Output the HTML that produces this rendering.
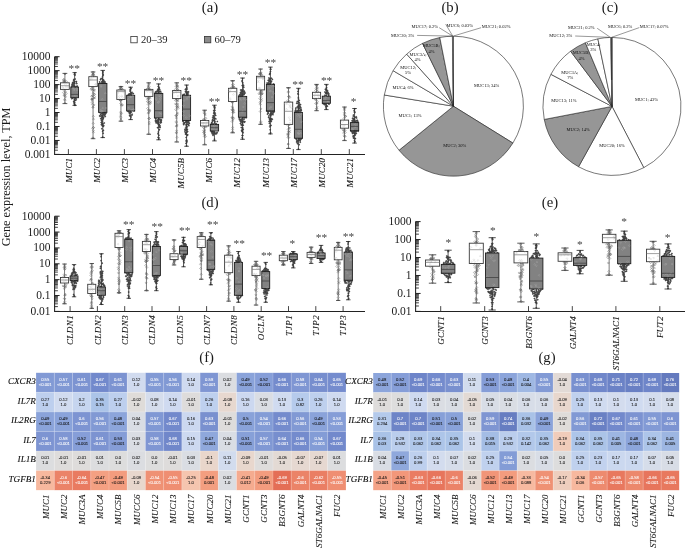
<!DOCTYPE html>
<html lang="en"><head><meta charset="utf-8"><title>Figure</title>
<style>html,body{margin:0;padding:0;background:#fff}body{width:685px;height:549px;overflow:hidden}svg{display:block}</style>
</head><body>
<svg width="685" height="549" viewBox="0 0 685 549" font-family='"Liberation Serif","DejaVu Serif",serif'>
<rect width="685" height="549" fill="#fff"/>
<text x="210" y="12.3" text-anchor="middle" font-size="14.7" fill="#1a1a1a">(a)</text>
<text x="450" y="12.3" text-anchor="middle" font-size="14.7" fill="#1a1a1a">(b)</text>
<text x="610" y="12.3" text-anchor="middle" font-size="14.7" fill="#1a1a1a">(c)</text>
<text x="210" y="207" text-anchor="middle" font-size="14.7" fill="#1a1a1a">(d)</text>
<text x="550" y="207" text-anchor="middle" font-size="14.7" fill="#1a1a1a">(e)</text>
<text x="206.6" y="362.3" text-anchor="middle" font-size="14.7" fill="#1a1a1a">(f)</text>
<text x="547" y="362" text-anchor="middle" font-size="14.7" fill="#1a1a1a">(g)</text>
<rect x="130.8" y="36.4" width="6.4" height="6.4" fill="#fff" stroke="#333" stroke-width="0.8"/>
<text x="141" y="43" font-size="10.6" fill="#1a1a1a">20–39</text>
<rect x="204.4" y="36.4" width="6.4" height="6.4" fill="#8c8c8c" stroke="#333" stroke-width="0.8"/>
<text x="214.4" y="43" font-size="10.6" fill="#1a1a1a">60–79</text>
<text transform="translate(10.4 246.2) rotate(-90)" font-size="12.2" fill="#1a1a1a">Gene expression level, TPM</text>
<g id="panel-a">
<path d="M62.65 80.57l1-1 1 1-1 1zM62.84 79.36l1-1 1 1-1 1zM63.64 82.45l1-1 1 1-1 1zM62.86 79.7l1-1 1 1-1 1zM62.87 82.17l1-1 1 1-1 1zM63.96 73.89l1-1 1 1-1 1zM65.53 81.6l1-1 1 1-1 1zM62.71 81.43l1-1 1 1-1 1zM63.29 81.11l1-1 1 1-1 1zM64.16 81.1l1-1 1 1-1 1zM64.01 94.69l1-1 1 1-1 1zM64.48 91.91l1-1 1 1-1 1zM63.21 90.39l1-1 1 1-1 1zM63.49 95.84l1-1 1 1-1 1zM63.58 99.33l1-1 1 1-1 1zM64.57 96.86l1-1 1 1-1 1zM65.2 93.49l1-1 1 1-1 1zM63.13 95.22l1-1 1 1-1 1zM62.54 92.69l1-1 1 1-1 1zM63.98 100.26l1-1 1 1-1 1zM63.9 74l1-1 1 1-1 1zM63.9 103l1-1 1 1-1 1z" fill="none" stroke="#707070" stroke-width="0.5"/><line x1="64.9" y1="73.4" x2="64.9" y2="103.6" stroke="#5a5a5a" stroke-width="0.8"/><path d="M62.5 73.4h4.8M62.5 103.6h4.8" stroke="#333" stroke-width="0.8" fill="none"/><rect x="60.5" y="82.8" width="8.8" height="6.6" fill="#fff" stroke="#3a3a3a" stroke-width="0.9"/><path d="M64.56 84.26l.9-.9 .9 .9-.9 .9zM67.13 87.1l.9-.9 .9 .9-.9 .9zM65.04 86.89l.9-.9 .9 .9-.9 .9zM62.48 87.91l.9-.9 .9 .9-.9 .9zM61.66 87.29l.9-.9 .9 .9-.9 .9z" fill="none" stroke="#c4c4c4" stroke-width="0.4"/><line x1="60.5" y1="85.7" x2="69.3" y2="85.7" stroke="#777" stroke-width="0.7"/>
<path d="M70.51 86.56l1.05-1.05 1.05 1.05-1.05 1.05zM72.09 85.31l1.05-1.05 1.05 1.05-1.05 1.05zM73.27 86.04l1.05-1.05 1.05 1.05-1.05 1.05zM76.11 85.99l1.05-1.05 1.05 1.05-1.05 1.05zM73.35 74.59l1.05-1.05 1.05 1.05-1.05 1.05zM75.26 81.84l1.05-1.05 1.05 1.05-1.05 1.05zM72.63 80.62l1.05-1.05 1.05 1.05-1.05 1.05zM74.24 86.71l1.05-1.05 1.05 1.05-1.05 1.05zM71.6 82.52l1.05-1.05 1.05 1.05-1.05 1.05zM75.75 83.6l1.05-1.05 1.05 1.05-1.05 1.05zM73.67 83.33l1.05-1.05 1.05 1.05-1.05 1.05zM76.41 86.59l1.05-1.05 1.05 1.05-1.05 1.05zM73.93 74.43l1.05-1.05 1.05 1.05-1.05 1.05zM72.94 85.98l1.05-1.05 1.05 1.05-1.05 1.05zM70.69 86.23l1.05-1.05 1.05 1.05-1.05 1.05zM71.36 86.1l1.05-1.05 1.05 1.05-1.05 1.05zM70.98 87.12l1.05-1.05 1.05 1.05-1.05 1.05zM72.57 87.17l1.05-1.05 1.05 1.05-1.05 1.05zM72.02 83.23l1.05-1.05 1.05 1.05-1.05 1.05zM72.92 83.19l1.05-1.05 1.05 1.05-1.05 1.05zM75.3 81.5l1.05-1.05 1.05 1.05-1.05 1.05zM73.54 81.66l1.05-1.05 1.05 1.05-1.05 1.05zM72.39 84.2l1.05-1.05 1.05 1.05-1.05 1.05zM70.92 84.84l1.05-1.05 1.05 1.05-1.05 1.05zM72.73 79.49l1.05-1.05 1.05 1.05-1.05 1.05zM70.9 84.96l1.05-1.05 1.05 1.05-1.05 1.05zM74.05 79.12l1.05-1.05 1.05 1.05-1.05 1.05zM72.72 86.1l1.05-1.05 1.05 1.05-1.05 1.05zM75.55 86.51l1.05-1.05 1.05 1.05-1.05 1.05zM72.53 82.21l1.05-1.05 1.05 1.05-1.05 1.05zM73.95 72.9l1.05-1.05 1.05 1.05-1.05 1.05zM73.89 75.25l1.05-1.05 1.05 1.05-1.05 1.05zM71.43 83.39l1.05-1.05 1.05 1.05-1.05 1.05zM72.01 97.92l1.05-1.05 1.05 1.05-1.05 1.05zM73.35 99.61l1.05-1.05 1.05 1.05-1.05 1.05zM74.06 105.1l1.05-1.05 1.05 1.05-1.05 1.05zM73.1 102.75l1.05-1.05 1.05 1.05-1.05 1.05zM74.44 98.18l1.05-1.05 1.05 1.05-1.05 1.05zM73.58 104.17l1.05-1.05 1.05 1.05-1.05 1.05zM75.23 99.08l1.05-1.05 1.05 1.05-1.05 1.05zM74.72 100.22l1.05-1.05 1.05 1.05-1.05 1.05zM72.7 101.38l1.05-1.05 1.05 1.05-1.05 1.05zM74.78 100.26l1.05-1.05 1.05 1.05-1.05 1.05zM73.26 100.75l1.05-1.05 1.05 1.05-1.05 1.05zM73.11 103.28l1.05-1.05 1.05 1.05-1.05 1.05zM72.72 101.7l1.05-1.05 1.05 1.05-1.05 1.05zM73.16 103.91l1.05-1.05 1.05 1.05-1.05 1.05zM73.76 105.1l1.05-1.05 1.05 1.05-1.05 1.05zM70.76 98.79l1.05-1.05 1.05 1.05-1.05 1.05zM73.65 102.7l1.05-1.05 1.05 1.05-1.05 1.05zM73.6 73.2l1.05-1.05 1.05 1.05-1.05 1.05zM73.6 104.8l1.05-1.05 1.05 1.05-1.05 1.05z" fill="#262626" fill-opacity="0.85"/><line x1="74.65" y1="72.6" x2="74.65" y2="105.4" stroke="#3a3a3a" stroke-width="0.85"/><path d="M72.53 72.6h4.25M72.53 105.4h4.25" stroke="#222" stroke-width="0.8" fill="none"/><rect x="70.8" y="87.2" width="7.7" height="10.5" fill="#828282" stroke="#1e1e1e" stroke-width="0.9"/><path d="M76.04 88.37l.9-.9 .9 .9-.9 .9zM72.15 88.02l.9-.9 .9 .9-.9 .9zM73.25 89.92l.9-.9 .9 .9-.9 .9zM74.26 95.63l.9-.9 .9 .9-.9 .9zM76.32 90.03l.9-.9 .9 .9-.9 .9zM73.38 88.44l.9-.9 .9 .9-.9 .9z" fill="none" stroke="#a9a9a9" stroke-width="0.4"/><line x1="70.8" y1="94.4" x2="78.5" y2="94.4" stroke="#3a3a3a" stroke-width="0.7"/>
<text x="74.2" y="72.45" text-anchor="middle" font-size="11.4" fill="#444">**</text>
<path d="M90.12 76.66l1-1 1 1-1 1zM91.97 75.87l1-1 1 1-1 1zM91.76 74.03l1-1 1 1-1 1zM92.52 74.03l1-1 1 1-1 1zM91.37 75.76l1-1 1 1-1 1zM92.16 74.26l1-1 1 1-1 1zM92.01 72.32l1-1 1 1-1 1zM92.07 74.27l1-1 1 1-1 1zM92.12 74.53l1-1 1 1-1 1zM93.62 76.32l1-1 1 1-1 1zM92.42 132.27l1-1 1 1-1 1zM92.54 119.13l1-1 1 1-1 1zM90.98 99.37l1-1 1 1-1 1zM90.74 96.32l1-1 1 1-1 1zM92.46 127.44l1-1 1 1-1 1zM92.81 91.36l1-1 1 1-1 1zM93.3 94.05l1-1 1 1-1 1zM93.37 98.04l1-1 1 1-1 1zM92.35 130.67l1-1 1 1-1 1zM91.8 90.14l1-1 1 1-1 1zM91.31 104.27l1-1 1 1-1 1zM92.26 87.1l1-1 1 1-1 1zM90.28 89.45l1-1 1 1-1 1zM90.81 99.04l1-1 1 1-1 1zM92.53 127.67l1-1 1 1-1 1zM91.38 98.88l1-1 1 1-1 1zM90.67 88.7l1-1 1 1-1 1zM93.26 97.99l1-1 1 1-1 1zM91.08 100.07l1-1 1 1-1 1zM92.37 116.33l1-1 1 1-1 1zM91.89 107.43l1-1 1 1-1 1zM93.46 94.48l1-1 1 1-1 1zM91.64 128.36l1-1 1 1-1 1zM93.36 90.07l1-1 1 1-1 1zM93.36 96.44l1-1 1 1-1 1zM91.09 102.28l1-1 1 1-1 1zM90.94 99.02l1-1 1 1-1 1zM91.47 95.91l1-1 1 1-1 1zM93 89.65l1-1 1 1-1 1zM91.57 95.73l1-1 1 1-1 1zM91.07 86.61l1-1 1 1-1 1zM90.89 88.56l1-1 1 1-1 1zM93.09 104.96l1-1 1 1-1 1zM92.03 93.11l1-1 1 1-1 1zM92.06 107.08l1-1 1 1-1 1zM91.94 137.79l1-1 1 1-1 1zM92.21 123.42l1-1 1 1-1 1zM92.05 72.5l1-1 1 1-1 1zM92.05 138.1l1-1 1 1-1 1z" fill="none" stroke="#707070" stroke-width="0.5"/><line x1="93.05" y1="71.9" x2="93.05" y2="138.7" stroke="#5a5a5a" stroke-width="0.8"/><path d="M90.72 71.9h4.65M90.72 138.7h4.65" stroke="#333" stroke-width="0.8" fill="none"/><rect x="88.8" y="76.7" width="8.5" height="9.9" fill="#fff" stroke="#3a3a3a" stroke-width="0.9"/><path d="M89.12 79.6l.9-.9 .9 .9-.9 .9zM89.86 77.6l.9-.9 .9 .9-.9 .9zM94.67 84.43l.9-.9 .9 .9-.9 .9zM91.87 77.59l.9-.9 .9 .9-.9 .9zM90.54 79.31l.9-.9 .9 .9-.9 .9zM95.32 84.52l.9-.9 .9 .9-.9 .9z" fill="none" stroke="#c4c4c4" stroke-width="0.4"/><line x1="88.8" y1="80" x2="97.3" y2="80" stroke="#777" stroke-width="0.7"/>
<path d="M100.66 82.7l1.05-1.05 1.05 1.05-1.05 1.05zM101.71 80.44l1.05-1.05 1.05 1.05-1.05 1.05zM101.73 80.68l1.05-1.05 1.05 1.05-1.05 1.05zM100.9 83.36l1.05-1.05 1.05 1.05-1.05 1.05zM98.6 81.92l1.05-1.05 1.05 1.05-1.05 1.05zM101.92 82.98l1.05-1.05 1.05 1.05-1.05 1.05zM102.1 74.89l1.05-1.05 1.05 1.05-1.05 1.05zM101.07 78.4l1.05-1.05 1.05 1.05-1.05 1.05zM103.07 81.54l1.05-1.05 1.05 1.05-1.05 1.05zM99.96 78.66l1.05-1.05 1.05 1.05-1.05 1.05zM101.84 71.82l1.05-1.05 1.05 1.05-1.05 1.05zM101.87 82.73l1.05-1.05 1.05 1.05-1.05 1.05zM103.79 81.64l1.05-1.05 1.05 1.05-1.05 1.05zM101.8 72.67l1.05-1.05 1.05 1.05-1.05 1.05zM102.03 74.55l1.05-1.05 1.05 1.05-1.05 1.05zM100.84 81.58l1.05-1.05 1.05 1.05-1.05 1.05zM104.28 83.12l1.05-1.05 1.05 1.05-1.05 1.05zM102.56 79.93l1.05-1.05 1.05 1.05-1.05 1.05zM99.39 79.8l1.05-1.05 1.05 1.05-1.05 1.05zM101.7 73.7l1.05-1.05 1.05 1.05-1.05 1.05zM103.43 82.77l1.05-1.05 1.05 1.05-1.05 1.05zM98.76 82.36l1.05-1.05 1.05 1.05-1.05 1.05zM103.56 83.18l1.05-1.05 1.05 1.05-1.05 1.05zM101.37 77.03l1.05-1.05 1.05 1.05-1.05 1.05zM102.74 81.03l1.05-1.05 1.05 1.05-1.05 1.05zM101.99 75.42l1.05-1.05 1.05 1.05-1.05 1.05zM103.25 81.81l1.05-1.05 1.05 1.05-1.05 1.05zM102.1 81.26l1.05-1.05 1.05 1.05-1.05 1.05zM102.64 80.81l1.05-1.05 1.05 1.05-1.05 1.05zM102.93 82.42l1.05-1.05 1.05 1.05-1.05 1.05zM101.55 79.42l1.05-1.05 1.05 1.05-1.05 1.05zM104.71 113.22l1.05-1.05 1.05 1.05-1.05 1.05zM100.8 128.8l1.05-1.05 1.05 1.05-1.05 1.05zM103.9 114.67l1.05-1.05 1.05 1.05-1.05 1.05zM100.97 123.73l1.05-1.05 1.05 1.05-1.05 1.05zM102.17 116.97l1.05-1.05 1.05 1.05-1.05 1.05zM101.87 114.03l1.05-1.05 1.05 1.05-1.05 1.05zM103.73 115.74l1.05-1.05 1.05 1.05-1.05 1.05zM100.58 120.74l1.05-1.05 1.05 1.05-1.05 1.05zM100.33 124.65l1.05-1.05 1.05 1.05-1.05 1.05zM101.66 119.58l1.05-1.05 1.05 1.05-1.05 1.05zM100.54 113.65l1.05-1.05 1.05 1.05-1.05 1.05zM103.8 116.08l1.05-1.05 1.05 1.05-1.05 1.05zM98.64 112.46l1.05-1.05 1.05 1.05-1.05 1.05zM102.34 130.37l1.05-1.05 1.05 1.05-1.05 1.05zM101.38 125.89l1.05-1.05 1.05 1.05-1.05 1.05zM101.17 121.81l1.05-1.05 1.05 1.05-1.05 1.05zM99.89 112.47l1.05-1.05 1.05 1.05-1.05 1.05zM100.99 123.15l1.05-1.05 1.05 1.05-1.05 1.05zM100.53 118.68l1.05-1.05 1.05 1.05-1.05 1.05zM100.36 120.38l1.05-1.05 1.05 1.05-1.05 1.05zM102.44 126.5l1.05-1.05 1.05 1.05-1.05 1.05zM104.19 116.39l1.05-1.05 1.05 1.05-1.05 1.05zM102.24 126.24l1.05-1.05 1.05 1.05-1.05 1.05zM103.63 113.25l1.05-1.05 1.05 1.05-1.05 1.05zM100.75 120.08l1.05-1.05 1.05 1.05-1.05 1.05zM101.52 115.7l1.05-1.05 1.05 1.05-1.05 1.05zM100.24 114.04l1.05-1.05 1.05 1.05-1.05 1.05zM102.54 117.82l1.05-1.05 1.05 1.05-1.05 1.05zM102.14 113.21l1.05-1.05 1.05 1.05-1.05 1.05zM99.66 114.48l1.05-1.05 1.05 1.05-1.05 1.05zM100.92 124.93l1.05-1.05 1.05 1.05-1.05 1.05zM101.65 137.3l1.05-1.05 1.05 1.05-1.05 1.05zM99.79 116.04l1.05-1.05 1.05 1.05-1.05 1.05zM99.83 114.08l1.05-1.05 1.05 1.05-1.05 1.05zM102.17 114.98l1.05-1.05 1.05 1.05-1.05 1.05zM101.57 131.29l1.05-1.05 1.05 1.05-1.05 1.05zM100.92 119.18l1.05-1.05 1.05 1.05-1.05 1.05zM100.03 113.44l1.05-1.05 1.05 1.05-1.05 1.05zM101.72 115.57l1.05-1.05 1.05 1.05-1.05 1.05zM100.23 115.61l1.05-1.05 1.05 1.05-1.05 1.05zM101.08 116.14l1.05-1.05 1.05 1.05-1.05 1.05zM102.68 125.54l1.05-1.05 1.05 1.05-1.05 1.05zM98.86 116.31l1.05-1.05 1.05 1.05-1.05 1.05zM102.13 118.73l1.05-1.05 1.05 1.05-1.05 1.05zM101.09 117.27l1.05-1.05 1.05 1.05-1.05 1.05zM102.13 133.2l1.05-1.05 1.05 1.05-1.05 1.05zM99.74 118.66l1.05-1.05 1.05 1.05-1.05 1.05zM103.2 122.98l1.05-1.05 1.05 1.05-1.05 1.05zM102.77 113.9l1.05-1.05 1.05 1.05-1.05 1.05zM101.86 123.92l1.05-1.05 1.05 1.05-1.05 1.05zM104.86 113.43l1.05-1.05 1.05 1.05-1.05 1.05zM100.61 117.43l1.05-1.05 1.05 1.05-1.05 1.05zM103.3 112.51l1.05-1.05 1.05 1.05-1.05 1.05zM100.17 122.43l1.05-1.05 1.05 1.05-1.05 1.05zM100.29 118.47l1.05-1.05 1.05 1.05-1.05 1.05zM98.63 115.88l1.05-1.05 1.05 1.05-1.05 1.05zM101.7 71l1.05-1.05 1.05 1.05-1.05 1.05zM101.7 137l1.05-1.05 1.05 1.05-1.05 1.05z" fill="#262626" fill-opacity="0.85"/><line x1="102.75" y1="70.4" x2="102.75" y2="137.6" stroke="#3a3a3a" stroke-width="0.85"/><path d="M100.47 70.4h4.55M100.47 137.6h4.55" stroke="#222" stroke-width="0.8" fill="none"/><rect x="98.6" y="83.5" width="8.3" height="28.9" fill="#828282" stroke="#1e1e1e" stroke-width="0.9"/><path d="M104.4 93.14l.9-.9 .9 .9-.9 .9zM100.17 86.63l.9-.9 .9 .9-.9 .9zM101.84 111.21l.9-.9 .9 .9-.9 .9zM100.24 85.55l.9-.9 .9 .9-.9 .9zM100.77 111.4l.9-.9 .9 .9-.9 .9zM99.85 110.24l.9-.9 .9 .9-.9 .9zM104.97 108.08l.9-.9 .9 .9-.9 .9zM100.06 111.49l.9-.9 .9 .9-.9 .9zM101.82 108.03l.9-.9 .9 .9-.9 .9zM101.3 99.34l.9-.9 .9 .9-.9 .9z" fill="none" stroke="#a9a9a9" stroke-width="0.4"/><line x1="98.6" y1="101.5" x2="106.9" y2="101.5" stroke="#3a3a3a" stroke-width="0.7"/>
<text x="102.6" y="70.25" text-anchor="middle" font-size="11.4" fill="#444">**</text>
<path d="M119.67 86.9l1-1 1 1-1 1zM118.85 89.41l1-1 1 1-1 1zM119.45 87.5l1-1 1 1-1 1zM120.4 88.42l1-1 1 1-1 1zM119.82 86.9l1-1 1 1-1 1zM120.98 88.82l1-1 1 1-1 1zM120.56 89.89l1-1 1 1-1 1zM118.94 89.4l1-1 1 1-1 1zM119.28 89.39l1-1 1 1-1 1zM121.45 89.53l1-1 1 1-1 1zM119.42 100.36l1-1 1 1-1 1zM119.89 117.34l1-1 1 1-1 1zM121.07 105.29l1-1 1 1-1 1zM119.46 100.47l1-1 1 1-1 1zM119.62 100.16l1-1 1 1-1 1zM119.47 116.14l1-1 1 1-1 1zM119.57 112.12l1-1 1 1-1 1zM119.82 119l1-1 1 1-1 1zM121.22 104.73l1-1 1 1-1 1zM120.53 105.19l1-1 1 1-1 1zM120.93 99.58l1-1 1 1-1 1zM120.57 113.26l1-1 1 1-1 1zM118.95 100.02l1-1 1 1-1 1zM119.8 114.02l1-1 1 1-1 1zM119.74 103.54l1-1 1 1-1 1zM119.95 87.2l1-1 1 1-1 1zM119.95 120.6l1-1 1 1-1 1z" fill="none" stroke="#707070" stroke-width="0.5"/><line x1="120.95" y1="86.6" x2="120.95" y2="121.2" stroke="#5a5a5a" stroke-width="0.8"/><path d="M118.67 86.6h4.55M118.67 121.2h4.55" stroke="#333" stroke-width="0.8" fill="none"/><rect x="116.8" y="90" width="8.3" height="9.5" fill="#fff" stroke="#3a3a3a" stroke-width="0.9"/><path d="M121.63 97.44l.9-.9 .9 .9-.9 .9zM120.76 95.89l.9-.9 .9 .9-.9 .9zM117.25 93.16l.9-.9 .9 .9-.9 .9zM118.37 96.42l.9-.9 .9 .9-.9 .9zM123.24 92.56l.9-.9 .9 .9-.9 .9zM118.49 98.21l.9-.9 .9 .9-.9 .9z" fill="none" stroke="#c4c4c4" stroke-width="0.4"/><line x1="116.8" y1="91.6" x2="125.1" y2="91.6" stroke="#777" stroke-width="0.7"/>
<path d="M130.58 93.11l1.05-1.05 1.05 1.05-1.05 1.05zM128.12 93.78l1.05-1.05 1.05 1.05-1.05 1.05zM130.68 92.83l1.05-1.05 1.05 1.05-1.05 1.05zM128.93 89.92l1.05-1.05 1.05 1.05-1.05 1.05zM129.9 92.92l1.05-1.05 1.05 1.05-1.05 1.05zM130.67 92.97l1.05-1.05 1.05 1.05-1.05 1.05zM126.87 95.27l1.05-1.05 1.05 1.05-1.05 1.05zM129.21 90.62l1.05-1.05 1.05 1.05-1.05 1.05zM132.22 93.6l1.05-1.05 1.05 1.05-1.05 1.05zM130.69 94.82l1.05-1.05 1.05 1.05-1.05 1.05zM129.43 94.47l1.05-1.05 1.05 1.05-1.05 1.05zM130.09 88.49l1.05-1.05 1.05 1.05-1.05 1.05zM129.04 91.2l1.05-1.05 1.05 1.05-1.05 1.05zM129.98 93.04l1.05-1.05 1.05 1.05-1.05 1.05zM130.97 92.28l1.05-1.05 1.05 1.05-1.05 1.05zM129.21 89.64l1.05-1.05 1.05 1.05-1.05 1.05zM129.2 87.64l1.05-1.05 1.05 1.05-1.05 1.05zM128.8 94.14l1.05-1.05 1.05 1.05-1.05 1.05zM127.77 94.21l1.05-1.05 1.05 1.05-1.05 1.05zM128.38 113.77l1.05-1.05 1.05 1.05-1.05 1.05zM128.73 112.97l1.05-1.05 1.05 1.05-1.05 1.05zM127.62 111.74l1.05-1.05 1.05 1.05-1.05 1.05zM128.55 115.67l1.05-1.05 1.05 1.05-1.05 1.05zM129.06 112.83l1.05-1.05 1.05 1.05-1.05 1.05zM127.29 111.58l1.05-1.05 1.05 1.05-1.05 1.05zM129 111.72l1.05-1.05 1.05 1.05-1.05 1.05zM128.67 113.03l1.05-1.05 1.05 1.05-1.05 1.05zM129.33 116.54l1.05-1.05 1.05 1.05-1.05 1.05zM129.33 116.31l1.05-1.05 1.05 1.05-1.05 1.05zM129.96 117.09l1.05-1.05 1.05 1.05-1.05 1.05zM129.44 116.14l1.05-1.05 1.05 1.05-1.05 1.05zM130.92 114.43l1.05-1.05 1.05 1.05-1.05 1.05zM127.03 111.09l1.05-1.05 1.05 1.05-1.05 1.05zM131.1 114.2l1.05-1.05 1.05 1.05-1.05 1.05zM130.37 112.01l1.05-1.05 1.05 1.05-1.05 1.05zM128.32 112.27l1.05-1.05 1.05 1.05-1.05 1.05zM132.95 110.94l1.05-1.05 1.05 1.05-1.05 1.05zM130.86 115.3l1.05-1.05 1.05 1.05-1.05 1.05zM126.79 111.16l1.05-1.05 1.05 1.05-1.05 1.05zM129.6 87.8l1.05-1.05 1.05 1.05-1.05 1.05zM129.6 119l1.05-1.05 1.05 1.05-1.05 1.05z" fill="#262626" fill-opacity="0.85"/><line x1="130.65" y1="87.2" x2="130.65" y2="119.6" stroke="#3a3a3a" stroke-width="0.85"/><path d="M128.42 87.2h4.45M128.42 119.6h4.45" stroke="#222" stroke-width="0.8" fill="none"/><rect x="126.6" y="95.3" width="8.1" height="15.6" fill="#828282" stroke="#1e1e1e" stroke-width="0.9"/><path d="M132.51 109.18l.9-.9 .9 .9-.9 .9zM130.53 110l.9-.9 .9 .9-.9 .9zM129.13 96.64l.9-.9 .9 .9-.9 .9zM127.7 108.16l.9-.9 .9 .9-.9 .9zM127.31 99.45l.9-.9 .9 .9-.9 .9zM132.32 109.79l.9-.9 .9 .9-.9 .9zM131.94 96.14l.9-.9 .9 .9-.9 .9zM130.07 97.06l.9-.9 .9 .9-.9 .9z" fill="none" stroke="#a9a9a9" stroke-width="0.4"/><line x1="126.6" y1="104.7" x2="134.7" y2="104.7" stroke="#3a3a3a" stroke-width="0.7"/>
<text x="130.5" y="86.75" text-anchor="middle" font-size="11.4" fill="#444">**</text>
<path d="M147.55 87.38l1-1 1 1-1 1zM148.08 86.59l1-1 1 1-1 1zM148.18 89.03l1-1 1 1-1 1zM146.76 89.25l1-1 1 1-1 1zM147.71 84.25l1-1 1 1-1 1zM146.54 88.53l1-1 1 1-1 1zM146.22 89.25l1-1 1 1-1 1zM148.22 88.87l1-1 1 1-1 1zM148.64 89.37l1-1 1 1-1 1zM146.96 86.02l1-1 1 1-1 1zM148.76 110.72l1-1 1 1-1 1zM148.11 118.44l1-1 1 1-1 1zM149.19 103.74l1-1 1 1-1 1zM148.27 124.06l1-1 1 1-1 1zM148.65 102.66l1-1 1 1-1 1zM147.22 98.88l1-1 1 1-1 1zM148.99 102.42l1-1 1 1-1 1zM147.76 98.77l1-1 1 1-1 1zM147.06 104.3l1-1 1 1-1 1zM146.6 108.49l1-1 1 1-1 1zM146.66 101.81l1-1 1 1-1 1zM148.25 122.16l1-1 1 1-1 1zM147.86 97.54l1-1 1 1-1 1zM148.61 110.04l1-1 1 1-1 1zM148.35 118.38l1-1 1 1-1 1zM149.35 101.52l1-1 1 1-1 1zM148.4 111.34l1-1 1 1-1 1zM147.43 110.3l1-1 1 1-1 1zM147.1 113.16l1-1 1 1-1 1zM148.91 98.23l1-1 1 1-1 1zM148.27 97.23l1-1 1 1-1 1zM148 118.6l1-1 1 1-1 1zM146.52 99.18l1-1 1 1-1 1zM147.78 112.78l1-1 1 1-1 1zM146.86 101.4l1-1 1 1-1 1zM145.89 97.24l1-1 1 1-1 1zM147.75 83.4l1-1 1 1-1 1zM147.75 133.7l1-1 1 1-1 1z" fill="none" stroke="#707070" stroke-width="0.5"/><line x1="148.75" y1="82.8" x2="148.75" y2="134.3" stroke="#5a5a5a" stroke-width="0.8"/><path d="M146.47 82.8h4.55M146.47 134.3h4.55" stroke="#333" stroke-width="0.8" fill="none"/><rect x="144.6" y="89.4" width="8.3" height="7" fill="#fff" stroke="#3a3a3a" stroke-width="0.9"/><path d="M146.9 90.2l.9-.9 .9 .9-.9 .9zM148.67 91.08l.9-.9 .9 .9-.9 .9zM150.75 90.75l.9-.9 .9 .9-.9 .9zM150.32 92.01l.9-.9 .9 .9-.9 .9zM146.28 91.44l.9-.9 .9 .9-.9 .9z" fill="none" stroke="#c4c4c4" stroke-width="0.4"/><line x1="144.6" y1="90.5" x2="152.9" y2="90.5" stroke="#777" stroke-width="0.7"/>
<path d="M156.75 91.3l1.05-1.05 1.05 1.05-1.05 1.05zM157.29 90.7l1.05-1.05 1.05 1.05-1.05 1.05zM157.17 86.43l1.05-1.05 1.05 1.05-1.05 1.05zM157.79 92.98l1.05-1.05 1.05 1.05-1.05 1.05zM159.8 93.33l1.05-1.05 1.05 1.05-1.05 1.05zM157.9 92.48l1.05-1.05 1.05 1.05-1.05 1.05zM155.66 92.05l1.05-1.05 1.05 1.05-1.05 1.05zM158.67 89.59l1.05-1.05 1.05 1.05-1.05 1.05zM156.04 93.23l1.05-1.05 1.05 1.05-1.05 1.05zM158.23 88.08l1.05-1.05 1.05 1.05-1.05 1.05zM154.65 91.73l1.05-1.05 1.05 1.05-1.05 1.05zM157.5 86.32l1.05-1.05 1.05 1.05-1.05 1.05zM155.3 91.58l1.05-1.05 1.05 1.05-1.05 1.05zM154.16 92.84l1.05-1.05 1.05 1.05-1.05 1.05zM160.37 93.39l1.05-1.05 1.05 1.05-1.05 1.05zM156.77 89.3l1.05-1.05 1.05 1.05-1.05 1.05zM157.62 89.08l1.05-1.05 1.05 1.05-1.05 1.05zM158.36 91.57l1.05-1.05 1.05 1.05-1.05 1.05zM159.6 91.34l1.05-1.05 1.05 1.05-1.05 1.05zM159.5 93.27l1.05-1.05 1.05 1.05-1.05 1.05zM157.3 86.31l1.05-1.05 1.05 1.05-1.05 1.05zM156.44 90.28l1.05-1.05 1.05 1.05-1.05 1.05zM157.93 87.41l1.05-1.05 1.05 1.05-1.05 1.05zM160.2 122.39l1.05-1.05 1.05 1.05-1.05 1.05zM159.42 122.97l1.05-1.05 1.05 1.05-1.05 1.05zM158.42 125.92l1.05-1.05 1.05 1.05-1.05 1.05zM158.44 119.4l1.05-1.05 1.05 1.05-1.05 1.05zM159.94 121.86l1.05-1.05 1.05 1.05-1.05 1.05zM160.3 120.77l1.05-1.05 1.05 1.05-1.05 1.05zM154.73 118.39l1.05-1.05 1.05 1.05-1.05 1.05zM158.01 127l1.05-1.05 1.05 1.05-1.05 1.05zM159.13 120.34l1.05-1.05 1.05 1.05-1.05 1.05zM159.24 122.81l1.05-1.05 1.05 1.05-1.05 1.05zM157.08 137.42l1.05-1.05 1.05 1.05-1.05 1.05zM158.02 137.93l1.05-1.05 1.05 1.05-1.05 1.05zM155.7 121.04l1.05-1.05 1.05 1.05-1.05 1.05zM158.36 129.52l1.05-1.05 1.05 1.05-1.05 1.05zM159.7 120.45l1.05-1.05 1.05 1.05-1.05 1.05zM154.43 118.55l1.05-1.05 1.05 1.05-1.05 1.05zM156.55 122.39l1.05-1.05 1.05 1.05-1.05 1.05zM154.44 120.64l1.05-1.05 1.05 1.05-1.05 1.05zM156.63 119.88l1.05-1.05 1.05 1.05-1.05 1.05zM159.08 127.42l1.05-1.05 1.05 1.05-1.05 1.05zM155.09 122.96l1.05-1.05 1.05 1.05-1.05 1.05zM157.27 124.74l1.05-1.05 1.05 1.05-1.05 1.05zM158.38 125.49l1.05-1.05 1.05 1.05-1.05 1.05zM154.85 120.45l1.05-1.05 1.05 1.05-1.05 1.05zM154.59 121.63l1.05-1.05 1.05 1.05-1.05 1.05zM158.2 129.84l1.05-1.05 1.05 1.05-1.05 1.05zM157.48 118l1.05-1.05 1.05 1.05-1.05 1.05zM157.51 119.03l1.05-1.05 1.05 1.05-1.05 1.05zM159.52 121.65l1.05-1.05 1.05 1.05-1.05 1.05zM156 122.6l1.05-1.05 1.05 1.05-1.05 1.05zM157.54 119.63l1.05-1.05 1.05 1.05-1.05 1.05zM159.61 119.55l1.05-1.05 1.05 1.05-1.05 1.05zM159.55 119.81l1.05-1.05 1.05 1.05-1.05 1.05zM156.93 121.73l1.05-1.05 1.05 1.05-1.05 1.05zM160.27 119.79l1.05-1.05 1.05 1.05-1.05 1.05zM155.98 122.79l1.05-1.05 1.05 1.05-1.05 1.05zM156.97 123.78l1.05-1.05 1.05 1.05-1.05 1.05zM157.35 123.02l1.05-1.05 1.05 1.05-1.05 1.05zM159 122.11l1.05-1.05 1.05 1.05-1.05 1.05zM157.26 132.05l1.05-1.05 1.05 1.05-1.05 1.05zM158.28 124.51l1.05-1.05 1.05 1.05-1.05 1.05zM156.49 127.67l1.05-1.05 1.05 1.05-1.05 1.05zM154.77 119.08l1.05-1.05 1.05 1.05-1.05 1.05zM159.05 125.88l1.05-1.05 1.05 1.05-1.05 1.05zM158.97 119.76l1.05-1.05 1.05 1.05-1.05 1.05zM155.44 121.29l1.05-1.05 1.05 1.05-1.05 1.05zM156.62 122.75l1.05-1.05 1.05 1.05-1.05 1.05zM155.56 120.8l1.05-1.05 1.05 1.05-1.05 1.05zM156.94 133.86l1.05-1.05 1.05 1.05-1.05 1.05zM156.76 120.13l1.05-1.05 1.05 1.05-1.05 1.05zM157.85 135.31l1.05-1.05 1.05 1.05-1.05 1.05zM155.89 122.53l1.05-1.05 1.05 1.05-1.05 1.05zM156.86 121.16l1.05-1.05 1.05 1.05-1.05 1.05zM157.55 84.5l1.05-1.05 1.05 1.05-1.05 1.05zM157.55 139.2l1.05-1.05 1.05 1.05-1.05 1.05z" fill="#262626" fill-opacity="0.85"/><line x1="158.6" y1="83.9" x2="158.6" y2="139.8" stroke="#3a3a3a" stroke-width="0.85"/><path d="M156.3 83.9h4.6M156.3 139.8h4.6" stroke="#222" stroke-width="0.8" fill="none"/><rect x="154.4" y="93.4" width="8.4" height="24.5" fill="#828282" stroke="#1e1e1e" stroke-width="0.9"/><path d="M159.66 96.48l.9-.9 .9 .9-.9 .9zM155.29 98.25l.9-.9 .9 .9-.9 .9zM159.32 98.64l.9-.9 .9 .9-.9 .9zM157.17 102.21l.9-.9 .9 .9-.9 .9zM160.25 113.81l.9-.9 .9 .9-.9 .9zM158.65 113.11l.9-.9 .9 .9-.9 .9zM158.56 100.7l.9-.9 .9 .9-.9 .9zM158.57 95.92l.9-.9 .9 .9-.9 .9zM157.4 102.54l.9-.9 .9 .9-.9 .9zM155.57 99.83l.9-.9 .9 .9-.9 .9z" fill="none" stroke="#a9a9a9" stroke-width="0.4"/><line x1="154.4" y1="110.7" x2="162.8" y2="110.7" stroke="#3a3a3a" stroke-width="0.7"/>
<text x="158.5" y="83.95" text-anchor="middle" font-size="11.4" fill="#444">**</text>
<path d="M175.64 84.51l1-1 1 1-1 1zM176.5 86.06l1-1 1 1-1 1zM176.63 89.27l1-1 1 1-1 1zM175.05 86.5l1-1 1 1-1 1zM176.12 86.33l1-1 1 1-1 1zM176.21 85.58l1-1 1 1-1 1zM176.7 87.34l1-1 1 1-1 1zM176.42 90.16l1-1 1 1-1 1zM177.59 90.41l1-1 1 1-1 1zM174.33 89.4l1-1 1 1-1 1zM175.45 100.21l1-1 1 1-1 1zM176.49 99.77l1-1 1 1-1 1zM176.66 99.42l1-1 1 1-1 1zM175.26 121.48l1-1 1 1-1 1zM175.12 115.61l1-1 1 1-1 1zM176.57 107.22l1-1 1 1-1 1zM175.71 126.13l1-1 1 1-1 1zM177.07 108.41l1-1 1 1-1 1zM176.51 113.05l1-1 1 1-1 1zM175.3 115.8l1-1 1 1-1 1zM176.84 104.03l1-1 1 1-1 1zM175.35 104.27l1-1 1 1-1 1zM175.52 106.33l1-1 1 1-1 1zM175.31 118.04l1-1 1 1-1 1zM174.99 98.93l1-1 1 1-1 1zM176.12 114.19l1-1 1 1-1 1zM177.07 106.12l1-1 1 1-1 1zM176.93 101.08l1-1 1 1-1 1zM175.38 132.63l1-1 1 1-1 1zM175.07 126.08l1-1 1 1-1 1zM175.2 115.54l1-1 1 1-1 1zM174.57 103.9l1-1 1 1-1 1zM174.48 100.44l1-1 1 1-1 1zM175.42 132.96l1-1 1 1-1 1zM176.16 125l1-1 1 1-1 1zM175.98 137.4l1-1 1 1-1 1zM176.32 107.17l1-1 1 1-1 1zM175.68 130.8l1-1 1 1-1 1zM175.36 122.69l1-1 1 1-1 1zM174.77 109.66l1-1 1 1-1 1zM175.75 83.4l1-1 1 1-1 1zM175.75 141.4l1-1 1 1-1 1z" fill="none" stroke="#707070" stroke-width="0.5"/><line x1="176.75" y1="82.8" x2="176.75" y2="142" stroke="#5a5a5a" stroke-width="0.8"/><path d="M174.47 82.8h4.55M174.47 142h4.55" stroke="#333" stroke-width="0.8" fill="none"/><rect x="172.6" y="90.5" width="8.3" height="8.1" fill="#fff" stroke="#3a3a3a" stroke-width="0.9"/><path d="M175.79 92.27l.9-.9 .9 .9-.9 .9zM178.26 91.5l.9-.9 .9 .9-.9 .9zM176.95 95.96l.9-.9 .9 .9-.9 .9zM175.31 91.76l.9-.9 .9 .9-.9 .9zM172.72 92.95l.9-.9 .9 .9-.9 .9z" fill="none" stroke="#c4c4c4" stroke-width="0.4"/><line x1="172.6" y1="92.3" x2="180.9" y2="92.3" stroke="#777" stroke-width="0.7"/>
<path d="M186.3 92.19l1.05-1.05 1.05 1.05-1.05 1.05zM187.48 91.9l1.05-1.05 1.05 1.05-1.05 1.05zM184.5 89.17l1.05-1.05 1.05 1.05-1.05 1.05zM186.4 94.71l1.05-1.05 1.05 1.05-1.05 1.05zM185.35 93.52l1.05-1.05 1.05 1.05-1.05 1.05zM186.96 93.2l1.05-1.05 1.05 1.05-1.05 1.05zM185.75 92.53l1.05-1.05 1.05 1.05-1.05 1.05zM186.96 92.28l1.05-1.05 1.05 1.05-1.05 1.05zM185.52 94.1l1.05-1.05 1.05 1.05-1.05 1.05zM185.72 87.47l1.05-1.05 1.05 1.05-1.05 1.05zM184.75 91.89l1.05-1.05 1.05 1.05-1.05 1.05zM186.15 94.98l1.05-1.05 1.05 1.05-1.05 1.05zM187.21 95.12l1.05-1.05 1.05 1.05-1.05 1.05zM184.41 89.68l1.05-1.05 1.05 1.05-1.05 1.05zM182.1 94.49l1.05-1.05 1.05 1.05-1.05 1.05zM186.14 91.82l1.05-1.05 1.05 1.05-1.05 1.05zM185.62 85.93l1.05-1.05 1.05 1.05-1.05 1.05zM186.21 93.43l1.05-1.05 1.05 1.05-1.05 1.05zM184.37 91.71l1.05-1.05 1.05 1.05-1.05 1.05zM185.29 92.82l1.05-1.05 1.05 1.05-1.05 1.05zM183.4 94.26l1.05-1.05 1.05 1.05-1.05 1.05zM186.54 94.32l1.05-1.05 1.05 1.05-1.05 1.05zM186.16 88.99l1.05-1.05 1.05 1.05-1.05 1.05zM184.94 89.51l1.05-1.05 1.05 1.05-1.05 1.05zM185.14 126.08l1.05-1.05 1.05 1.05-1.05 1.05zM188.28 123.49l1.05-1.05 1.05 1.05-1.05 1.05zM182.85 122.37l1.05-1.05 1.05 1.05-1.05 1.05zM186.44 135.34l1.05-1.05 1.05 1.05-1.05 1.05zM181.87 121.34l1.05-1.05 1.05 1.05-1.05 1.05zM186.65 134.76l1.05-1.05 1.05 1.05-1.05 1.05zM185.16 129.8l1.05-1.05 1.05 1.05-1.05 1.05zM183.28 123.57l1.05-1.05 1.05 1.05-1.05 1.05zM182.54 124.43l1.05-1.05 1.05 1.05-1.05 1.05zM184.45 134.08l1.05-1.05 1.05 1.05-1.05 1.05zM182.48 123.83l1.05-1.05 1.05 1.05-1.05 1.05zM184.8 133.52l1.05-1.05 1.05 1.05-1.05 1.05zM187.54 121.39l1.05-1.05 1.05 1.05-1.05 1.05zM187.93 122.64l1.05-1.05 1.05 1.05-1.05 1.05zM186.34 129.27l1.05-1.05 1.05 1.05-1.05 1.05zM187.85 125.64l1.05-1.05 1.05 1.05-1.05 1.05zM183.93 131.69l1.05-1.05 1.05 1.05-1.05 1.05zM186.5 123.05l1.05-1.05 1.05 1.05-1.05 1.05zM184.2 122.56l1.05-1.05 1.05 1.05-1.05 1.05zM185.44 127.73l1.05-1.05 1.05 1.05-1.05 1.05zM185.12 132.9l1.05-1.05 1.05 1.05-1.05 1.05zM184.23 130.56l1.05-1.05 1.05 1.05-1.05 1.05zM186.05 129.87l1.05-1.05 1.05 1.05-1.05 1.05zM185.02 124.58l1.05-1.05 1.05 1.05-1.05 1.05zM187.2 124.43l1.05-1.05 1.05 1.05-1.05 1.05zM185.12 137.45l1.05-1.05 1.05 1.05-1.05 1.05zM186.56 131.61l1.05-1.05 1.05 1.05-1.05 1.05zM186.24 122.33l1.05-1.05 1.05 1.05-1.05 1.05zM185.62 141.95l1.05-1.05 1.05 1.05-1.05 1.05zM185.19 134.12l1.05-1.05 1.05 1.05-1.05 1.05zM185.99 127.06l1.05-1.05 1.05 1.05-1.05 1.05zM185.23 141.33l1.05-1.05 1.05 1.05-1.05 1.05zM186.16 121.12l1.05-1.05 1.05 1.05-1.05 1.05zM185 143.4l1.05-1.05 1.05 1.05-1.05 1.05zM185.96 141.44l1.05-1.05 1.05 1.05-1.05 1.05zM184.49 128.04l1.05-1.05 1.05 1.05-1.05 1.05zM185.73 141.32l1.05-1.05 1.05 1.05-1.05 1.05zM183.86 129.45l1.05-1.05 1.05 1.05-1.05 1.05zM187.3 121.92l1.05-1.05 1.05 1.05-1.05 1.05zM186.04 126.54l1.05-1.05 1.05 1.05-1.05 1.05zM185.3 125.12l1.05-1.05 1.05 1.05-1.05 1.05zM187.76 120.86l1.05-1.05 1.05 1.05-1.05 1.05zM184.28 132.54l1.05-1.05 1.05 1.05-1.05 1.05zM185.14 140.42l1.05-1.05 1.05 1.05-1.05 1.05zM185.57 132.48l1.05-1.05 1.05 1.05-1.05 1.05zM185.85 129.57l1.05-1.05 1.05 1.05-1.05 1.05zM186.92 122.12l1.05-1.05 1.05 1.05-1.05 1.05zM185.88 124.76l1.05-1.05 1.05 1.05-1.05 1.05zM182.81 124.58l1.05-1.05 1.05 1.05-1.05 1.05zM184.04 130.15l1.05-1.05 1.05 1.05-1.05 1.05zM187.71 120.94l1.05-1.05 1.05 1.05-1.05 1.05zM185.6 125.94l1.05-1.05 1.05 1.05-1.05 1.05zM182.69 124.31l1.05-1.05 1.05 1.05-1.05 1.05zM185.48 142.84l1.05-1.05 1.05 1.05-1.05 1.05zM184.95 121.41l1.05-1.05 1.05 1.05-1.05 1.05zM185.94 140.3l1.05-1.05 1.05 1.05-1.05 1.05zM185.5 85.6l1.05-1.05 1.05 1.05-1.05 1.05zM185.5 145.7l1.05-1.05 1.05 1.05-1.05 1.05z" fill="#262626" fill-opacity="0.85"/><line x1="186.55" y1="85" x2="186.55" y2="146.3" stroke="#3a3a3a" stroke-width="0.85"/><path d="M184.33 85h4.45M184.33 146.3h4.45" stroke="#222" stroke-width="0.8" fill="none"/><rect x="182.5" y="95.3" width="8.1" height="25.2" fill="#828282" stroke="#1e1e1e" stroke-width="0.9"/><path d="M182.66 105.71l.9-.9 .9 .9-.9 .9zM186.02 97.65l.9-.9 .9 .9-.9 .9zM188.55 97l.9-.9 .9 .9-.9 .9zM183.19 100.65l.9-.9 .9 .9-.9 .9zM186.07 99.32l.9-.9 .9 .9-.9 .9zM185.32 117.51l.9-.9 .9 .9-.9 .9zM188.84 115.73l.9-.9 .9 .9-.9 .9zM188.26 96.29l.9-.9 .9 .9-.9 .9zM182.71 115.48l.9-.9 .9 .9-.9 .9zM182.77 111.73l.9-.9 .9 .9-.9 .9z" fill="none" stroke="#a9a9a9" stroke-width="0.4"/><line x1="182.5" y1="109.1" x2="190.6" y2="109.1" stroke="#3a3a3a" stroke-width="0.7"/>
<text x="186.3" y="83.95" text-anchor="middle" font-size="11.4" fill="#444">**</text>
<path d="M204 113.82l1-1 1 1-1 1zM203.39 113.53l1-1 1 1-1 1zM203.23 112.69l1-1 1 1-1 1zM203.58 120.43l1-1 1 1-1 1zM202.81 119.02l1-1 1 1-1 1zM204.47 120.3l1-1 1 1-1 1zM201.95 120.09l1-1 1 1-1 1zM204.9 118.23l1-1 1 1-1 1zM203.36 111.35l1-1 1 1-1 1zM204.24 115.06l1-1 1 1-1 1zM203.33 134.5l1-1 1 1-1 1zM203.89 134.98l1-1 1 1-1 1zM203.01 132.93l1-1 1 1-1 1zM202.41 127.51l1-1 1 1-1 1zM203.41 131.01l1-1 1 1-1 1zM203.11 132.51l1-1 1 1-1 1zM202.85 132.29l1-1 1 1-1 1zM202.59 130.72l1-1 1 1-1 1zM205.07 127.07l1-1 1 1-1 1zM203.58 129.97l1-1 1 1-1 1zM203.25 136.35l1-1 1 1-1 1zM204.45 136.63l1-1 1 1-1 1zM202.93 127.83l1-1 1 1-1 1zM203.65 110.8l1-1 1 1-1 1zM203.65 144.2l1-1 1 1-1 1z" fill="none" stroke="#707070" stroke-width="0.5"/><line x1="204.65" y1="110.2" x2="204.65" y2="144.8" stroke="#5a5a5a" stroke-width="0.8"/><path d="M202.38 110.2h4.55M202.38 144.8h4.55" stroke="#333" stroke-width="0.8" fill="none"/><rect x="200.5" y="120.5" width="8.3" height="5.5" fill="#fff" stroke="#3a3a3a" stroke-width="0.9"/><path d="M205.25 124.1l.9-.9 .9 .9-.9 .9zM202.69 123.41l.9-.9 .9 .9-.9 .9zM205.96 121.52l.9-.9 .9 .9-.9 .9zM201.88 123.75l.9-.9 .9 .9-.9 .9z" fill="none" stroke="#c4c4c4" stroke-width="0.4"/><line x1="200.5" y1="122.9" x2="208.8" y2="122.9" stroke="#777" stroke-width="0.7"/>
<path d="M211.57 119.71l1.05-1.05 1.05 1.05-1.05 1.05zM211.18 123.31l1.05-1.05 1.05 1.05-1.05 1.05zM212.06 115.99l1.05-1.05 1.05 1.05-1.05 1.05zM211.85 120.1l1.05-1.05 1.05 1.05-1.05 1.05zM215.06 124.28l1.05-1.05 1.05 1.05-1.05 1.05zM212.73 113.21l1.05-1.05 1.05 1.05-1.05 1.05zM215.1 123.8l1.05-1.05 1.05 1.05-1.05 1.05zM214.84 118.93l1.05-1.05 1.05 1.05-1.05 1.05zM213.37 118.53l1.05-1.05 1.05 1.05-1.05 1.05zM214.63 115.39l1.05-1.05 1.05 1.05-1.05 1.05zM211.49 121.47l1.05-1.05 1.05 1.05-1.05 1.05zM212.11 117.35l1.05-1.05 1.05 1.05-1.05 1.05zM213.97 121.35l1.05-1.05 1.05 1.05-1.05 1.05zM213.47 118.6l1.05-1.05 1.05 1.05-1.05 1.05zM215.02 123.67l1.05-1.05 1.05 1.05-1.05 1.05zM213.2 107.78l1.05-1.05 1.05 1.05-1.05 1.05zM211.62 117.81l1.05-1.05 1.05 1.05-1.05 1.05zM213.39 106.08l1.05-1.05 1.05 1.05-1.05 1.05zM213.53 118.32l1.05-1.05 1.05 1.05-1.05 1.05zM212.98 110.45l1.05-1.05 1.05 1.05-1.05 1.05zM210.69 122.58l1.05-1.05 1.05 1.05-1.05 1.05zM210.29 123.86l1.05-1.05 1.05 1.05-1.05 1.05zM211.2 123.19l1.05-1.05 1.05 1.05-1.05 1.05zM213.5 118.68l1.05-1.05 1.05 1.05-1.05 1.05zM211.26 120.28l1.05-1.05 1.05 1.05-1.05 1.05zM212.69 110.63l1.05-1.05 1.05 1.05-1.05 1.05zM212.48 118.07l1.05-1.05 1.05 1.05-1.05 1.05zM212.65 124.14l1.05-1.05 1.05 1.05-1.05 1.05zM212.33 115.45l1.05-1.05 1.05 1.05-1.05 1.05zM214.5 118.57l1.05-1.05 1.05 1.05-1.05 1.05zM212.91 118.58l1.05-1.05 1.05 1.05-1.05 1.05zM214.15 113.15l1.05-1.05 1.05 1.05-1.05 1.05zM214.11 114.25l1.05-1.05 1.05 1.05-1.05 1.05zM212.49 116.59l1.05-1.05 1.05 1.05-1.05 1.05zM213.87 110.47l1.05-1.05 1.05 1.05-1.05 1.05zM213.83 108.75l1.05-1.05 1.05 1.05-1.05 1.05zM213.48 118.43l1.05-1.05 1.05 1.05-1.05 1.05zM213.14 106.46l1.05-1.05 1.05 1.05-1.05 1.05zM213.58 120.96l1.05-1.05 1.05 1.05-1.05 1.05zM213.03 120.61l1.05-1.05 1.05 1.05-1.05 1.05zM216.27 121.48l1.05-1.05 1.05 1.05-1.05 1.05zM213.54 106.41l1.05-1.05 1.05 1.05-1.05 1.05zM213.82 107.42l1.05-1.05 1.05 1.05-1.05 1.05zM214.51 124.02l1.05-1.05 1.05 1.05-1.05 1.05zM213.69 122.53l1.05-1.05 1.05 1.05-1.05 1.05zM212.9 112.47l1.05-1.05 1.05 1.05-1.05 1.05zM213.03 133l1.05-1.05 1.05 1.05-1.05 1.05zM212.5 133.85l1.05-1.05 1.05 1.05-1.05 1.05zM215.56 133.71l1.05-1.05 1.05 1.05-1.05 1.05zM212.26 133.56l1.05-1.05 1.05 1.05-1.05 1.05zM211.12 132.54l1.05-1.05 1.05 1.05-1.05 1.05zM211.83 131.33l1.05-1.05 1.05 1.05-1.05 1.05zM210.35 131.49l1.05-1.05 1.05 1.05-1.05 1.05zM215.27 133.01l1.05-1.05 1.05 1.05-1.05 1.05zM212.25 134.63l1.05-1.05 1.05 1.05-1.05 1.05zM213.17 132.72l1.05-1.05 1.05 1.05-1.05 1.05zM212.43 133.37l1.05-1.05 1.05 1.05-1.05 1.05zM211.87 133.03l1.05-1.05 1.05 1.05-1.05 1.05zM211.1 133.73l1.05-1.05 1.05 1.05-1.05 1.05zM215.21 133.47l1.05-1.05 1.05 1.05-1.05 1.05zM212.45 134.02l1.05-1.05 1.05 1.05-1.05 1.05zM214.63 133.93l1.05-1.05 1.05 1.05-1.05 1.05zM210.55 132.12l1.05-1.05 1.05 1.05-1.05 1.05zM211.99 135.36l1.05-1.05 1.05 1.05-1.05 1.05zM212.09 135.2l1.05-1.05 1.05 1.05-1.05 1.05zM216.11 132.67l1.05-1.05 1.05 1.05-1.05 1.05zM212.48 132.42l1.05-1.05 1.05 1.05-1.05 1.05zM214.03 133.07l1.05-1.05 1.05 1.05-1.05 1.05zM213.42 139.13l1.05-1.05 1.05 1.05-1.05 1.05zM213.4 105.8l1.05-1.05 1.05 1.05-1.05 1.05zM213.4 140.3l1.05-1.05 1.05 1.05-1.05 1.05z" fill="#262626" fill-opacity="0.85"/><line x1="214.45" y1="105.2" x2="214.45" y2="140.9" stroke="#3a3a3a" stroke-width="0.85"/><path d="M212.17 105.2h4.55M212.17 140.9h4.55" stroke="#222" stroke-width="0.8" fill="none"/><rect x="210.3" y="124.4" width="8.3" height="6.6" fill="#828282" stroke="#1e1e1e" stroke-width="0.9"/><path d="M215.44 130.12l.9-.9 .9 .9-.9 .9zM211.08 128.85l.9-.9 .9 .9-.9 .9zM213.54 125.39l.9-.9 .9 .9-.9 .9zM213 127.12l.9-.9 .9 .9-.9 .9zM213.23 129.29l.9-.9 .9 .9-.9 .9z" fill="none" stroke="#a9a9a9" stroke-width="0.4"/><line x1="210.3" y1="127.7" x2="218.6" y2="127.7" stroke="#3a3a3a" stroke-width="0.7"/>
<text x="214.5" y="104.95" text-anchor="middle" font-size="11.4" fill="#444">**</text>
<path d="M232.34 87l1-1 1 1-1 1zM231.34 86.21l1-1 1 1-1 1zM232.47 86.58l1-1 1 1-1 1zM231.55 84.5l1-1 1 1-1 1zM231.92 87.9l1-1 1 1-1 1zM233.1 87.63l1-1 1 1-1 1zM232.74 87.18l1-1 1 1-1 1zM231.44 81.01l1-1 1 1-1 1zM229.98 88.04l1-1 1 1-1 1zM232.42 84.52l1-1 1 1-1 1zM232.49 118.36l1-1 1 1-1 1zM231.98 117.69l1-1 1 1-1 1zM231.12 102.18l1-1 1 1-1 1zM232.7 112.49l1-1 1 1-1 1zM230.96 117.94l1-1 1 1-1 1zM231.84 110.64l1-1 1 1-1 1zM231.64 131.69l1-1 1 1-1 1zM232.01 108.06l1-1 1 1-1 1zM231.72 112.24l1-1 1 1-1 1zM231.09 106.84l1-1 1 1-1 1zM231.66 127.35l1-1 1 1-1 1zM232.42 112.07l1-1 1 1-1 1zM231.59 129.3l1-1 1 1-1 1zM231.08 109.75l1-1 1 1-1 1zM231.09 117.3l1-1 1 1-1 1zM231.25 109.65l1-1 1 1-1 1zM231.01 121.42l1-1 1 1-1 1zM232.41 110.19l1-1 1 1-1 1zM230.9 101.78l1-1 1 1-1 1zM231.91 119.85l1-1 1 1-1 1zM231.64 102.22l1-1 1 1-1 1zM232.04 109.83l1-1 1 1-1 1zM231.65 81.3l1-1 1 1-1 1zM231.65 132.2l1-1 1 1-1 1z" fill="none" stroke="#707070" stroke-width="0.5"/><line x1="232.65" y1="80.7" x2="232.65" y2="132.8" stroke="#5a5a5a" stroke-width="0.8"/><path d="M230.38 80.7h4.55M230.38 132.8h4.55" stroke="#333" stroke-width="0.8" fill="none"/><rect x="228.5" y="88.3" width="8.3" height="13.2" fill="#fff" stroke="#3a3a3a" stroke-width="0.9"/><path d="M229.24 98.52l.9-.9 .9 .9-.9 .9zM229.14 99.6l.9-.9 .9 .9-.9 .9zM232.5 94.45l.9-.9 .9 .9-.9 .9zM228.51 89.86l.9-.9 .9 .9-.9 .9zM229.55 89.68l.9-.9 .9 .9-.9 .9zM234.43 91.75l.9-.9 .9 .9-.9 .9zM228.79 91.83l.9-.9 .9 .9-.9 .9z" fill="none" stroke="#c4c4c4" stroke-width="0.4"/><line x1="228.5" y1="91.6" x2="236.8" y2="91.6" stroke="#777" stroke-width="0.7"/>
<path d="M242.53 85.68l1.05-1.05 1.05 1.05-1.05 1.05zM242.33 94.82l1.05-1.05 1.05 1.05-1.05 1.05zM242.21 84.94l1.05-1.05 1.05 1.05-1.05 1.05zM243.82 93.15l1.05-1.05 1.05 1.05-1.05 1.05zM241.96 90.81l1.05-1.05 1.05 1.05-1.05 1.05zM242.76 87.28l1.05-1.05 1.05 1.05-1.05 1.05zM240.37 90.09l1.05-1.05 1.05 1.05-1.05 1.05zM243.24 91.16l1.05-1.05 1.05 1.05-1.05 1.05zM239.11 95.38l1.05-1.05 1.05 1.05-1.05 1.05zM239.77 92.69l1.05-1.05 1.05 1.05-1.05 1.05zM241.78 91.05l1.05-1.05 1.05 1.05-1.05 1.05zM241.04 91.43l1.05-1.05 1.05 1.05-1.05 1.05zM238.75 95.33l1.05-1.05 1.05 1.05-1.05 1.05zM240.48 89.94l1.05-1.05 1.05 1.05-1.05 1.05zM238.01 95.61l1.05-1.05 1.05 1.05-1.05 1.05zM240.62 92.69l1.05-1.05 1.05 1.05-1.05 1.05zM239.74 95.78l1.05-1.05 1.05 1.05-1.05 1.05zM241.14 94.05l1.05-1.05 1.05 1.05-1.05 1.05zM241.07 81.59l1.05-1.05 1.05 1.05-1.05 1.05zM242.95 94.22l1.05-1.05 1.05 1.05-1.05 1.05zM244.08 93l1.05-1.05 1.05 1.05-1.05 1.05zM239.48 95.49l1.05-1.05 1.05 1.05-1.05 1.05zM240.42 90.91l1.05-1.05 1.05 1.05-1.05 1.05zM241.21 85.59l1.05-1.05 1.05 1.05-1.05 1.05zM241.96 90.49l1.05-1.05 1.05 1.05-1.05 1.05zM241.59 94.57l1.05-1.05 1.05 1.05-1.05 1.05zM239.96 94.5l1.05-1.05 1.05 1.05-1.05 1.05zM242.08 89.32l1.05-1.05 1.05 1.05-1.05 1.05zM238.73 94.49l1.05-1.05 1.05 1.05-1.05 1.05zM243.22 91.65l1.05-1.05 1.05 1.05-1.05 1.05zM241.94 95.11l1.05-1.05 1.05 1.05-1.05 1.05zM241.5 94.29l1.05-1.05 1.05 1.05-1.05 1.05zM240.05 92.33l1.05-1.05 1.05 1.05-1.05 1.05zM242.97 94.61l1.05-1.05 1.05 1.05-1.05 1.05zM242.26 87.14l1.05-1.05 1.05 1.05-1.05 1.05zM241.08 80.55l1.05-1.05 1.05 1.05-1.05 1.05zM239.62 89.97l1.05-1.05 1.05 1.05-1.05 1.05zM240.95 93.92l1.05-1.05 1.05 1.05-1.05 1.05zM242.55 92.29l1.05-1.05 1.05 1.05-1.05 1.05zM242.29 93.66l1.05-1.05 1.05 1.05-1.05 1.05zM239.43 92.46l1.05-1.05 1.05 1.05-1.05 1.05zM241.82 82.89l1.05-1.05 1.05 1.05-1.05 1.05zM239.69 93.43l1.05-1.05 1.05 1.05-1.05 1.05zM240.6 95.64l1.05-1.05 1.05 1.05-1.05 1.05zM239.53 120.5l1.05-1.05 1.05 1.05-1.05 1.05zM242 129.8l1.05-1.05 1.05 1.05-1.05 1.05zM241.25 125.39l1.05-1.05 1.05 1.05-1.05 1.05zM244.17 117.36l1.05-1.05 1.05 1.05-1.05 1.05zM239.39 123.53l1.05-1.05 1.05 1.05-1.05 1.05zM240.55 130.62l1.05-1.05 1.05 1.05-1.05 1.05zM238.41 117.42l1.05-1.05 1.05 1.05-1.05 1.05zM243.75 121.84l1.05-1.05 1.05 1.05-1.05 1.05zM241.09 125.37l1.05-1.05 1.05 1.05-1.05 1.05zM243.24 122.11l1.05-1.05 1.05 1.05-1.05 1.05zM241.33 129.84l1.05-1.05 1.05 1.05-1.05 1.05zM241.9 132.48l1.05-1.05 1.05 1.05-1.05 1.05zM241.41 131.08l1.05-1.05 1.05 1.05-1.05 1.05zM242.27 125.21l1.05-1.05 1.05 1.05-1.05 1.05zM240.79 131.36l1.05-1.05 1.05 1.05-1.05 1.05zM243.02 118.17l1.05-1.05 1.05 1.05-1.05 1.05zM241.73 122.97l1.05-1.05 1.05 1.05-1.05 1.05zM241.58 131.29l1.05-1.05 1.05 1.05-1.05 1.05zM238.23 118.26l1.05-1.05 1.05 1.05-1.05 1.05zM240.36 120.73l1.05-1.05 1.05 1.05-1.05 1.05zM242.9 119.39l1.05-1.05 1.05 1.05-1.05 1.05zM241.62 117.55l1.05-1.05 1.05 1.05-1.05 1.05zM243.88 121.79l1.05-1.05 1.05 1.05-1.05 1.05zM239.42 121.13l1.05-1.05 1.05 1.05-1.05 1.05zM241.1 129.45l1.05-1.05 1.05 1.05-1.05 1.05zM242.14 129.32l1.05-1.05 1.05 1.05-1.05 1.05zM241.28 121.39l1.05-1.05 1.05 1.05-1.05 1.05zM241.04 135.57l1.05-1.05 1.05 1.05-1.05 1.05zM240.91 124.44l1.05-1.05 1.05 1.05-1.05 1.05zM239.86 121.87l1.05-1.05 1.05 1.05-1.05 1.05zM241.14 119.06l1.05-1.05 1.05 1.05-1.05 1.05zM240.65 120.34l1.05-1.05 1.05 1.05-1.05 1.05zM239.5 123.41l1.05-1.05 1.05 1.05-1.05 1.05zM240.24 127.5l1.05-1.05 1.05 1.05-1.05 1.05zM245.23 117.71l1.05-1.05 1.05 1.05-1.05 1.05zM241.17 122.76l1.05-1.05 1.05 1.05-1.05 1.05zM241.74 121.73l1.05-1.05 1.05 1.05-1.05 1.05zM242.01 124.99l1.05-1.05 1.05 1.05-1.05 1.05zM241.04 131.62l1.05-1.05 1.05 1.05-1.05 1.05zM239.48 121.51l1.05-1.05 1.05 1.05-1.05 1.05zM240.08 119.01l1.05-1.05 1.05 1.05-1.05 1.05zM241.86 128.9l1.05-1.05 1.05 1.05-1.05 1.05zM241.16 137.68l1.05-1.05 1.05 1.05-1.05 1.05zM241.79 135.55l1.05-1.05 1.05 1.05-1.05 1.05zM240.52 121.82l1.05-1.05 1.05 1.05-1.05 1.05zM241.65 127.8l1.05-1.05 1.05 1.05-1.05 1.05zM238.41 119.44l1.05-1.05 1.05 1.05-1.05 1.05zM242.24 121.19l1.05-1.05 1.05 1.05-1.05 1.05zM242.15 132.79l1.05-1.05 1.05 1.05-1.05 1.05zM241.5 128.13l1.05-1.05 1.05 1.05-1.05 1.05zM238.74 119.7l1.05-1.05 1.05 1.05-1.05 1.05zM240.16 124.97l1.05-1.05 1.05 1.05-1.05 1.05zM238.51 119.83l1.05-1.05 1.05 1.05-1.05 1.05zM241.5 78.6l1.05-1.05 1.05 1.05-1.05 1.05zM241.5 138.7l1.05-1.05 1.05 1.05-1.05 1.05z" fill="#262626" fill-opacity="0.85"/><line x1="242.55" y1="78" x2="242.55" y2="139.3" stroke="#3a3a3a" stroke-width="0.85"/><path d="M240.28 78h4.55M240.28 139.3h4.55" stroke="#222" stroke-width="0.8" fill="none"/><rect x="238.4" y="96.4" width="8.3" height="20.8" fill="#828282" stroke="#1e1e1e" stroke-width="0.9"/><path d="M243.13 97.57l.9-.9 .9 .9-.9 .9zM241.15 112.35l.9-.9 .9 .9-.9 .9zM241.75 111.21l.9-.9 .9 .9-.9 .9zM243.82 103.48l.9-.9 .9 .9-.9 .9zM240.29 99.75l.9-.9 .9 .9-.9 .9zM238.89 98.94l.9-.9 .9 .9-.9 .9zM244.78 99.66l.9-.9 .9 .9-.9 .9zM242.45 106.96l.9-.9 .9 .9-.9 .9zM242.82 99.08l.9-.9 .9 .9-.9 .9z" fill="none" stroke="#a9a9a9" stroke-width="0.4"/><line x1="238.4" y1="111.3" x2="246.7" y2="111.3" stroke="#3a3a3a" stroke-width="0.7"/>
<text x="242.4" y="77.95" text-anchor="middle" font-size="11.4" fill="#444">**</text>
<path d="M259.73 74.13l1-1 1 1-1 1zM259.82 72.79l1-1 1 1-1 1zM258.41 73.95l1-1 1 1-1 1zM259.88 72.76l1-1 1 1-1 1zM259.26 73.72l1-1 1 1-1 1zM259.61 73.26l1-1 1 1-1 1zM258.72 73.41l1-1 1 1-1 1zM260.67 74.77l1-1 1 1-1 1zM260.74 75.48l1-1 1 1-1 1zM258.91 74.22l1-1 1 1-1 1zM259.71 96.58l1-1 1 1-1 1zM259.59 94.15l1-1 1 1-1 1zM259.24 92.67l1-1 1 1-1 1zM259.34 91.99l1-1 1 1-1 1zM259.9 108.89l1-1 1 1-1 1zM261.15 93.85l1-1 1 1-1 1zM260.65 93.42l1-1 1 1-1 1zM259.7 101.54l1-1 1 1-1 1zM260.43 94.62l1-1 1 1-1 1zM259.18 111.47l1-1 1 1-1 1zM258.91 102.82l1-1 1 1-1 1zM260.3 91.14l1-1 1 1-1 1zM260.48 100.2l1-1 1 1-1 1zM259.84 121.55l1-1 1 1-1 1zM260.21 98.57l1-1 1 1-1 1zM260.73 91.15l1-1 1 1-1 1zM259.29 104.44l1-1 1 1-1 1zM259.71 122.61l1-1 1 1-1 1zM259.71 93.42l1-1 1 1-1 1zM260.94 93.8l1-1 1 1-1 1zM258.73 98.68l1-1 1 1-1 1zM260.71 92.59l1-1 1 1-1 1zM257.98 93.82l1-1 1 1-1 1zM259.55 69.6l1-1 1 1-1 1zM259.55 123.8l1-1 1 1-1 1z" fill="none" stroke="#707070" stroke-width="0.5"/><line x1="260.55" y1="69" x2="260.55" y2="124.4" stroke="#5a5a5a" stroke-width="0.8"/><path d="M258.32 69h4.45M258.32 124.4h4.45" stroke="#333" stroke-width="0.8" fill="none"/><rect x="256.5" y="76.3" width="8.1" height="13.6" fill="#fff" stroke="#3a3a3a" stroke-width="0.9"/><path d="M258.29 87.87l.9-.9 .9 .9-.9 .9zM257.34 80.59l.9-.9 .9 .9-.9 .9zM262.56 79.12l.9-.9 .9 .9-.9 .9zM257.39 82.15l.9-.9 .9 .9-.9 .9zM257.59 88.89l.9-.9 .9 .9-.9 .9zM258.95 88.47l.9-.9 .9 .9-.9 .9zM262.07 78.78l.9-.9 .9 .9-.9 .9z" fill="none" stroke="#c4c4c4" stroke-width="0.4"/><line x1="256.5" y1="77.8" x2="264.6" y2="77.8" stroke="#777" stroke-width="0.7"/>
<path d="M267.24 80.4l1.05-1.05 1.05 1.05-1.05 1.05zM269.96 82.24l1.05-1.05 1.05 1.05-1.05 1.05zM268.67 74.37l1.05-1.05 1.05 1.05-1.05 1.05zM268.97 78.18l1.05-1.05 1.05 1.05-1.05 1.05zM265.97 83.12l1.05-1.05 1.05 1.05-1.05 1.05zM269.09 83.9l1.05-1.05 1.05 1.05-1.05 1.05zM266.81 83.61l1.05-1.05 1.05 1.05-1.05 1.05zM267.75 83.55l1.05-1.05 1.05 1.05-1.05 1.05zM269.76 80.62l1.05-1.05 1.05 1.05-1.05 1.05zM273.02 84.4l1.05-1.05 1.05 1.05-1.05 1.05zM269.85 83.81l1.05-1.05 1.05 1.05-1.05 1.05zM269.71 69.31l1.05-1.05 1.05 1.05-1.05 1.05zM268.16 81.35l1.05-1.05 1.05 1.05-1.05 1.05zM269.89 69.3l1.05-1.05 1.05 1.05-1.05 1.05zM268.33 80.96l1.05-1.05 1.05 1.05-1.05 1.05zM269.41 71.61l1.05-1.05 1.05 1.05-1.05 1.05zM268.9 80.78l1.05-1.05 1.05 1.05-1.05 1.05zM268.66 79.45l1.05-1.05 1.05 1.05-1.05 1.05zM268.84 78.86l1.05-1.05 1.05 1.05-1.05 1.05zM267.38 84l1.05-1.05 1.05 1.05-1.05 1.05zM272.23 84.02l1.05-1.05 1.05 1.05-1.05 1.05zM268.99 83.96l1.05-1.05 1.05 1.05-1.05 1.05zM266.28 83.45l1.05-1.05 1.05 1.05-1.05 1.05zM268.28 81.61l1.05-1.05 1.05 1.05-1.05 1.05zM269.09 73.58l1.05-1.05 1.05 1.05-1.05 1.05zM268.48 74.31l1.05-1.05 1.05 1.05-1.05 1.05zM269.83 80.79l1.05-1.05 1.05 1.05-1.05 1.05zM270.46 78.22l1.05-1.05 1.05 1.05-1.05 1.05zM269.29 83.17l1.05-1.05 1.05 1.05-1.05 1.05zM268.28 79.63l1.05-1.05 1.05 1.05-1.05 1.05zM267.09 83.06l1.05-1.05 1.05 1.05-1.05 1.05zM268.68 83.44l1.05-1.05 1.05 1.05-1.05 1.05zM269.97 81.14l1.05-1.05 1.05 1.05-1.05 1.05zM268.84 73.19l1.05-1.05 1.05 1.05-1.05 1.05zM267.82 78.01l1.05-1.05 1.05 1.05-1.05 1.05zM269.22 69.25l1.05-1.05 1.05 1.05-1.05 1.05zM267.29 82.89l1.05-1.05 1.05 1.05-1.05 1.05zM271.33 79.49l1.05-1.05 1.05 1.05-1.05 1.05zM268.61 79.52l1.05-1.05 1.05 1.05-1.05 1.05zM270.43 81.47l1.05-1.05 1.05 1.05-1.05 1.05zM267.14 80.42l1.05-1.05 1.05 1.05-1.05 1.05zM268.79 119.57l1.05-1.05 1.05 1.05-1.05 1.05zM270.03 113.45l1.05-1.05 1.05 1.05-1.05 1.05zM272.51 111.94l1.05-1.05 1.05 1.05-1.05 1.05zM273.19 111.14l1.05-1.05 1.05 1.05-1.05 1.05zM268.71 118.7l1.05-1.05 1.05 1.05-1.05 1.05zM267.87 117.68l1.05-1.05 1.05 1.05-1.05 1.05zM271.83 111.2l1.05-1.05 1.05 1.05-1.05 1.05zM269.65 113.68l1.05-1.05 1.05 1.05-1.05 1.05zM269.77 119.77l1.05-1.05 1.05 1.05-1.05 1.05zM270.88 114.09l1.05-1.05 1.05 1.05-1.05 1.05zM271.18 113.52l1.05-1.05 1.05 1.05-1.05 1.05zM270.22 121.51l1.05-1.05 1.05 1.05-1.05 1.05zM268.72 121.32l1.05-1.05 1.05 1.05-1.05 1.05zM266.39 114.09l1.05-1.05 1.05 1.05-1.05 1.05zM270.52 112.14l1.05-1.05 1.05 1.05-1.05 1.05zM271.27 119.24l1.05-1.05 1.05 1.05-1.05 1.05zM265.69 111.02l1.05-1.05 1.05 1.05-1.05 1.05zM266.61 113.69l1.05-1.05 1.05 1.05-1.05 1.05zM271.95 114.74l1.05-1.05 1.05 1.05-1.05 1.05zM266.9 112.29l1.05-1.05 1.05 1.05-1.05 1.05zM266.94 112.02l1.05-1.05 1.05 1.05-1.05 1.05zM269.94 125.38l1.05-1.05 1.05 1.05-1.05 1.05zM269.96 118.42l1.05-1.05 1.05 1.05-1.05 1.05zM271.63 111.74l1.05-1.05 1.05 1.05-1.05 1.05zM267.56 117.13l1.05-1.05 1.05 1.05-1.05 1.05zM268.33 123.35l1.05-1.05 1.05 1.05-1.05 1.05zM268.06 121.4l1.05-1.05 1.05 1.05-1.05 1.05zM269.02 118.34l1.05-1.05 1.05 1.05-1.05 1.05zM269.53 132.63l1.05-1.05 1.05 1.05-1.05 1.05zM268.88 110.96l1.05-1.05 1.05 1.05-1.05 1.05zM267.85 115.92l1.05-1.05 1.05 1.05-1.05 1.05zM269.02 125.68l1.05-1.05 1.05 1.05-1.05 1.05zM269.77 115.88l1.05-1.05 1.05 1.05-1.05 1.05zM268.52 119.37l1.05-1.05 1.05 1.05-1.05 1.05zM269.14 129.83l1.05-1.05 1.05 1.05-1.05 1.05zM269.35 120.75l1.05-1.05 1.05 1.05-1.05 1.05zM270.47 114.62l1.05-1.05 1.05 1.05-1.05 1.05zM270.89 119.01l1.05-1.05 1.05 1.05-1.05 1.05zM271.9 113.36l1.05-1.05 1.05 1.05-1.05 1.05zM267.32 113.29l1.05-1.05 1.05 1.05-1.05 1.05zM269.2 133.6l1.05-1.05 1.05 1.05-1.05 1.05zM268.46 123.52l1.05-1.05 1.05 1.05-1.05 1.05zM272.61 111.12l1.05-1.05 1.05 1.05-1.05 1.05zM266.83 111.16l1.05-1.05 1.05 1.05-1.05 1.05zM266.82 113.81l1.05-1.05 1.05 1.05-1.05 1.05zM270.77 119.81l1.05-1.05 1.05 1.05-1.05 1.05zM267.42 111.66l1.05-1.05 1.05 1.05-1.05 1.05zM268.63 126.76l1.05-1.05 1.05 1.05-1.05 1.05zM267.99 115.91l1.05-1.05 1.05 1.05-1.05 1.05zM272.99 111.92l1.05-1.05 1.05 1.05-1.05 1.05zM272.22 111.69l1.05-1.05 1.05 1.05-1.05 1.05zM268.97 114.37l1.05-1.05 1.05 1.05-1.05 1.05zM270.84 111.18l1.05-1.05 1.05 1.05-1.05 1.05zM266.46 111.46l1.05-1.05 1.05 1.05-1.05 1.05zM269.4 67.7l1.05-1.05 1.05 1.05-1.05 1.05zM269.4 133.3l1.05-1.05 1.05 1.05-1.05 1.05z" fill="#262626" fill-opacity="0.85"/><line x1="270.45" y1="67.1" x2="270.45" y2="133.9" stroke="#3a3a3a" stroke-width="0.85"/><path d="M268.22 67.1h4.45M268.22 133.9h4.45" stroke="#222" stroke-width="0.8" fill="none"/><rect x="266.4" y="84.4" width="8.1" height="26.5" fill="#828282" stroke="#1e1e1e" stroke-width="0.9"/><path d="M272.26 92.05l.9-.9 .9 .9-.9 .9zM271.05 97.03l.9-.9 .9 .9-.9 .9zM268.02 87.65l.9-.9 .9 .9-.9 .9zM269.92 91.16l.9-.9 .9 .9-.9 .9zM270.77 85.53l.9-.9 .9 .9-.9 .9zM272.68 93.71l.9-.9 .9 .9-.9 .9zM268.9 107.9l.9-.9 .9 .9-.9 .9zM268.81 90.89l.9-.9 .9 .9-.9 .9zM272.78 86.18l.9-.9 .9 .9-.9 .9zM270.27 106.83l.9-.9 .9 .9-.9 .9z" fill="none" stroke="#a9a9a9" stroke-width="0.4"/><line x1="266.4" y1="102.6" x2="274.5" y2="102.6" stroke="#3a3a3a" stroke-width="0.7"/>
<text x="270.5" y="66.35" text-anchor="middle" font-size="11.4" fill="#444">**</text>
<path d="M286.61 100.72l1-1 1 1-1 1zM288.12 96.32l1-1 1 1-1 1zM288.21 101.39l1-1 1 1-1 1zM287.84 96.93l1-1 1 1-1 1zM288.68 97.56l1-1 1 1-1 1zM287.54 101.91l1-1 1 1-1 1zM287.31 88l1-1 1 1-1 1zM287.36 91.4l1-1 1 1-1 1zM287.56 96.43l1-1 1 1-1 1zM287.27 92.35l1-1 1 1-1 1zM287.03 137.49l1-1 1 1-1 1zM288.61 130.78l1-1 1 1-1 1zM287.87 137.62l1-1 1 1-1 1zM286.97 135.89l1-1 1 1-1 1zM287.56 131.83l1-1 1 1-1 1zM287.25 144l1-1 1 1-1 1zM288.53 128.05l1-1 1 1-1 1zM288.46 132.43l1-1 1 1-1 1zM287.06 125.44l1-1 1 1-1 1zM287.14 144.11l1-1 1 1-1 1zM286.96 134.17l1-1 1 1-1 1zM287.55 131.96l1-1 1 1-1 1zM286.59 133.94l1-1 1 1-1 1zM287.4 134.8l1-1 1 1-1 1zM288.65 124.6l1-1 1 1-1 1zM288.08 128.01l1-1 1 1-1 1zM287.12 129.33l1-1 1 1-1 1zM287.5 88.3l1-1 1 1-1 1zM287.5 147.9l1-1 1 1-1 1z" fill="none" stroke="#707070" stroke-width="0.5"/><line x1="288.5" y1="87.7" x2="288.5" y2="148.5" stroke="#5a5a5a" stroke-width="0.8"/><path d="M286.2 87.7h4.6M286.2 148.5h4.6" stroke="#333" stroke-width="0.8" fill="none"/><rect x="284.3" y="102.1" width="8.4" height="22.3" fill="#fff" stroke="#3a3a3a" stroke-width="0.9"/><path d="M284.36 103.37l.9-.9 .9 .9-.9 .9zM289.07 105.78l.9-.9 .9 .9-.9 .9zM285.87 103.99l.9-.9 .9 .9-.9 .9zM285.6 109.27l.9-.9 .9 .9-.9 .9zM288.39 117.6l.9-.9 .9 .9-.9 .9zM289.03 107.29l.9-.9 .9 .9-.9 .9zM288.6 104.56l.9-.9 .9 .9-.9 .9zM290.45 107.75l.9-.9 .9 .9-.9 .9zM289.02 120.12l.9-.9 .9 .9-.9 .9zM289.32 122.86l.9-.9 .9 .9-.9 .9z" fill="none" stroke="#c4c4c4" stroke-width="0.4"/><line x1="284.3" y1="111.3" x2="292.7" y2="111.3" stroke="#777" stroke-width="0.7"/>
<path d="M297.57 110.13l1.05-1.05 1.05 1.05-1.05 1.05zM295.68 103.16l1.05-1.05 1.05 1.05-1.05 1.05zM297.23 105.8l1.05-1.05 1.05 1.05-1.05 1.05zM297.24 108.67l1.05-1.05 1.05 1.05-1.05 1.05zM297.37 101.8l1.05-1.05 1.05 1.05-1.05 1.05zM299.01 106.49l1.05-1.05 1.05 1.05-1.05 1.05zM293.87 111.99l1.05-1.05 1.05 1.05-1.05 1.05zM297.65 105.57l1.05-1.05 1.05 1.05-1.05 1.05zM296.88 93.85l1.05-1.05 1.05 1.05-1.05 1.05zM296.19 101.39l1.05-1.05 1.05 1.05-1.05 1.05zM298.66 106.6l1.05-1.05 1.05 1.05-1.05 1.05zM298.14 102.8l1.05-1.05 1.05 1.05-1.05 1.05zM294.69 108.94l1.05-1.05 1.05 1.05-1.05 1.05zM299.48 104.63l1.05-1.05 1.05 1.05-1.05 1.05zM297.01 91.39l1.05-1.05 1.05 1.05-1.05 1.05zM297.5 107.99l1.05-1.05 1.05 1.05-1.05 1.05zM296.17 107.01l1.05-1.05 1.05 1.05-1.05 1.05zM295.51 112.02l1.05-1.05 1.05 1.05-1.05 1.05zM297.43 99.01l1.05-1.05 1.05 1.05-1.05 1.05zM299.29 106.94l1.05-1.05 1.05 1.05-1.05 1.05zM297.12 91.75l1.05-1.05 1.05 1.05-1.05 1.05zM294.3 110.58l1.05-1.05 1.05 1.05-1.05 1.05zM297.34 107.11l1.05-1.05 1.05 1.05-1.05 1.05zM296.7 107.03l1.05-1.05 1.05 1.05-1.05 1.05zM299.68 107.57l1.05-1.05 1.05 1.05-1.05 1.05zM297.57 106.84l1.05-1.05 1.05 1.05-1.05 1.05zM297.85 110.55l1.05-1.05 1.05 1.05-1.05 1.05zM295.95 110.63l1.05-1.05 1.05 1.05-1.05 1.05zM298.24 100.5l1.05-1.05 1.05 1.05-1.05 1.05zM297.29 97.27l1.05-1.05 1.05 1.05-1.05 1.05zM296.93 111.01l1.05-1.05 1.05 1.05-1.05 1.05zM294.87 107.96l1.05-1.05 1.05 1.05-1.05 1.05zM298.07 110.67l1.05-1.05 1.05 1.05-1.05 1.05zM298.67 104.75l1.05-1.05 1.05 1.05-1.05 1.05zM298.41 108.34l1.05-1.05 1.05 1.05-1.05 1.05zM299.84 111.11l1.05-1.05 1.05 1.05-1.05 1.05zM299.74 107.94l1.05-1.05 1.05 1.05-1.05 1.05zM299.28 109.97l1.05-1.05 1.05 1.05-1.05 1.05zM297.94 102.41l1.05-1.05 1.05 1.05-1.05 1.05zM300.22 110.61l1.05-1.05 1.05 1.05-1.05 1.05zM298.81 111.1l1.05-1.05 1.05 1.05-1.05 1.05zM299.71 110.5l1.05-1.05 1.05 1.05-1.05 1.05zM296.06 111.43l1.05-1.05 1.05 1.05-1.05 1.05zM296.1 103.54l1.05-1.05 1.05 1.05-1.05 1.05zM298.82 104.58l1.05-1.05 1.05 1.05-1.05 1.05zM296.86 106.63l1.05-1.05 1.05 1.05-1.05 1.05zM297.23 94.41l1.05-1.05 1.05 1.05-1.05 1.05zM294.5 110.99l1.05-1.05 1.05 1.05-1.05 1.05zM298.3 104.04l1.05-1.05 1.05 1.05-1.05 1.05zM299.74 110.96l1.05-1.05 1.05 1.05-1.05 1.05zM300.07 109.4l1.05-1.05 1.05 1.05-1.05 1.05zM297.43 89.76l1.05-1.05 1.05 1.05-1.05 1.05zM297.38 105.91l1.05-1.05 1.05 1.05-1.05 1.05zM297.3 110.16l1.05-1.05 1.05 1.05-1.05 1.05zM297.49 97.99l1.05-1.05 1.05 1.05-1.05 1.05zM296.08 103.22l1.05-1.05 1.05 1.05-1.05 1.05zM296.5 143.03l1.05-1.05 1.05 1.05-1.05 1.05zM298.14 138.57l1.05-1.05 1.05 1.05-1.05 1.05zM299.17 142.13l1.05-1.05 1.05 1.05-1.05 1.05zM295.58 142.04l1.05-1.05 1.05 1.05-1.05 1.05zM298.71 140.49l1.05-1.05 1.05 1.05-1.05 1.05zM299.43 138.95l1.05-1.05 1.05 1.05-1.05 1.05zM295.72 141.9l1.05-1.05 1.05 1.05-1.05 1.05zM299.12 139.93l1.05-1.05 1.05 1.05-1.05 1.05zM297.49 139.01l1.05-1.05 1.05 1.05-1.05 1.05zM298.53 138.4l1.05-1.05 1.05 1.05-1.05 1.05zM296.76 140.83l1.05-1.05 1.05 1.05-1.05 1.05zM295.27 139.6l1.05-1.05 1.05 1.05-1.05 1.05zM299.13 140.87l1.05-1.05 1.05 1.05-1.05 1.05zM296.39 143.67l1.05-1.05 1.05 1.05-1.05 1.05zM299.95 139.23l1.05-1.05 1.05 1.05-1.05 1.05zM295.89 142.15l1.05-1.05 1.05 1.05-1.05 1.05zM294.78 138.3l1.05-1.05 1.05 1.05-1.05 1.05zM295.97 141.25l1.05-1.05 1.05 1.05-1.05 1.05zM295.1 138.33l1.05-1.05 1.05 1.05-1.05 1.05zM297.41 138.61l1.05-1.05 1.05 1.05-1.05 1.05zM300.82 138.37l1.05-1.05 1.05 1.05-1.05 1.05zM298.07 144.65l1.05-1.05 1.05 1.05-1.05 1.05zM299.13 139.06l1.05-1.05 1.05 1.05-1.05 1.05zM296.09 140.34l1.05-1.05 1.05 1.05-1.05 1.05zM296.41 141.22l1.05-1.05 1.05 1.05-1.05 1.05zM297.93 139.16l1.05-1.05 1.05 1.05-1.05 1.05zM297.91 140.6l1.05-1.05 1.05 1.05-1.05 1.05zM297.4 88.9l1.05-1.05 1.05 1.05-1.05 1.05zM297.4 149l1.05-1.05 1.05 1.05-1.05 1.05z" fill="#262626" fill-opacity="0.85"/><line x1="298.45" y1="88.3" x2="298.45" y2="149.6" stroke="#3a3a3a" stroke-width="0.85"/><path d="M296.22 88.3h4.45M296.22 149.6h4.45" stroke="#222" stroke-width="0.8" fill="none"/><rect x="294.4" y="112.4" width="8.1" height="25.8" fill="#828282" stroke="#1e1e1e" stroke-width="0.9"/><path d="M298.19 134.17l.9-.9 .9 .9-.9 .9zM298.32 114.82l.9-.9 .9 .9-.9 .9zM297.3 132.77l.9-.9 .9 .9-.9 .9zM300.4 121.87l.9-.9 .9 .9-.9 .9zM299.06 116.82l.9-.9 .9 .9-.9 .9zM296.54 115.44l.9-.9 .9 .9-.9 .9zM300.63 114.16l.9-.9 .9 .9-.9 .9zM297.42 133.31l.9-.9 .9 .9-.9 .9zM298.43 130.91l.9-.9 .9 .9-.9 .9zM299.79 133.17l.9-.9 .9 .9-.9 .9z" fill="none" stroke="#a9a9a9" stroke-width="0.4"/><line x1="294.4" y1="129.3" x2="302.5" y2="129.3" stroke="#3a3a3a" stroke-width="0.7"/>
<text x="297.9" y="88.25" text-anchor="middle" font-size="11.4" fill="#444">**</text>
<path d="M316.28 91.57l1-1 1 1-1 1zM315.93 89.29l1-1 1 1-1 1zM316.59 91.23l1-1 1 1-1 1zM315.74 85.15l1-1 1 1-1 1zM315.64 85.96l1-1 1 1-1 1zM316.01 87.41l1-1 1 1-1 1zM315.38 85.42l1-1 1 1-1 1zM316.3 88.1l1-1 1 1-1 1zM315.09 88.48l1-1 1 1-1 1zM314.71 90.47l1-1 1 1-1 1zM314.67 99.77l1-1 1 1-1 1zM316.03 102.92l1-1 1 1-1 1zM316.34 101.41l1-1 1 1-1 1zM316.1 106.86l1-1 1 1-1 1zM314.68 103.52l1-1 1 1-1 1zM315.4 108.72l1-1 1 1-1 1zM315.81 108.72l1-1 1 1-1 1zM314.17 99.21l1-1 1 1-1 1zM315.77 103.67l1-1 1 1-1 1zM314.93 98.64l1-1 1 1-1 1zM315.55 85l1-1 1 1-1 1zM315.55 110.1l1-1 1 1-1 1z" fill="none" stroke="#707070" stroke-width="0.5"/><line x1="316.55" y1="84.4" x2="316.55" y2="110.7" stroke="#5a5a5a" stroke-width="0.8"/><path d="M314.32 84.4h4.45M314.32 110.7h4.45" stroke="#333" stroke-width="0.8" fill="none"/><rect x="312.5" y="92.3" width="8.1" height="6.3" fill="#fff" stroke="#3a3a3a" stroke-width="0.9"/><path d="M314.3 94.18l.9-.9 .9 .9-.9 .9zM316.95 94.7l.9-.9 .9 .9-.9 .9zM316.84 97.6l.9-.9 .9 .9-.9 .9zM313.6 97.26l.9-.9 .9 .9-.9 .9zM318.18 97.28l.9-.9 .9 .9-.9 .9z" fill="none" stroke="#c4c4c4" stroke-width="0.4"/><line x1="312.5" y1="95.3" x2="320.6" y2="95.3" stroke="#777" stroke-width="0.7"/>
<path d="M327.66 94.41l1.05-1.05 1.05 1.05-1.05 1.05zM325.31 87.95l1.05-1.05 1.05 1.05-1.05 1.05zM327.13 93.96l1.05-1.05 1.05 1.05-1.05 1.05zM325.51 96.18l1.05-1.05 1.05 1.05-1.05 1.05zM325.1 92.6l1.05-1.05 1.05 1.05-1.05 1.05zM324.58 93.24l1.05-1.05 1.05 1.05-1.05 1.05zM325.41 89.1l1.05-1.05 1.05 1.05-1.05 1.05zM324.97 90.14l1.05-1.05 1.05 1.05-1.05 1.05zM325.48 85.65l1.05-1.05 1.05 1.05-1.05 1.05zM327.71 93.65l1.05-1.05 1.05 1.05-1.05 1.05zM326.15 93.68l1.05-1.05 1.05 1.05-1.05 1.05zM326.18 93.35l1.05-1.05 1.05 1.05-1.05 1.05zM324.93 90.32l1.05-1.05 1.05 1.05-1.05 1.05zM327.7 95.53l1.05-1.05 1.05 1.05-1.05 1.05zM325.59 93.38l1.05-1.05 1.05 1.05-1.05 1.05zM327.1 96.15l1.05-1.05 1.05 1.05-1.05 1.05zM324.29 89.24l1.05-1.05 1.05 1.05-1.05 1.05zM326.51 90.87l1.05-1.05 1.05 1.05-1.05 1.05zM325.52 90l1.05-1.05 1.05 1.05-1.05 1.05zM326.47 93.04l1.05-1.05 1.05 1.05-1.05 1.05zM323.8 95.25l1.05-1.05 1.05 1.05-1.05 1.05zM325.5 92.76l1.05-1.05 1.05 1.05-1.05 1.05zM326.36 91.47l1.05-1.05 1.05 1.05-1.05 1.05zM324.44 95.55l1.05-1.05 1.05 1.05-1.05 1.05zM325.6 87.83l1.05-1.05 1.05 1.05-1.05 1.05zM327.1 93.93l1.05-1.05 1.05 1.05-1.05 1.05zM323.88 92.1l1.05-1.05 1.05 1.05-1.05 1.05zM326.92 92.52l1.05-1.05 1.05 1.05-1.05 1.05zM323.84 103.38l1.05-1.05 1.05 1.05-1.05 1.05zM324.13 104.38l1.05-1.05 1.05 1.05-1.05 1.05zM324.79 107.72l1.05-1.05 1.05 1.05-1.05 1.05zM327.98 104.23l1.05-1.05 1.05 1.05-1.05 1.05zM322.85 104.12l1.05-1.05 1.05 1.05-1.05 1.05zM324.8 105.01l1.05-1.05 1.05 1.05-1.05 1.05zM323.74 104.65l1.05-1.05 1.05 1.05-1.05 1.05zM326.34 106.14l1.05-1.05 1.05 1.05-1.05 1.05zM327.32 103.62l1.05-1.05 1.05 1.05-1.05 1.05zM325.16 105.01l1.05-1.05 1.05 1.05-1.05 1.05zM325.92 105.72l1.05-1.05 1.05 1.05-1.05 1.05zM324.66 105.03l1.05-1.05 1.05 1.05-1.05 1.05zM324.76 106.63l1.05-1.05 1.05 1.05-1.05 1.05zM321.85 103.49l1.05-1.05 1.05 1.05-1.05 1.05zM324.96 106.87l1.05-1.05 1.05 1.05-1.05 1.05zM325.3 85l1.05-1.05 1.05 1.05-1.05 1.05zM325.3 109l1.05-1.05 1.05 1.05-1.05 1.05z" fill="#262626" fill-opacity="0.85"/><line x1="326.35" y1="84.4" x2="326.35" y2="109.6" stroke="#3a3a3a" stroke-width="0.85"/><path d="M324.13 84.4h4.45M324.13 109.6h4.45" stroke="#222" stroke-width="0.8" fill="none"/><rect x="322.3" y="96.2" width="8.1" height="7.1" fill="#828282" stroke="#1e1e1e" stroke-width="0.9"/><path d="M323.79 99.68l.9-.9 .9 .9-.9 .9zM324.88 97.06l.9-.9 .9 .9-.9 .9zM324.2 99.35l.9-.9 .9 .9-.9 .9zM327.23 101.19l.9-.9 .9 .9-.9 .9zM327.02 101.04l.9-.9 .9 .9-.9 .9z" fill="none" stroke="#a9a9a9" stroke-width="0.4"/><line x1="322.3" y1="100.4" x2="330.4" y2="100.4" stroke="#3a3a3a" stroke-width="0.7"/>
<text x="326.6" y="83.95" text-anchor="middle" font-size="11.4" fill="#444">**</text>
<path d="M343.17 114.92l1-1 1 1-1 1zM344.41 115.95l1-1 1 1-1 1zM343.79 113.27l1-1 1 1-1 1zM342.98 118.35l1-1 1 1-1 1zM344.41 116.4l1-1 1 1-1 1zM343.35 112.53l1-1 1 1-1 1zM344.41 116.51l1-1 1 1-1 1zM343.19 109.12l1-1 1 1-1 1zM343.5 110.22l1-1 1 1-1 1zM343.69 108.33l1-1 1 1-1 1zM344.01 136.25l1-1 1 1-1 1zM344.12 130.33l1-1 1 1-1 1zM343.17 135.79l1-1 1 1-1 1zM343.03 133.36l1-1 1 1-1 1zM342.82 132.12l1-1 1 1-1 1zM344.22 132.42l1-1 1 1-1 1zM343.75 136.62l1-1 1 1-1 1zM341.9 129.83l1-1 1 1-1 1zM342.78 129.92l1-1 1 1-1 1zM343.34 130.81l1-1 1 1-1 1zM343.5 107.6l1-1 1 1-1 1zM343.5 140l1-1 1 1-1 1z" fill="none" stroke="#707070" stroke-width="0.5"/><line x1="344.5" y1="107" x2="344.5" y2="140.6" stroke="#5a5a5a" stroke-width="0.8"/><path d="M342.25 107h4.5M342.25 140.6h4.5" stroke="#333" stroke-width="0.8" fill="none"/><rect x="340.4" y="120.1" width="8.2" height="8.1" fill="#fff" stroke="#3a3a3a" stroke-width="0.9"/><path d="M341.05 124.75l.9-.9 .9 .9-.9 .9zM342.55 126.73l.9-.9 .9 .9-.9 .9zM341.69 121.53l.9-.9 .9 .9-.9 .9zM343.84 124.86l.9-.9 .9 .9-.9 .9zM343.1 125.7l.9-.9 .9 .9-.9 .9z" fill="none" stroke="#c4c4c4" stroke-width="0.4"/><line x1="340.4" y1="124.5" x2="348.6" y2="124.5" stroke="#777" stroke-width="0.7"/>
<path d="M354.45 121.77l1.05-1.05 1.05 1.05-1.05 1.05zM353.56 119.16l1.05-1.05 1.05 1.05-1.05 1.05zM351.8 120.57l1.05-1.05 1.05 1.05-1.05 1.05zM353.81 108.8l1.05-1.05 1.05 1.05-1.05 1.05zM355.54 117.96l1.05-1.05 1.05 1.05-1.05 1.05zM353.22 120.5l1.05-1.05 1.05 1.05-1.05 1.05zM355.13 122.31l1.05-1.05 1.05 1.05-1.05 1.05zM352.84 121.2l1.05-1.05 1.05 1.05-1.05 1.05zM351.64 120.45l1.05-1.05 1.05 1.05-1.05 1.05zM352.14 118.38l1.05-1.05 1.05 1.05-1.05 1.05zM351.17 122.17l1.05-1.05 1.05 1.05-1.05 1.05zM355.16 116.9l1.05-1.05 1.05 1.05-1.05 1.05zM356.19 120.33l1.05-1.05 1.05 1.05-1.05 1.05zM353.84 112.41l1.05-1.05 1.05 1.05-1.05 1.05zM356.38 122.42l1.05-1.05 1.05 1.05-1.05 1.05zM354.48 121.99l1.05-1.05 1.05 1.05-1.05 1.05zM354.39 121.15l1.05-1.05 1.05 1.05-1.05 1.05zM351.49 118.29l1.05-1.05 1.05 1.05-1.05 1.05zM352.58 120.74l1.05-1.05 1.05 1.05-1.05 1.05zM353.44 111.26l1.05-1.05 1.05 1.05-1.05 1.05zM355.28 120.81l1.05-1.05 1.05 1.05-1.05 1.05zM356.81 121.18l1.05-1.05 1.05 1.05-1.05 1.05zM353.47 111.39l1.05-1.05 1.05 1.05-1.05 1.05zM351 120.79l1.05-1.05 1.05 1.05-1.05 1.05zM352.1 119.9l1.05-1.05 1.05 1.05-1.05 1.05zM356.76 122.47l1.05-1.05 1.05 1.05-1.05 1.05zM353.41 112.17l1.05-1.05 1.05 1.05-1.05 1.05zM352.94 118.87l1.05-1.05 1.05 1.05-1.05 1.05zM353.07 110.74l1.05-1.05 1.05 1.05-1.05 1.05zM352.66 121.43l1.05-1.05 1.05 1.05-1.05 1.05zM354.78 117.49l1.05-1.05 1.05 1.05-1.05 1.05zM352.11 116.06l1.05-1.05 1.05 1.05-1.05 1.05zM352.41 115.07l1.05-1.05 1.05 1.05-1.05 1.05zM353.45 116.77l1.05-1.05 1.05 1.05-1.05 1.05zM352.48 135.8l1.05-1.05 1.05 1.05-1.05 1.05zM351.43 133.53l1.05-1.05 1.05 1.05-1.05 1.05zM351.23 132.6l1.05-1.05 1.05 1.05-1.05 1.05zM354.04 135.14l1.05-1.05 1.05 1.05-1.05 1.05zM353.09 131.95l1.05-1.05 1.05 1.05-1.05 1.05zM353.27 130.88l1.05-1.05 1.05 1.05-1.05 1.05zM354.68 131.84l1.05-1.05 1.05 1.05-1.05 1.05zM354.98 131.02l1.05-1.05 1.05 1.05-1.05 1.05zM352.24 135.72l1.05-1.05 1.05 1.05-1.05 1.05zM352.56 138.13l1.05-1.05 1.05 1.05-1.05 1.05zM352.9 133.19l1.05-1.05 1.05 1.05-1.05 1.05zM353.66 140.92l1.05-1.05 1.05 1.05-1.05 1.05zM349.87 130.91l1.05-1.05 1.05 1.05-1.05 1.05zM352.21 136.89l1.05-1.05 1.05 1.05-1.05 1.05zM351.67 131.63l1.05-1.05 1.05 1.05-1.05 1.05zM354.41 133.42l1.05-1.05 1.05 1.05-1.05 1.05zM354.31 138.62l1.05-1.05 1.05 1.05-1.05 1.05zM355.47 131.08l1.05-1.05 1.05 1.05-1.05 1.05zM357.04 131.25l1.05-1.05 1.05 1.05-1.05 1.05zM351.62 133.13l1.05-1.05 1.05 1.05-1.05 1.05zM352.32 136.51l1.05-1.05 1.05 1.05-1.05 1.05zM353.95 141.73l1.05-1.05 1.05 1.05-1.05 1.05zM355.24 133.33l1.05-1.05 1.05 1.05-1.05 1.05zM354.05 134.26l1.05-1.05 1.05 1.05-1.05 1.05zM350.11 131.13l1.05-1.05 1.05 1.05-1.05 1.05zM352.11 132.03l1.05-1.05 1.05 1.05-1.05 1.05zM352.05 136.43l1.05-1.05 1.05 1.05-1.05 1.05zM353.45 140.76l1.05-1.05 1.05 1.05-1.05 1.05zM354.67 130.98l1.05-1.05 1.05 1.05-1.05 1.05zM353.5 109.1l1.05-1.05 1.05 1.05-1.05 1.05zM353.5 142.5l1.05-1.05 1.05 1.05-1.05 1.05z" fill="#262626" fill-opacity="0.85"/><line x1="354.55" y1="108.5" x2="354.55" y2="143.1" stroke="#3a3a3a" stroke-width="0.85"/><path d="M352.27 108.5h4.55M352.27 143.1h4.55" stroke="#222" stroke-width="0.8" fill="none"/><rect x="350.4" y="122.6" width="8.3" height="8.1" fill="#828282" stroke="#1e1e1e" stroke-width="0.9"/><path d="M353.96 127.15l.9-.9 .9 .9-.9 .9zM355.18 126.52l.9-.9 .9 .9-.9 .9zM352.34 128.78l.9-.9 .9 .9-.9 .9zM354.36 124.41l.9-.9 .9 .9-.9 .9zM351.08 129.32l.9-.9 .9 .9-.9 .9z" fill="none" stroke="#a9a9a9" stroke-width="0.4"/><line x1="350.4" y1="126.4" x2="358.7" y2="126.4" stroke="#3a3a3a" stroke-width="0.7"/>
<text x="353.6" y="104.65" text-anchor="middle" font-size="11.4" fill="#444">*</text>
<path d="M54.6 56.7V154.4H365" fill="none" stroke="#222" stroke-width="1.05"/><line x1="54.6" y1="56.7" x2="59.6" y2="56.7" stroke="#222" stroke-width="1"/><line x1="54.6" y1="66.46" x2="57.9" y2="66.46" stroke="#1a1a1a" stroke-width="0.85"/><line x1="54.6" y1="64" x2="57.9" y2="64" stroke="#1a1a1a" stroke-width="0.85"/><line x1="54.6" y1="62.25" x2="57.9" y2="62.25" stroke="#1a1a1a" stroke-width="0.85"/><line x1="54.6" y1="60.9" x2="57.9" y2="60.9" stroke="#1a1a1a" stroke-width="0.85"/><line x1="54.6" y1="59.8" x2="57.9" y2="59.8" stroke="#1a1a1a" stroke-width="0.85"/><line x1="54.6" y1="58.86" x2="57.9" y2="58.86" stroke="#1a1a1a" stroke-width="0.85"/><line x1="54.6" y1="58.05" x2="57.9" y2="58.05" stroke="#1a1a1a" stroke-width="0.85"/><line x1="54.6" y1="57.34" x2="57.9" y2="57.34" stroke="#1a1a1a" stroke-width="0.85"/><line x1="54.6" y1="70.66" x2="59.6" y2="70.66" stroke="#222" stroke-width="1"/><line x1="54.6" y1="80.41" x2="57.9" y2="80.41" stroke="#1a1a1a" stroke-width="0.85"/><line x1="54.6" y1="77.96" x2="57.9" y2="77.96" stroke="#1a1a1a" stroke-width="0.85"/><line x1="54.6" y1="76.21" x2="57.9" y2="76.21" stroke="#1a1a1a" stroke-width="0.85"/><line x1="54.6" y1="74.86" x2="57.9" y2="74.86" stroke="#1a1a1a" stroke-width="0.85"/><line x1="54.6" y1="73.75" x2="57.9" y2="73.75" stroke="#1a1a1a" stroke-width="0.85"/><line x1="54.6" y1="72.82" x2="57.9" y2="72.82" stroke="#1a1a1a" stroke-width="0.85"/><line x1="54.6" y1="72.01" x2="57.9" y2="72.01" stroke="#1a1a1a" stroke-width="0.85"/><line x1="54.6" y1="71.3" x2="57.9" y2="71.3" stroke="#1a1a1a" stroke-width="0.85"/><line x1="54.6" y1="84.61" x2="59.6" y2="84.61" stroke="#222" stroke-width="1"/><line x1="54.6" y1="94.37" x2="57.9" y2="94.37" stroke="#1a1a1a" stroke-width="0.85"/><line x1="54.6" y1="91.91" x2="57.9" y2="91.91" stroke="#1a1a1a" stroke-width="0.85"/><line x1="54.6" y1="90.17" x2="57.9" y2="90.17" stroke="#1a1a1a" stroke-width="0.85"/><line x1="54.6" y1="88.82" x2="57.9" y2="88.82" stroke="#1a1a1a" stroke-width="0.85"/><line x1="54.6" y1="87.71" x2="57.9" y2="87.71" stroke="#1a1a1a" stroke-width="0.85"/><line x1="54.6" y1="86.78" x2="57.9" y2="86.78" stroke="#1a1a1a" stroke-width="0.85"/><line x1="54.6" y1="85.97" x2="57.9" y2="85.97" stroke="#1a1a1a" stroke-width="0.85"/><line x1="54.6" y1="85.25" x2="57.9" y2="85.25" stroke="#1a1a1a" stroke-width="0.85"/><line x1="54.6" y1="98.57" x2="59.6" y2="98.57" stroke="#222" stroke-width="1"/><line x1="54.6" y1="108.33" x2="57.9" y2="108.33" stroke="#1a1a1a" stroke-width="0.85"/><line x1="54.6" y1="105.87" x2="57.9" y2="105.87" stroke="#1a1a1a" stroke-width="0.85"/><line x1="54.6" y1="104.13" x2="57.9" y2="104.13" stroke="#1a1a1a" stroke-width="0.85"/><line x1="54.6" y1="102.77" x2="57.9" y2="102.77" stroke="#1a1a1a" stroke-width="0.85"/><line x1="54.6" y1="101.67" x2="57.9" y2="101.67" stroke="#1a1a1a" stroke-width="0.85"/><line x1="54.6" y1="100.73" x2="57.9" y2="100.73" stroke="#1a1a1a" stroke-width="0.85"/><line x1="54.6" y1="99.92" x2="57.9" y2="99.92" stroke="#1a1a1a" stroke-width="0.85"/><line x1="54.6" y1="99.21" x2="57.9" y2="99.21" stroke="#1a1a1a" stroke-width="0.85"/><line x1="54.6" y1="112.53" x2="59.6" y2="112.53" stroke="#222" stroke-width="1"/><line x1="54.6" y1="122.28" x2="57.9" y2="122.28" stroke="#1a1a1a" stroke-width="0.85"/><line x1="54.6" y1="119.83" x2="57.9" y2="119.83" stroke="#1a1a1a" stroke-width="0.85"/><line x1="54.6" y1="118.08" x2="57.9" y2="118.08" stroke="#1a1a1a" stroke-width="0.85"/><line x1="54.6" y1="116.73" x2="57.9" y2="116.73" stroke="#1a1a1a" stroke-width="0.85"/><line x1="54.6" y1="115.62" x2="57.9" y2="115.62" stroke="#1a1a1a" stroke-width="0.85"/><line x1="54.6" y1="114.69" x2="57.9" y2="114.69" stroke="#1a1a1a" stroke-width="0.85"/><line x1="54.6" y1="113.88" x2="57.9" y2="113.88" stroke="#1a1a1a" stroke-width="0.85"/><line x1="54.6" y1="113.17" x2="57.9" y2="113.17" stroke="#1a1a1a" stroke-width="0.85"/><line x1="54.6" y1="126.49" x2="59.6" y2="126.49" stroke="#222" stroke-width="1"/><line x1="54.6" y1="136.24" x2="57.9" y2="136.24" stroke="#1a1a1a" stroke-width="0.85"/><line x1="54.6" y1="133.78" x2="57.9" y2="133.78" stroke="#1a1a1a" stroke-width="0.85"/><line x1="54.6" y1="132.04" x2="57.9" y2="132.04" stroke="#1a1a1a" stroke-width="0.85"/><line x1="54.6" y1="130.69" x2="57.9" y2="130.69" stroke="#1a1a1a" stroke-width="0.85"/><line x1="54.6" y1="129.58" x2="57.9" y2="129.58" stroke="#1a1a1a" stroke-width="0.85"/><line x1="54.6" y1="128.65" x2="57.9" y2="128.65" stroke="#1a1a1a" stroke-width="0.85"/><line x1="54.6" y1="127.84" x2="57.9" y2="127.84" stroke="#1a1a1a" stroke-width="0.85"/><line x1="54.6" y1="127.12" x2="57.9" y2="127.12" stroke="#1a1a1a" stroke-width="0.85"/><line x1="54.6" y1="140.44" x2="59.6" y2="140.44" stroke="#222" stroke-width="1"/><line x1="54.6" y1="150.2" x2="57.9" y2="150.2" stroke="#1a1a1a" stroke-width="0.85"/><line x1="54.6" y1="147.74" x2="57.9" y2="147.74" stroke="#1a1a1a" stroke-width="0.85"/><line x1="54.6" y1="146" x2="57.9" y2="146" stroke="#1a1a1a" stroke-width="0.85"/><line x1="54.6" y1="144.64" x2="57.9" y2="144.64" stroke="#1a1a1a" stroke-width="0.85"/><line x1="54.6" y1="143.54" x2="57.9" y2="143.54" stroke="#1a1a1a" stroke-width="0.85"/><line x1="54.6" y1="142.6" x2="57.9" y2="142.6" stroke="#1a1a1a" stroke-width="0.85"/><line x1="54.6" y1="141.8" x2="57.9" y2="141.8" stroke="#1a1a1a" stroke-width="0.85"/><line x1="54.6" y1="141.08" x2="57.9" y2="141.08" stroke="#1a1a1a" stroke-width="0.85"/><line x1="54.6" y1="154.4" x2="59.6" y2="154.4" stroke="#222" stroke-width="1"/><line x1="68.4" y1="149.1" x2="68.4" y2="154.4" stroke="#333" stroke-width="0.9"/><line x1="96.4" y1="149.1" x2="96.4" y2="154.4" stroke="#333" stroke-width="0.9"/><line x1="124.4" y1="149.1" x2="124.4" y2="154.4" stroke="#333" stroke-width="0.9"/><line x1="152.5" y1="149.1" x2="152.5" y2="154.4" stroke="#333" stroke-width="0.9"/><line x1="180.5" y1="149.1" x2="180.5" y2="154.4" stroke="#333" stroke-width="0.9"/><line x1="208.7" y1="149.1" x2="208.7" y2="154.4" stroke="#333" stroke-width="0.9"/><line x1="237" y1="149.1" x2="237" y2="154.4" stroke="#333" stroke-width="0.9"/><line x1="265.3" y1="149.1" x2="265.3" y2="154.4" stroke="#333" stroke-width="0.9"/><line x1="293.3" y1="149.1" x2="293.3" y2="154.4" stroke="#333" stroke-width="0.9"/><line x1="321.3" y1="149.1" x2="321.3" y2="154.4" stroke="#333" stroke-width="0.9"/><line x1="349.3" y1="149.1" x2="349.3" y2="154.4" stroke="#333" stroke-width="0.9"/>
<text x="50.6" y="60.2" text-anchor="end" font-size="11.5" fill="#1a1a1a">10000</text><text x="50.6" y="74.16" text-anchor="end" font-size="11.5" fill="#1a1a1a">1000</text><text x="50.6" y="88.11" text-anchor="end" font-size="11.5" fill="#1a1a1a">100</text><text x="50.6" y="102.07" text-anchor="end" font-size="11.5" fill="#1a1a1a">10</text><text x="50.6" y="116.03" text-anchor="end" font-size="11.5" fill="#1a1a1a">1</text><text x="50.6" y="129.99" text-anchor="end" font-size="11.5" fill="#1a1a1a">0.1</text><text x="50.6" y="143.94" text-anchor="end" font-size="11.5" fill="#1a1a1a">0.01</text><text x="50.6" y="157.9" text-anchor="end" font-size="11.5" fill="#1a1a1a">0.001</text>
<text transform="translate(71.6 157.9) rotate(-90)" text-anchor="end" font-size="9.0" font-style="italic" letter-spacing="0.1" fill="#111" stroke="#111" stroke-width="0.08">MUC1</text><text transform="translate(99.6 157.9) rotate(-90)" text-anchor="end" font-size="9.0" font-style="italic" letter-spacing="0.1" fill="#111" stroke="#111" stroke-width="0.08">MUC2</text><text transform="translate(127.6 157.9) rotate(-90)" text-anchor="end" font-size="9.0" font-style="italic" letter-spacing="0.1" fill="#111" stroke="#111" stroke-width="0.08">MUC3</text><text transform="translate(155.7 157.9) rotate(-90)" text-anchor="end" font-size="9.0" font-style="italic" letter-spacing="0.1" fill="#111" stroke="#111" stroke-width="0.08">MUC4</text><text transform="translate(183.7 157.9) rotate(-90)" text-anchor="end" font-size="9.0" font-style="italic" letter-spacing="0.1" fill="#111" stroke="#111" stroke-width="0.08">MUC5B</text><text transform="translate(211.9 157.9) rotate(-90)" text-anchor="end" font-size="9.0" font-style="italic" letter-spacing="0.1" fill="#111" stroke="#111" stroke-width="0.08">MUC6</text><text transform="translate(240.2 157.9) rotate(-90)" text-anchor="end" font-size="9.0" font-style="italic" letter-spacing="0.1" fill="#111" stroke="#111" stroke-width="0.08">MUC12</text><text transform="translate(268.5 157.9) rotate(-90)" text-anchor="end" font-size="9.0" font-style="italic" letter-spacing="0.1" fill="#111" stroke="#111" stroke-width="0.08">MUC13</text><text transform="translate(296.5 157.9) rotate(-90)" text-anchor="end" font-size="9.0" font-style="italic" letter-spacing="0.1" fill="#111" stroke="#111" stroke-width="0.08">MUC17</text><text transform="translate(324.5 157.9) rotate(-90)" text-anchor="end" font-size="9.0" font-style="italic" letter-spacing="0.1" fill="#111" stroke="#111" stroke-width="0.08">MUC20</text><text transform="translate(352.5 157.9) rotate(-90)" text-anchor="end" font-size="9.0" font-style="italic" letter-spacing="0.1" fill="#111" stroke="#111" stroke-width="0.08">MUC21</text>
</g>
<g id="panel-d">
<path d="M63.58 269.42l1-1 1 1-1 1zM63.2 277.43l1-1 1 1-1 1zM64.11 268.74l1-1 1 1-1 1zM63.96 266.75l1-1 1 1-1 1zM63 267.82l1-1 1 1-1 1zM63.49 266.03l1-1 1 1-1 1zM64.87 275.07l1-1 1 1-1 1zM62.85 276.72l1-1 1 1-1 1zM63.04 274.72l1-1 1 1-1 1zM63.72 267.54l1-1 1 1-1 1zM63.91 298.86l1-1 1 1-1 1zM63.31 298.66l1-1 1 1-1 1zM63.32 288.75l1-1 1 1-1 1zM65.01 284.46l1-1 1 1-1 1zM63.97 295.06l1-1 1 1-1 1zM63.79 301.51l1-1 1 1-1 1zM64.63 285.18l1-1 1 1-1 1zM63.66 286.89l1-1 1 1-1 1zM63.64 286.35l1-1 1 1-1 1zM64.28 294.2l1-1 1 1-1 1zM64.77 286.99l1-1 1 1-1 1zM63.26 303.12l1-1 1 1-1 1zM62.02 285.95l1-1 1 1-1 1zM63.87 295.33l1-1 1 1-1 1zM63.55 264.6l1-1 1 1-1 1zM63.55 303.2l1-1 1 1-1 1z" fill="none" stroke="#707070" stroke-width="0.5"/><line x1="64.55" y1="264" x2="64.55" y2="303.8" stroke="#5a5a5a" stroke-width="0.8"/><path d="M62.32 264h4.45M62.32 303.8h4.45" stroke="#333" stroke-width="0.8" fill="none"/><rect x="60.5" y="277.5" width="8.1" height="5.5" fill="#fff" stroke="#3a3a3a" stroke-width="0.9"/><path d="M64.89 280.01l.9-.9 .9 .9-.9 .9zM62.02 281.63l.9-.9 .9 .9-.9 .9zM62.09 278.6l.9-.9 .9 .9-.9 .9zM64.24 281.57l.9-.9 .9 .9-.9 .9z" fill="none" stroke="#c4c4c4" stroke-width="0.4"/><line x1="60.5" y1="280" x2="68.6" y2="280" stroke="#777" stroke-width="0.7"/>
<path d="M72.25 271.98l1.05-1.05 1.05 1.05-1.05 1.05zM70.92 273.16l1.05-1.05 1.05 1.05-1.05 1.05zM70.49 274.86l1.05-1.05 1.05 1.05-1.05 1.05zM75.93 274.65l1.05-1.05 1.05 1.05-1.05 1.05zM70.8 275.2l1.05-1.05 1.05 1.05-1.05 1.05zM72.44 270.59l1.05-1.05 1.05 1.05-1.05 1.05zM74.44 274.72l1.05-1.05 1.05 1.05-1.05 1.05zM74.94 272.78l1.05-1.05 1.05 1.05-1.05 1.05zM75.4 275.61l1.05-1.05 1.05 1.05-1.05 1.05zM75.47 275.31l1.05-1.05 1.05 1.05-1.05 1.05zM72.61 268.35l1.05-1.05 1.05 1.05-1.05 1.05zM71.27 273.45l1.05-1.05 1.05 1.05-1.05 1.05zM73.2 269.56l1.05-1.05 1.05 1.05-1.05 1.05zM70.22 275.25l1.05-1.05 1.05 1.05-1.05 1.05zM73.54 271.63l1.05-1.05 1.05 1.05-1.05 1.05zM71.35 274.39l1.05-1.05 1.05 1.05-1.05 1.05zM72.11 269.78l1.05-1.05 1.05 1.05-1.05 1.05zM73.83 271.85l1.05-1.05 1.05 1.05-1.05 1.05zM75.04 275.42l1.05-1.05 1.05 1.05-1.05 1.05zM71.04 273.41l1.05-1.05 1.05 1.05-1.05 1.05zM74.41 273.11l1.05-1.05 1.05 1.05-1.05 1.05zM71.93 272.02l1.05-1.05 1.05 1.05-1.05 1.05zM71.85 272.3l1.05-1.05 1.05 1.05-1.05 1.05zM72.87 272.97l1.05-1.05 1.05 1.05-1.05 1.05zM74.16 275.42l1.05-1.05 1.05 1.05-1.05 1.05zM70.67 273.32l1.05-1.05 1.05 1.05-1.05 1.05zM71.35 285.32l1.05-1.05 1.05 1.05-1.05 1.05zM70.19 280.89l1.05-1.05 1.05 1.05-1.05 1.05zM70.97 282.38l1.05-1.05 1.05 1.05-1.05 1.05zM70.36 282.54l1.05-1.05 1.05 1.05-1.05 1.05zM72.78 281.24l1.05-1.05 1.05 1.05-1.05 1.05zM72 289.5l1.05-1.05 1.05 1.05-1.05 1.05zM75.81 280.61l1.05-1.05 1.05 1.05-1.05 1.05zM72.56 294.47l1.05-1.05 1.05 1.05-1.05 1.05zM72.34 289.01l1.05-1.05 1.05 1.05-1.05 1.05zM74.37 286.3l1.05-1.05 1.05 1.05-1.05 1.05zM75.3 283.53l1.05-1.05 1.05 1.05-1.05 1.05zM74.47 282.2l1.05-1.05 1.05 1.05-1.05 1.05zM71.54 284.24l1.05-1.05 1.05 1.05-1.05 1.05zM72.05 281.57l1.05-1.05 1.05 1.05-1.05 1.05zM71.68 285.64l1.05-1.05 1.05 1.05-1.05 1.05zM74.12 280.92l1.05-1.05 1.05 1.05-1.05 1.05zM74.01 285.52l1.05-1.05 1.05 1.05-1.05 1.05zM71.11 281.19l1.05-1.05 1.05 1.05-1.05 1.05zM71.54 285.67l1.05-1.05 1.05 1.05-1.05 1.05zM73.25 295.91l1.05-1.05 1.05 1.05-1.05 1.05zM74.49 286.43l1.05-1.05 1.05 1.05-1.05 1.05zM71.69 284.48l1.05-1.05 1.05 1.05-1.05 1.05zM71.15 281.95l1.05-1.05 1.05 1.05-1.05 1.05zM72.58 281.5l1.05-1.05 1.05 1.05-1.05 1.05zM73.47 283.14l1.05-1.05 1.05 1.05-1.05 1.05zM73.61 286.99l1.05-1.05 1.05 1.05-1.05 1.05zM74.42 287.52l1.05-1.05 1.05 1.05-1.05 1.05zM74.8 285.84l1.05-1.05 1.05 1.05-1.05 1.05zM76.5 281.19l1.05-1.05 1.05 1.05-1.05 1.05zM71.11 282.22l1.05-1.05 1.05 1.05-1.05 1.05zM72.18 287.89l1.05-1.05 1.05 1.05-1.05 1.05zM72.62 285.68l1.05-1.05 1.05 1.05-1.05 1.05zM73.43 288.91l1.05-1.05 1.05 1.05-1.05 1.05zM75.06 282.32l1.05-1.05 1.05 1.05-1.05 1.05zM73.67 282.34l1.05-1.05 1.05 1.05-1.05 1.05zM73.83 286.06l1.05-1.05 1.05 1.05-1.05 1.05zM71.33 282.08l1.05-1.05 1.05 1.05-1.05 1.05zM70.88 282.93l1.05-1.05 1.05 1.05-1.05 1.05zM73 265.2l1.05-1.05 1.05 1.05-1.05 1.05zM73 296.2l1.05-1.05 1.05 1.05-1.05 1.05z" fill="#262626" fill-opacity="0.85"/><line x1="74.05" y1="264.6" x2="74.05" y2="296.8" stroke="#3a3a3a" stroke-width="0.85"/><path d="M71.88 264.6h4.35M71.88 296.8h4.35" stroke="#222" stroke-width="0.8" fill="none"/><rect x="70.1" y="276" width="7.9" height="4.4" fill="#828282" stroke="#1e1e1e" stroke-width="0.9"/><path d="M75.59 276.94l.9-.9 .9 .9-.9 .9zM72.85 277.44l.9-.9 .9 .9-.9 .9zM74.17 278.69l.9-.9 .9 .9-.9 .9zM72.57 279.38l.9-.9 .9 .9-.9 .9z" fill="none" stroke="#a9a9a9" stroke-width="0.4"/><line x1="70.1" y1="278.2" x2="78" y2="278.2" stroke="#3a3a3a" stroke-width="0.7"/>
<path d="M91.29 270.5l1-1 1 1-1 1zM90.16 279.51l1-1 1 1-1 1zM90.68 266.19l1-1 1 1-1 1zM91.02 266.64l1-1 1 1-1 1zM90.08 273.63l1-1 1 1-1 1zM91.33 283.77l1-1 1 1-1 1zM91.14 267.64l1-1 1 1-1 1zM89.51 280.29l1-1 1 1-1 1zM90.25 272.44l1-1 1 1-1 1zM90.04 278.98l1-1 1 1-1 1zM89.87 275.64l1-1 1 1-1 1zM90.71 271.32l1-1 1 1-1 1zM90.27 267.67l1-1 1 1-1 1zM91.37 282.99l1-1 1 1-1 1zM90.32 303.15l1-1 1 1-1 1zM90.48 305.21l1-1 1 1-1 1zM90.48 296.24l1-1 1 1-1 1zM90.54 306.91l1-1 1 1-1 1zM91.12 298.86l1-1 1 1-1 1zM89.86 295.4l1-1 1 1-1 1zM89.92 294.24l1-1 1 1-1 1zM90.52 296.3l1-1 1 1-1 1zM90.98 296.71l1-1 1 1-1 1zM90.53 302.1l1-1 1 1-1 1zM90.75 264.1l1-1 1 1-1 1zM90.75 307.8l1-1 1 1-1 1z" fill="none" stroke="#707070" stroke-width="0.5"/><line x1="91.75" y1="263.5" x2="91.75" y2="308.4" stroke="#5a5a5a" stroke-width="0.8"/><path d="M89.53 263.5h4.45M89.53 308.4h4.45" stroke="#333" stroke-width="0.8" fill="none"/><rect x="87.7" y="284.3" width="8.1" height="9.2" fill="#fff" stroke="#3a3a3a" stroke-width="0.9"/><path d="M87.72 286.15l.9-.9 .9 .9-.9 .9zM90.01 287.17l.9-.9 .9 .9-.9 .9zM91.72 291.48l.9-.9 .9 .9-.9 .9zM88.88 290.66l.9-.9 .9 .9-.9 .9zM91.51 285.24l.9-.9 .9 .9-.9 .9zM91.43 289.63l.9-.9 .9 .9-.9 .9z" fill="none" stroke="#c4c4c4" stroke-width="0.4"/><line x1="87.7" y1="289.2" x2="95.8" y2="289.2" stroke="#777" stroke-width="0.7"/>
<path d="M101.28 275.52l1.05-1.05 1.05 1.05-1.05 1.05zM97.25 285.91l1.05-1.05 1.05 1.05-1.05 1.05zM97.76 280.33l1.05-1.05 1.05 1.05-1.05 1.05zM99.56 274.26l1.05-1.05 1.05 1.05-1.05 1.05zM97.69 285.16l1.05-1.05 1.05 1.05-1.05 1.05zM100.05 254.7l1.05-1.05 1.05 1.05-1.05 1.05zM100.57 286.85l1.05-1.05 1.05 1.05-1.05 1.05zM99.31 277.76l1.05-1.05 1.05 1.05-1.05 1.05zM97.99 281.72l1.05-1.05 1.05 1.05-1.05 1.05zM101.19 276.05l1.05-1.05 1.05 1.05-1.05 1.05zM101.91 279.92l1.05-1.05 1.05 1.05-1.05 1.05zM98.66 281.09l1.05-1.05 1.05 1.05-1.05 1.05zM99.37 268.34l1.05-1.05 1.05 1.05-1.05 1.05zM101.28 277.9l1.05-1.05 1.05 1.05-1.05 1.05zM102.54 285.61l1.05-1.05 1.05 1.05-1.05 1.05zM100.96 283.86l1.05-1.05 1.05 1.05-1.05 1.05zM101.51 280.41l1.05-1.05 1.05 1.05-1.05 1.05zM100.05 260.65l1.05-1.05 1.05 1.05-1.05 1.05zM98.42 280.78l1.05-1.05 1.05 1.05-1.05 1.05zM100.75 276.7l1.05-1.05 1.05 1.05-1.05 1.05zM98.95 282.39l1.05-1.05 1.05 1.05-1.05 1.05zM100.59 281.84l1.05-1.05 1.05 1.05-1.05 1.05zM99.53 272.31l1.05-1.05 1.05 1.05-1.05 1.05zM101.33 284.11l1.05-1.05 1.05 1.05-1.05 1.05zM99.51 271.91l1.05-1.05 1.05 1.05-1.05 1.05zM100.96 273.74l1.05-1.05 1.05 1.05-1.05 1.05zM102.12 283.33l1.05-1.05 1.05 1.05-1.05 1.05zM101.11 263.15l1.05-1.05 1.05 1.05-1.05 1.05zM99.62 276.69l1.05-1.05 1.05 1.05-1.05 1.05zM97.88 281.42l1.05-1.05 1.05 1.05-1.05 1.05zM100.49 284.49l1.05-1.05 1.05 1.05-1.05 1.05zM103.48 285.43l1.05-1.05 1.05 1.05-1.05 1.05zM99.51 271.62l1.05-1.05 1.05 1.05-1.05 1.05zM99.86 275.69l1.05-1.05 1.05 1.05-1.05 1.05zM100.62 286.52l1.05-1.05 1.05 1.05-1.05 1.05zM97.65 283.46l1.05-1.05 1.05 1.05-1.05 1.05zM101.27 279.92l1.05-1.05 1.05 1.05-1.05 1.05zM99.04 286.26l1.05-1.05 1.05 1.05-1.05 1.05zM99.59 283.25l1.05-1.05 1.05 1.05-1.05 1.05zM101.65 271.45l1.05-1.05 1.05 1.05-1.05 1.05zM99.62 266.4l1.05-1.05 1.05 1.05-1.05 1.05zM97.67 282.08l1.05-1.05 1.05 1.05-1.05 1.05zM100.01 256.71l1.05-1.05 1.05 1.05-1.05 1.05zM101.07 281.29l1.05-1.05 1.05 1.05-1.05 1.05zM101.28 272.88l1.05-1.05 1.05 1.05-1.05 1.05zM98.17 280.51l1.05-1.05 1.05 1.05-1.05 1.05zM99.46 267.07l1.05-1.05 1.05 1.05-1.05 1.05zM101.32 273.63l1.05-1.05 1.05 1.05-1.05 1.05zM98.16 284.2l1.05-1.05 1.05 1.05-1.05 1.05zM102.69 284.79l1.05-1.05 1.05 1.05-1.05 1.05zM100.02 279.68l1.05-1.05 1.05 1.05-1.05 1.05zM99.18 272.92l1.05-1.05 1.05 1.05-1.05 1.05zM98.95 282.42l1.05-1.05 1.05 1.05-1.05 1.05zM103.31 286.18l1.05-1.05 1.05 1.05-1.05 1.05zM101.71 271.26l1.05-1.05 1.05 1.05-1.05 1.05zM101.86 284.49l1.05-1.05 1.05 1.05-1.05 1.05zM98.82 298.1l1.05-1.05 1.05 1.05-1.05 1.05zM102.32 296.48l1.05-1.05 1.05 1.05-1.05 1.05zM98.56 295.62l1.05-1.05 1.05 1.05-1.05 1.05zM99.99 303.02l1.05-1.05 1.05 1.05-1.05 1.05zM99.05 298.26l1.05-1.05 1.05 1.05-1.05 1.05zM99.49 296.81l1.05-1.05 1.05 1.05-1.05 1.05zM101.5 299.47l1.05-1.05 1.05 1.05-1.05 1.05zM98.08 297.65l1.05-1.05 1.05 1.05-1.05 1.05zM101.22 300.88l1.05-1.05 1.05 1.05-1.05 1.05zM101.81 298.31l1.05-1.05 1.05 1.05-1.05 1.05zM99.78 297.75l1.05-1.05 1.05 1.05-1.05 1.05zM98.17 296.81l1.05-1.05 1.05 1.05-1.05 1.05zM102.5 297.3l1.05-1.05 1.05 1.05-1.05 1.05zM101.31 298.84l1.05-1.05 1.05 1.05-1.05 1.05zM101.71 299.36l1.05-1.05 1.05 1.05-1.05 1.05zM100.63 304.2l1.05-1.05 1.05 1.05-1.05 1.05zM100.09 302.78l1.05-1.05 1.05 1.05-1.05 1.05zM99.12 298.91l1.05-1.05 1.05 1.05-1.05 1.05zM99.79 298.66l1.05-1.05 1.05 1.05-1.05 1.05zM101.74 298.48l1.05-1.05 1.05 1.05-1.05 1.05zM100 303.39l1.05-1.05 1.05 1.05-1.05 1.05zM100.4 254.3l1.05-1.05 1.05 1.05-1.05 1.05zM100.4 303.9l1.05-1.05 1.05 1.05-1.05 1.05z" fill="#262626" fill-opacity="0.85"/><line x1="101.45" y1="253.7" x2="101.45" y2="304.5" stroke="#3a3a3a" stroke-width="0.85"/><path d="M99.28 253.7h4.35M99.28 304.5h4.35" stroke="#222" stroke-width="0.8" fill="none"/><rect x="97.5" y="287" width="7.9" height="8.3" fill="#828282" stroke="#1e1e1e" stroke-width="0.9"/><path d="M97.69 293.54l.9-.9 .9 .9-.9 .9zM100.27 290.18l.9-.9 .9 .9-.9 .9zM98.74 293.89l.9-.9 .9 .9-.9 .9zM98.02 291.41l.9-.9 .9 .9-.9 .9zM97.84 288.18l.9-.9 .9 .9-.9 .9z" fill="none" stroke="#a9a9a9" stroke-width="0.4"/><line x1="97.5" y1="290.7" x2="105.4" y2="290.7" stroke="#3a3a3a" stroke-width="0.7"/>
<path d="M118.76 232.8l1-1 1 1-1 1zM118.84 232.58l1-1 1 1-1 1zM118.38 232.49l1-1 1 1-1 1zM118.8 232.08l1-1 1 1-1 1zM118.97 232.49l1-1 1 1-1 1zM118.34 233.02l1-1 1 1-1 1zM118.02 231.95l1-1 1 1-1 1zM119.37 233.13l1-1 1 1-1 1zM117.66 232.76l1-1 1 1-1 1zM117.27 232.21l1-1 1 1-1 1zM118.38 249.08l1-1 1 1-1 1zM118.76 252.54l1-1 1 1-1 1zM118.87 260.45l1-1 1 1-1 1zM117.41 263.69l1-1 1 1-1 1zM117.78 283.9l1-1 1 1-1 1zM118 292.56l1-1 1 1-1 1zM118.67 255.99l1-1 1 1-1 1zM117.48 256.66l1-1 1 1-1 1zM118.22 248.41l1-1 1 1-1 1zM117.59 277.85l1-1 1 1-1 1zM118.09 292.6l1-1 1 1-1 1zM119.27 255.82l1-1 1 1-1 1zM118.44 281.98l1-1 1 1-1 1zM119.32 255.62l1-1 1 1-1 1zM119.01 262.36l1-1 1 1-1 1zM118.06 290.86l1-1 1 1-1 1zM117.48 272.92l1-1 1 1-1 1zM117.98 283.97l1-1 1 1-1 1zM117.45 259.27l1-1 1 1-1 1zM118.1 249.7l1-1 1 1-1 1zM117.46 248.63l1-1 1 1-1 1zM117.76 281.48l1-1 1 1-1 1zM118.11 248.24l1-1 1 1-1 1zM117.5 269.47l1-1 1 1-1 1zM118.34 280.22l1-1 1 1-1 1zM117.78 279.76l1-1 1 1-1 1zM117.71 289.5l1-1 1 1-1 1zM117.23 267.6l1-1 1 1-1 1zM118.72 264.09l1-1 1 1-1 1zM117.92 253.95l1-1 1 1-1 1zM117.93 292.6l1-1 1 1-1 1zM118.05 231.3l1-1 1 1-1 1zM118.05 292.3l1-1 1 1-1 1z" fill="none" stroke="#707070" stroke-width="0.5"/><line x1="119.05" y1="230.7" x2="119.05" y2="292.9" stroke="#5a5a5a" stroke-width="0.8"/><path d="M116.83 230.7h4.45M116.83 292.9h4.45" stroke="#333" stroke-width="0.8" fill="none"/><rect x="115" y="233.3" width="8.1" height="14.2" fill="#fff" stroke="#3a3a3a" stroke-width="0.9"/><path d="M117.57 234.68l.9-.9 .9 .9-.9 .9zM115.96 235.86l.9-.9 .9 .9-.9 .9zM118.18 235.05l.9-.9 .9 .9-.9 .9zM117.76 236.65l.9-.9 .9 .9-.9 .9zM116.19 237.42l.9-.9 .9 .9-.9 .9zM116.01 235.3l.9-.9 .9 .9-.9 .9zM117.2 244.16l.9-.9 .9 .9-.9 .9z" fill="none" stroke="#c4c4c4" stroke-width="0.4"/><line x1="115" y1="236.6" x2="123.1" y2="236.6" stroke="#777" stroke-width="0.7"/>
<path d="M126.64 238.83l1.05-1.05 1.05 1.05-1.05 1.05zM130 238.17l1.05-1.05 1.05 1.05-1.05 1.05zM124.44 238.41l1.05-1.05 1.05 1.05-1.05 1.05zM127.48 232.26l1.05-1.05 1.05 1.05-1.05 1.05zM127.37 236.96l1.05-1.05 1.05 1.05-1.05 1.05zM128.03 238.06l1.05-1.05 1.05 1.05-1.05 1.05zM125.19 238.77l1.05-1.05 1.05 1.05-1.05 1.05zM128.3 232.73l1.05-1.05 1.05 1.05-1.05 1.05zM128.08 233.62l1.05-1.05 1.05 1.05-1.05 1.05zM127.3 236.14l1.05-1.05 1.05 1.05-1.05 1.05zM125.25 238.22l1.05-1.05 1.05 1.05-1.05 1.05zM127.1 231.56l1.05-1.05 1.05 1.05-1.05 1.05zM127.13 236.22l1.05-1.05 1.05 1.05-1.05 1.05zM127.83 235.97l1.05-1.05 1.05 1.05-1.05 1.05zM127.66 233.14l1.05-1.05 1.05 1.05-1.05 1.05zM126.87 238.99l1.05-1.05 1.05 1.05-1.05 1.05zM126.76 238.92l1.05-1.05 1.05 1.05-1.05 1.05zM126.97 237.32l1.05-1.05 1.05 1.05-1.05 1.05zM127.15 234.12l1.05-1.05 1.05 1.05-1.05 1.05zM129.02 238.7l1.05-1.05 1.05 1.05-1.05 1.05zM125.85 237.94l1.05-1.05 1.05 1.05-1.05 1.05zM125.74 238.87l1.05-1.05 1.05 1.05-1.05 1.05zM126.28 237.95l1.05-1.05 1.05 1.05-1.05 1.05zM130.57 275.64l1.05-1.05 1.05 1.05-1.05 1.05zM128.58 288.17l1.05-1.05 1.05 1.05-1.05 1.05zM126.25 279.52l1.05-1.05 1.05 1.05-1.05 1.05zM129.91 276.17l1.05-1.05 1.05 1.05-1.05 1.05zM128.44 284.84l1.05-1.05 1.05 1.05-1.05 1.05zM129.73 280.74l1.05-1.05 1.05 1.05-1.05 1.05zM124.75 276.17l1.05-1.05 1.05 1.05-1.05 1.05zM128.64 273.97l1.05-1.05 1.05 1.05-1.05 1.05zM128.43 275.08l1.05-1.05 1.05 1.05-1.05 1.05zM130.52 276.55l1.05-1.05 1.05 1.05-1.05 1.05zM127.22 280.29l1.05-1.05 1.05 1.05-1.05 1.05zM125.72 273.71l1.05-1.05 1.05 1.05-1.05 1.05zM127.91 298l1.05-1.05 1.05 1.05-1.05 1.05zM126.66 274.46l1.05-1.05 1.05 1.05-1.05 1.05zM125.03 276.43l1.05-1.05 1.05 1.05-1.05 1.05zM127.25 273.49l1.05-1.05 1.05 1.05-1.05 1.05zM127.59 287.44l1.05-1.05 1.05 1.05-1.05 1.05zM127.36 288.09l1.05-1.05 1.05 1.05-1.05 1.05zM130.82 274.4l1.05-1.05 1.05 1.05-1.05 1.05zM127.76 296.12l1.05-1.05 1.05 1.05-1.05 1.05zM128.9 275.9l1.05-1.05 1.05 1.05-1.05 1.05zM129.19 278.98l1.05-1.05 1.05 1.05-1.05 1.05zM126.4 285.88l1.05-1.05 1.05 1.05-1.05 1.05zM128.27 283.3l1.05-1.05 1.05 1.05-1.05 1.05zM131.1 273.7l1.05-1.05 1.05 1.05-1.05 1.05zM127.82 296.48l1.05-1.05 1.05 1.05-1.05 1.05zM127.14 279.98l1.05-1.05 1.05 1.05-1.05 1.05zM128.69 283.15l1.05-1.05 1.05 1.05-1.05 1.05zM127.89 298l1.05-1.05 1.05 1.05-1.05 1.05zM128.88 279.92l1.05-1.05 1.05 1.05-1.05 1.05zM129.95 275.93l1.05-1.05 1.05 1.05-1.05 1.05zM126.23 275.4l1.05-1.05 1.05 1.05-1.05 1.05zM130.64 274.82l1.05-1.05 1.05 1.05-1.05 1.05zM129.27 276.52l1.05-1.05 1.05 1.05-1.05 1.05zM127.39 280.65l1.05-1.05 1.05 1.05-1.05 1.05zM129.58 274.93l1.05-1.05 1.05 1.05-1.05 1.05zM126.5 277.94l1.05-1.05 1.05 1.05-1.05 1.05zM128.91 278.04l1.05-1.05 1.05 1.05-1.05 1.05zM128.9 278.3l1.05-1.05 1.05 1.05-1.05 1.05zM128.75 279.54l1.05-1.05 1.05 1.05-1.05 1.05zM128.56 277.51l1.05-1.05 1.05 1.05-1.05 1.05zM129.13 283.76l1.05-1.05 1.05 1.05-1.05 1.05zM127.94 283.62l1.05-1.05 1.05 1.05-1.05 1.05zM127.64 292.12l1.05-1.05 1.05 1.05-1.05 1.05zM129.27 282.97l1.05-1.05 1.05 1.05-1.05 1.05zM126.54 284.41l1.05-1.05 1.05 1.05-1.05 1.05zM125.56 279.33l1.05-1.05 1.05 1.05-1.05 1.05zM128.29 286.55l1.05-1.05 1.05 1.05-1.05 1.05zM128.26 281.24l1.05-1.05 1.05 1.05-1.05 1.05zM124.02 272.77l1.05-1.05 1.05 1.05-1.05 1.05zM126.61 285.87l1.05-1.05 1.05 1.05-1.05 1.05zM127.2 295.57l1.05-1.05 1.05 1.05-1.05 1.05zM128.43 283.9l1.05-1.05 1.05 1.05-1.05 1.05zM130.64 274.91l1.05-1.05 1.05 1.05-1.05 1.05zM126.16 281.3l1.05-1.05 1.05 1.05-1.05 1.05zM127.7 282.66l1.05-1.05 1.05 1.05-1.05 1.05zM127.7 230.2l1.05-1.05 1.05 1.05-1.05 1.05zM127.7 297.7l1.05-1.05 1.05 1.05-1.05 1.05z" fill="#262626" fill-opacity="0.85"/><line x1="128.75" y1="229.6" x2="128.75" y2="298.3" stroke="#3a3a3a" stroke-width="0.85"/><path d="M126.52 229.6h4.45M126.52 298.3h4.45" stroke="#222" stroke-width="0.8" fill="none"/><rect x="124.7" y="239.4" width="8.1" height="33.3" fill="#828282" stroke="#1e1e1e" stroke-width="0.9"/><path d="M129.7 247.71l.9-.9 .9 .9-.9 .9zM126.04 269l.9-.9 .9 .9-.9 .9zM128.7 261.78l.9-.9 .9 .9-.9 .9zM127.48 270.04l.9-.9 .9 .9-.9 .9zM129.44 268.79l.9-.9 .9 .9-.9 .9zM129.94 250.62l.9-.9 .9 .9-.9 .9zM128.2 267.05l.9-.9 .9 .9-.9 .9zM125.5 249.61l.9-.9 .9 .9-.9 .9zM128.2 240.98l.9-.9 .9 .9-.9 .9zM125.66 247.17l.9-.9 .9 .9-.9 .9z" fill="none" stroke="#a9a9a9" stroke-width="0.4"/><line x1="124.7" y1="261.8" x2="132.8" y2="261.8" stroke="#3a3a3a" stroke-width="0.7"/>
<text x="128.8" y="227.95" text-anchor="middle" font-size="11.4" fill="#444">**</text>
<path d="M146.48 238.83l1-1 1 1-1 1zM145.71 240.42l1-1 1 1-1 1zM145.55 238.7l1-1 1 1-1 1zM144.34 240.1l1-1 1 1-1 1zM145.92 241.16l1-1 1 1-1 1zM145.59 234.76l1-1 1 1-1 1zM145.55 238.76l1-1 1 1-1 1zM145.27 236.71l1-1 1 1-1 1zM146.62 239.3l1-1 1 1-1 1zM146.97 240.53l1-1 1 1-1 1zM144.77 265.41l1-1 1 1-1 1zM146.54 256.13l1-1 1 1-1 1zM145.98 278.32l1-1 1 1-1 1zM145.72 278.09l1-1 1 1-1 1zM143.79 252.36l1-1 1 1-1 1zM145.64 260.83l1-1 1 1-1 1zM145.15 253.34l1-1 1 1-1 1zM145.94 274.61l1-1 1 1-1 1zM146.63 253.52l1-1 1 1-1 1zM146.76 258.1l1-1 1 1-1 1zM144.97 261.16l1-1 1 1-1 1zM145.87 267.38l1-1 1 1-1 1zM146.37 260.52l1-1 1 1-1 1zM146.26 255.83l1-1 1 1-1 1zM145.95 257.75l1-1 1 1-1 1zM145.8 290.4l1-1 1 1-1 1zM145 277.11l1-1 1 1-1 1zM145.22 273.11l1-1 1 1-1 1zM144.49 261.5l1-1 1 1-1 1zM144.45 259.87l1-1 1 1-1 1zM145.12 282.89l1-1 1 1-1 1zM145.54 274.02l1-1 1 1-1 1zM143.88 253.34l1-1 1 1-1 1zM144.47 252.02l1-1 1 1-1 1zM146.33 260.98l1-1 1 1-1 1zM145.15 261.95l1-1 1 1-1 1zM146.25 258.37l1-1 1 1-1 1zM145.45 235l1-1 1 1-1 1zM145.45 290.1l1-1 1 1-1 1z" fill="none" stroke="#707070" stroke-width="0.5"/><line x1="146.45" y1="234.4" x2="146.45" y2="290.7" stroke="#5a5a5a" stroke-width="0.8"/><path d="M144.22 234.4h4.45M144.22 290.7h4.45" stroke="#333" stroke-width="0.8" fill="none"/><rect x="142.4" y="241.4" width="8.1" height="10.1" fill="#fff" stroke="#3a3a3a" stroke-width="0.9"/><path d="M145.57 249.69l.9-.9 .9 .9-.9 .9zM143.48 248.98l.9-.9 .9 .9-.9 .9zM146.51 242.67l.9-.9 .9 .9-.9 .9zM145.63 243.04l.9-.9 .9 .9-.9 .9zM144.41 243.27l.9-.9 .9 .9-.9 .9zM145.09 249.42l.9-.9 .9 .9-.9 .9z" fill="none" stroke="#c4c4c4" stroke-width="0.4"/><line x1="142.4" y1="244.7" x2="150.5" y2="244.7" stroke="#777" stroke-width="0.7"/>
<path d="M157.44 244.45l1.05-1.05 1.05 1.05-1.05 1.05zM152.77 245.9l1.05-1.05 1.05 1.05-1.05 1.05zM154.59 241.87l1.05-1.05 1.05 1.05-1.05 1.05zM156.84 244.72l1.05-1.05 1.05 1.05-1.05 1.05zM156.28 243.97l1.05-1.05 1.05 1.05-1.05 1.05zM156.55 246.33l1.05-1.05 1.05 1.05-1.05 1.05zM153.18 246.21l1.05-1.05 1.05 1.05-1.05 1.05zM152.97 246.3l1.05-1.05 1.05 1.05-1.05 1.05zM154.64 241.4l1.05-1.05 1.05 1.05-1.05 1.05zM155.51 234.2l1.05-1.05 1.05 1.05-1.05 1.05zM155.03 241.33l1.05-1.05 1.05 1.05-1.05 1.05zM153.2 242.78l1.05-1.05 1.05 1.05-1.05 1.05zM154.52 237.14l1.05-1.05 1.05 1.05-1.05 1.05zM155.21 245.95l1.05-1.05 1.05 1.05-1.05 1.05zM157.12 244.14l1.05-1.05 1.05 1.05-1.05 1.05zM157.26 242.23l1.05-1.05 1.05 1.05-1.05 1.05zM154.25 239.44l1.05-1.05 1.05 1.05-1.05 1.05zM156.17 242.07l1.05-1.05 1.05 1.05-1.05 1.05zM157.37 241.95l1.05-1.05 1.05 1.05-1.05 1.05zM152.78 244.88l1.05-1.05 1.05 1.05-1.05 1.05zM154.05 239.18l1.05-1.05 1.05 1.05-1.05 1.05zM156.73 245.85l1.05-1.05 1.05 1.05-1.05 1.05zM156.33 242.7l1.05-1.05 1.05 1.05-1.05 1.05zM153.11 242.06l1.05-1.05 1.05 1.05-1.05 1.05zM156.97 245.89l1.05-1.05 1.05 1.05-1.05 1.05zM154.64 237.01l1.05-1.05 1.05 1.05-1.05 1.05zM154.7 235.82l1.05-1.05 1.05 1.05-1.05 1.05zM151.74 246.33l1.05-1.05 1.05 1.05-1.05 1.05zM158.16 246.19l1.05-1.05 1.05 1.05-1.05 1.05zM157.02 241.76l1.05-1.05 1.05 1.05-1.05 1.05zM155.4 233.61l1.05-1.05 1.05 1.05-1.05 1.05zM156.14 236.9l1.05-1.05 1.05 1.05-1.05 1.05zM155.19 244.84l1.05-1.05 1.05 1.05-1.05 1.05zM154.77 241.74l1.05-1.05 1.05 1.05-1.05 1.05zM154.01 243.98l1.05-1.05 1.05 1.05-1.05 1.05zM155.33 277l1.05-1.05 1.05 1.05-1.05 1.05zM155.51 276.81l1.05-1.05 1.05 1.05-1.05 1.05zM156.91 277.75l1.05-1.05 1.05 1.05-1.05 1.05zM153.53 276.4l1.05-1.05 1.05 1.05-1.05 1.05zM154.97 283.22l1.05-1.05 1.05 1.05-1.05 1.05zM154.9 280.47l1.05-1.05 1.05 1.05-1.05 1.05zM156.73 277.45l1.05-1.05 1.05 1.05-1.05 1.05zM155.09 279.87l1.05-1.05 1.05 1.05-1.05 1.05zM157.01 276.8l1.05-1.05 1.05 1.05-1.05 1.05zM153.86 279.19l1.05-1.05 1.05 1.05-1.05 1.05zM156.49 276.74l1.05-1.05 1.05 1.05-1.05 1.05zM155.98 281.5l1.05-1.05 1.05 1.05-1.05 1.05zM152.99 279.16l1.05-1.05 1.05 1.05-1.05 1.05zM155.74 283.43l1.05-1.05 1.05 1.05-1.05 1.05zM154.96 287.71l1.05-1.05 1.05 1.05-1.05 1.05zM152.71 276.91l1.05-1.05 1.05 1.05-1.05 1.05zM155.28 286.68l1.05-1.05 1.05 1.05-1.05 1.05zM156.86 276.02l1.05-1.05 1.05 1.05-1.05 1.05zM155.73 288.39l1.05-1.05 1.05 1.05-1.05 1.05zM154.97 280.31l1.05-1.05 1.05 1.05-1.05 1.05zM153.35 278.09l1.05-1.05 1.05 1.05-1.05 1.05zM158.48 275.84l1.05-1.05 1.05 1.05-1.05 1.05zM156.74 280.47l1.05-1.05 1.05 1.05-1.05 1.05zM154.29 281.94l1.05-1.05 1.05 1.05-1.05 1.05zM153.89 281.13l1.05-1.05 1.05 1.05-1.05 1.05zM154.97 282.12l1.05-1.05 1.05 1.05-1.05 1.05zM154.43 275.43l1.05-1.05 1.05 1.05-1.05 1.05zM151.8 276.27l1.05-1.05 1.05 1.05-1.05 1.05zM156.68 275.67l1.05-1.05 1.05 1.05-1.05 1.05zM153.78 279.25l1.05-1.05 1.05 1.05-1.05 1.05zM154.12 278.09l1.05-1.05 1.05 1.05-1.05 1.05zM156.72 280.63l1.05-1.05 1.05 1.05-1.05 1.05zM155.74 278.97l1.05-1.05 1.05 1.05-1.05 1.05zM153.99 275.91l1.05-1.05 1.05 1.05-1.05 1.05zM156.01 276.45l1.05-1.05 1.05 1.05-1.05 1.05zM154.14 277.53l1.05-1.05 1.05 1.05-1.05 1.05zM155.3 232.2l1.05-1.05 1.05 1.05-1.05 1.05zM155.3 290.1l1.05-1.05 1.05 1.05-1.05 1.05z" fill="#262626" fill-opacity="0.85"/><line x1="156.35" y1="231.6" x2="156.35" y2="290.7" stroke="#3a3a3a" stroke-width="0.85"/><path d="M154.13 231.6h4.45M154.13 290.7h4.45" stroke="#222" stroke-width="0.8" fill="none"/><rect x="152.3" y="246.5" width="8.1" height="28.9" fill="#828282" stroke="#1e1e1e" stroke-width="0.9"/><path d="M158.06 250.36l.9-.9 .9 .9-.9 .9zM153.79 273.98l.9-.9 .9 .9-.9 .9zM152.46 259.81l.9-.9 .9 .9-.9 .9zM155.31 273.52l.9-.9 .9 .9-.9 .9zM154.67 258.22l.9-.9 .9 .9-.9 .9zM155.76 272.86l.9-.9 .9 .9-.9 .9zM152.89 264.76l.9-.9 .9 .9-.9 .9zM152.8 259.35l.9-.9 .9 .9-.9 .9zM152.22 254.62l.9-.9 .9 .9-.9 .9zM155.5 251.9l.9-.9 .9 .9-.9 .9z" fill="none" stroke="#a9a9a9" stroke-width="0.4"/><line x1="152.3" y1="265.5" x2="160.4" y2="265.5" stroke="#3a3a3a" stroke-width="0.7"/>
<text x="157.3" y="229.55" text-anchor="middle" font-size="11.4" fill="#444">**</text>
<path d="M173.62 250.68l1-1 1 1-1 1zM172.82 240.2l1-1 1 1-1 1zM172.82 246.89l1-1 1 1-1 1zM174.13 250.81l1-1 1 1-1 1zM173.23 250.97l1-1 1 1-1 1zM172.06 249.11l1-1 1 1-1 1zM172.19 248.6l1-1 1 1-1 1zM172.76 246.36l1-1 1 1-1 1zM172.79 251.72l1-1 1 1-1 1zM172.83 248.72l1-1 1 1-1 1zM173.51 260.74l1-1 1 1-1 1zM172.86 262.01l1-1 1 1-1 1zM174.19 260.02l1-1 1 1-1 1zM173.63 261.22l1-1 1 1-1 1zM173.63 260.33l1-1 1 1-1 1zM173 262.28l1-1 1 1-1 1zM172.66 263.38l1-1 1 1-1 1zM172.76 263.35l1-1 1 1-1 1zM173.41 260.34l1-1 1 1-1 1zM173.19 260.91l1-1 1 1-1 1zM173.05 240.5l1-1 1 1-1 1zM173.05 264.4l1-1 1 1-1 1z" fill="none" stroke="#707070" stroke-width="0.5"/><line x1="174.05" y1="239.9" x2="174.05" y2="265" stroke="#5a5a5a" stroke-width="0.8"/><path d="M171.83 239.9h4.45M171.83 265h4.45" stroke="#333" stroke-width="0.8" fill="none"/><rect x="170" y="253.7" width="8.1" height="5.9" fill="#fff" stroke="#3a3a3a" stroke-width="0.9"/><path d="M173.91 254.57l.9-.9 .9 .9-.9 .9zM173.91 255.21l.9-.9 .9 .9-.9 .9zM171.35 255.97l.9-.9 .9 .9-.9 .9zM172.27 257.18l.9-.9 .9 .9-.9 .9z" fill="none" stroke="#c4c4c4" stroke-width="0.4"/><line x1="170" y1="256.7" x2="178.1" y2="256.7" stroke="#777" stroke-width="0.7"/>
<path d="M185.05 244.75l1.05-1.05 1.05 1.05-1.05 1.05zM181.79 240.49l1.05-1.05 1.05 1.05-1.05 1.05zM183.39 240.63l1.05-1.05 1.05 1.05-1.05 1.05zM181.09 245.26l1.05-1.05 1.05 1.05-1.05 1.05zM184.33 244.87l1.05-1.05 1.05 1.05-1.05 1.05zM182.37 241.11l1.05-1.05 1.05 1.05-1.05 1.05zM182.55 240.17l1.05-1.05 1.05 1.05-1.05 1.05zM184.61 244.63l1.05-1.05 1.05 1.05-1.05 1.05zM179.19 245.96l1.05-1.05 1.05 1.05-1.05 1.05zM183.3 245.59l1.05-1.05 1.05 1.05-1.05 1.05zM180.06 246.1l1.05-1.05 1.05 1.05-1.05 1.05zM185.06 245.46l1.05-1.05 1.05 1.05-1.05 1.05zM182.44 237.6l1.05-1.05 1.05 1.05-1.05 1.05zM184.42 243.92l1.05-1.05 1.05 1.05-1.05 1.05zM182.1 239.76l1.05-1.05 1.05 1.05-1.05 1.05zM183.34 240.8l1.05-1.05 1.05 1.05-1.05 1.05zM181.34 242.6l1.05-1.05 1.05 1.05-1.05 1.05zM182.36 243.17l1.05-1.05 1.05 1.05-1.05 1.05zM181.59 242.31l1.05-1.05 1.05 1.05-1.05 1.05zM183.6 243.91l1.05-1.05 1.05 1.05-1.05 1.05zM183.44 244.22l1.05-1.05 1.05 1.05-1.05 1.05zM185.83 254.5l1.05-1.05 1.05 1.05-1.05 1.05zM182.55 256.56l1.05-1.05 1.05 1.05-1.05 1.05zM183.22 259.97l1.05-1.05 1.05 1.05-1.05 1.05zM181.4 258.63l1.05-1.05 1.05 1.05-1.05 1.05zM184.07 255.09l1.05-1.05 1.05 1.05-1.05 1.05zM180.96 257.7l1.05-1.05 1.05 1.05-1.05 1.05zM182.52 260.09l1.05-1.05 1.05 1.05-1.05 1.05zM183.69 256.61l1.05-1.05 1.05 1.05-1.05 1.05zM184.2 256.51l1.05-1.05 1.05 1.05-1.05 1.05zM182.38 254.92l1.05-1.05 1.05 1.05-1.05 1.05zM182.77 259.09l1.05-1.05 1.05 1.05-1.05 1.05zM184.75 254.3l1.05-1.05 1.05 1.05-1.05 1.05zM185.04 254.18l1.05-1.05 1.05 1.05-1.05 1.05zM180.94 258.11l1.05-1.05 1.05 1.05-1.05 1.05zM184.09 257.81l1.05-1.05 1.05 1.05-1.05 1.05zM183.04 262.71l1.05-1.05 1.05 1.05-1.05 1.05zM183.36 257.07l1.05-1.05 1.05 1.05-1.05 1.05zM180.33 256.5l1.05-1.05 1.05 1.05-1.05 1.05zM180.89 256.12l1.05-1.05 1.05 1.05-1.05 1.05zM181.26 259.03l1.05-1.05 1.05 1.05-1.05 1.05zM183.09 254.22l1.05-1.05 1.05 1.05-1.05 1.05zM182.26 258.46l1.05-1.05 1.05 1.05-1.05 1.05zM184.87 254.79l1.05-1.05 1.05 1.05-1.05 1.05zM179.88 256.24l1.05-1.05 1.05 1.05-1.05 1.05zM182.59 261.34l1.05-1.05 1.05 1.05-1.05 1.05zM184.39 255.11l1.05-1.05 1.05 1.05-1.05 1.05zM183.04 254.47l1.05-1.05 1.05 1.05-1.05 1.05zM181.82 256.63l1.05-1.05 1.05 1.05-1.05 1.05zM183.21 258.78l1.05-1.05 1.05 1.05-1.05 1.05zM182.5 237.9l1.05-1.05 1.05 1.05-1.05 1.05zM182.5 266.2l1.05-1.05 1.05 1.05-1.05 1.05z" fill="#262626" fill-opacity="0.85"/><line x1="183.55" y1="237.3" x2="183.55" y2="266.8" stroke="#3a3a3a" stroke-width="0.85"/><path d="M181.38 237.3h4.35M181.38 266.8h4.35" stroke="#222" stroke-width="0.8" fill="none"/><rect x="179.6" y="246.5" width="7.9" height="7.6" fill="#828282" stroke="#1e1e1e" stroke-width="0.9"/><path d="M184.12 248.26l.9-.9 .9 .9-.9 .9zM181.06 253l.9-.9 .9 .9-.9 .9zM180.04 247.69l.9-.9 .9 .9-.9 .9zM181.84 247.88l.9-.9 .9 .9-.9 .9zM180.21 251.85l.9-.9 .9 .9-.9 .9z" fill="none" stroke="#a9a9a9" stroke-width="0.4"/><line x1="179.6" y1="250.8" x2="187.5" y2="250.8" stroke="#3a3a3a" stroke-width="0.7"/>
<text x="184.7" y="234.35" text-anchor="middle" font-size="11.4" fill="#444">**</text>
<path d="M199.19 235.63l1-1 1 1-1 1zM200.75 233.56l1-1 1 1-1 1zM198.53 236.55l1-1 1 1-1 1zM201.15 234.99l1-1 1 1-1 1zM201.86 236.44l1-1 1 1-1 1zM200.12 234.88l1-1 1 1-1 1zM200.23 233.36l1-1 1 1-1 1zM199.94 236.21l1-1 1 1-1 1zM200.59 235.01l1-1 1 1-1 1zM200.39 234.8l1-1 1 1-1 1zM199.53 264.16l1-1 1 1-1 1zM201.36 253.79l1-1 1 1-1 1zM200.72 247.92l1-1 1 1-1 1zM200.22 274.31l1-1 1 1-1 1zM200.97 251.86l1-1 1 1-1 1zM200.54 260.87l1-1 1 1-1 1zM199.62 268.42l1-1 1 1-1 1zM199.76 252.95l1-1 1 1-1 1zM200.65 258.2l1-1 1 1-1 1zM200.41 249.42l1-1 1 1-1 1zM201 251.18l1-1 1 1-1 1zM201.46 254.86l1-1 1 1-1 1zM199.1 248.89l1-1 1 1-1 1zM200.25 255.93l1-1 1 1-1 1zM199.71 255.28l1-1 1 1-1 1zM200.11 259.68l1-1 1 1-1 1zM201.54 255.03l1-1 1 1-1 1zM199.99 257.71l1-1 1 1-1 1zM199.24 256.37l1-1 1 1-1 1zM200.15 260.88l1-1 1 1-1 1zM200.08 253.96l1-1 1 1-1 1zM199.35 256.28l1-1 1 1-1 1zM200.25 233.3l1-1 1 1-1 1zM200.25 278.7l1-1 1 1-1 1z" fill="none" stroke="#707070" stroke-width="0.5"/><line x1="201.25" y1="232.7" x2="201.25" y2="279.3" stroke="#5a5a5a" stroke-width="0.8"/><path d="M199.03 232.7h4.45M199.03 279.3h4.45" stroke="#333" stroke-width="0.8" fill="none"/><rect x="197.2" y="236.6" width="8.1" height="10.9" fill="#fff" stroke="#3a3a3a" stroke-width="0.9"/><path d="M198.65 242.14l.9-.9 .9 .9-.9 .9zM197.33 239.33l.9-.9 .9 .9-.9 .9zM201.71 245.85l.9-.9 .9 .9-.9 .9zM197.82 244.24l.9-.9 .9 .9-.9 .9zM197.93 244.81l.9-.9 .9 .9-.9 .9zM198.09 237.68l.9-.9 .9 .9-.9 .9z" fill="none" stroke="#c4c4c4" stroke-width="0.4"/><line x1="197.2" y1="239.4" x2="205.3" y2="239.4" stroke="#777" stroke-width="0.7"/>
<path d="M207.96 239.49l1.05-1.05 1.05 1.05-1.05 1.05zM207.4 239.85l1.05-1.05 1.05 1.05-1.05 1.05zM209.05 237.13l1.05-1.05 1.05 1.05-1.05 1.05zM211.52 239.95l1.05-1.05 1.05 1.05-1.05 1.05zM212.77 239.74l1.05-1.05 1.05 1.05-1.05 1.05zM208.68 236.83l1.05-1.05 1.05 1.05-1.05 1.05zM210.62 237.86l1.05-1.05 1.05 1.05-1.05 1.05zM209.83 239.99l1.05-1.05 1.05 1.05-1.05 1.05zM209.54 238.61l1.05-1.05 1.05 1.05-1.05 1.05zM208.69 238.76l1.05-1.05 1.05 1.05-1.05 1.05zM207.35 239.38l1.05-1.05 1.05 1.05-1.05 1.05zM209.13 236.53l1.05-1.05 1.05 1.05-1.05 1.05zM210.71 237.78l1.05-1.05 1.05 1.05-1.05 1.05zM209.21 240.16l1.05-1.05 1.05 1.05-1.05 1.05zM211.98 238.22l1.05-1.05 1.05 1.05-1.05 1.05zM210.3 233l1.05-1.05 1.05 1.05-1.05 1.05zM208.17 239.15l1.05-1.05 1.05 1.05-1.05 1.05zM210.41 279.37l1.05-1.05 1.05 1.05-1.05 1.05zM208.29 274.85l1.05-1.05 1.05 1.05-1.05 1.05zM208.54 272.1l1.05-1.05 1.05 1.05-1.05 1.05zM211.17 271.06l1.05-1.05 1.05 1.05-1.05 1.05zM210.53 273.91l1.05-1.05 1.05 1.05-1.05 1.05zM210.47 275.57l1.05-1.05 1.05 1.05-1.05 1.05zM207.77 270.35l1.05-1.05 1.05 1.05-1.05 1.05zM209.59 275.42l1.05-1.05 1.05 1.05-1.05 1.05zM210.7 271.75l1.05-1.05 1.05 1.05-1.05 1.05zM210.06 276.08l1.05-1.05 1.05 1.05-1.05 1.05zM211.97 273.41l1.05-1.05 1.05 1.05-1.05 1.05zM209.82 284.5l1.05-1.05 1.05 1.05-1.05 1.05zM211 273.11l1.05-1.05 1.05 1.05-1.05 1.05zM210.67 279.14l1.05-1.05 1.05 1.05-1.05 1.05zM209.6 282.94l1.05-1.05 1.05 1.05-1.05 1.05zM209.33 276.72l1.05-1.05 1.05 1.05-1.05 1.05zM211.76 271.91l1.05-1.05 1.05 1.05-1.05 1.05zM209.01 277.31l1.05-1.05 1.05 1.05-1.05 1.05zM208.97 272.11l1.05-1.05 1.05 1.05-1.05 1.05zM207.61 270.63l1.05-1.05 1.05 1.05-1.05 1.05zM208.76 270.78l1.05-1.05 1.05 1.05-1.05 1.05zM208.88 274.06l1.05-1.05 1.05 1.05-1.05 1.05zM208.68 277.65l1.05-1.05 1.05 1.05-1.05 1.05zM212.41 269.9l1.05-1.05 1.05 1.05-1.05 1.05zM206.3 269.87l1.05-1.05 1.05 1.05-1.05 1.05zM208.65 272.92l1.05-1.05 1.05 1.05-1.05 1.05zM210.15 274.9l1.05-1.05 1.05 1.05-1.05 1.05zM208.69 273.37l1.05-1.05 1.05 1.05-1.05 1.05zM212.06 273.49l1.05-1.05 1.05 1.05-1.05 1.05zM211.93 271.32l1.05-1.05 1.05 1.05-1.05 1.05zM211.3 270.18l1.05-1.05 1.05 1.05-1.05 1.05zM209.93 280.11l1.05-1.05 1.05 1.05-1.05 1.05zM210.07 271.78l1.05-1.05 1.05 1.05-1.05 1.05zM211.04 271.66l1.05-1.05 1.05 1.05-1.05 1.05zM211.57 271.06l1.05-1.05 1.05 1.05-1.05 1.05zM209.85 233.3l1.05-1.05 1.05 1.05-1.05 1.05zM209.85 284.2l1.05-1.05 1.05 1.05-1.05 1.05z" fill="#262626" fill-opacity="0.85"/><line x1="210.9" y1="232.7" x2="210.9" y2="284.8" stroke="#3a3a3a" stroke-width="0.85"/><path d="M208.8 232.7h4.2M208.8 284.8h4.2" stroke="#222" stroke-width="0.8" fill="none"/><rect x="207.1" y="240.3" width="7.6" height="29.1" fill="#828282" stroke="#1e1e1e" stroke-width="0.9"/><path d="M210.41 251.43l.9-.9 .9 .9-.9 .9zM209.22 264.08l.9-.9 .9 .9-.9 .9zM210.89 245.11l.9-.9 .9 .9-.9 .9zM211.69 256.93l.9-.9 .9 .9-.9 .9zM207.63 241.44l.9-.9 .9 .9-.9 .9zM208.47 264.03l.9-.9 .9 .9-.9 .9zM209.96 266.63l.9-.9 .9 .9-.9 .9zM213.02 266.57l.9-.9 .9 .9-.9 .9zM212.87 266.41l.9-.9 .9 .9-.9 .9zM209.71 244.01l.9-.9 .9 .9-.9 .9z" fill="none" stroke="#a9a9a9" stroke-width="0.4"/><line x1="207.1" y1="260.2" x2="214.7" y2="260.2" stroke="#3a3a3a" stroke-width="0.7"/>
<text x="212.8" y="228.45" text-anchor="middle" font-size="11.4" fill="#444">**</text>
<path d="M228.81 252.51l1-1 1 1-1 1zM228.92 254.87l1-1 1 1-1 1zM227.25 249.69l1-1 1 1-1 1zM228.03 252.56l1-1 1 1-1 1zM227.91 252.16l1-1 1 1-1 1zM227.17 253.3l1-1 1 1-1 1zM226.14 255.06l1-1 1 1-1 1zM228.02 250.77l1-1 1 1-1 1zM227.73 247.33l1-1 1 1-1 1zM227.22 255.08l1-1 1 1-1 1zM227.98 279.77l1-1 1 1-1 1zM227.63 280.17l1-1 1 1-1 1zM226.28 274.73l1-1 1 1-1 1zM227.75 295.51l1-1 1 1-1 1zM228.58 285.82l1-1 1 1-1 1zM229 274l1-1 1 1-1 1zM228.74 280.58l1-1 1 1-1 1zM227.45 298.21l1-1 1 1-1 1zM227.2 283.5l1-1 1 1-1 1zM227.41 290.27l1-1 1 1-1 1zM227.7 299.16l1-1 1 1-1 1zM228.43 288.83l1-1 1 1-1 1zM227.55 282.12l1-1 1 1-1 1zM228.18 293.41l1-1 1 1-1 1zM227.9 286.32l1-1 1 1-1 1zM228.18 292.79l1-1 1 1-1 1zM226.45 279.68l1-1 1 1-1 1zM228.19 273.58l1-1 1 1-1 1zM227.32 279.49l1-1 1 1-1 1zM227.65 246.4l1-1 1 1-1 1zM227.65 300.6l1-1 1 1-1 1z" fill="none" stroke="#707070" stroke-width="0.5"/><line x1="228.65" y1="245.8" x2="228.65" y2="301.2" stroke="#5a5a5a" stroke-width="0.8"/><path d="M226.42 245.8h4.45M226.42 301.2h4.45" stroke="#333" stroke-width="0.8" fill="none"/><rect x="224.6" y="255.2" width="8.1" height="17.5" fill="#fff" stroke="#3a3a3a" stroke-width="0.9"/><path d="M227.94 266.08l.9-.9 .9 .9-.9 .9zM229.56 264.18l.9-.9 .9 .9-.9 .9zM227.85 260.96l.9-.9 .9 .9-.9 .9zM228.13 256.79l.9-.9 .9 .9-.9 .9zM224.63 270.06l.9-.9 .9 .9-.9 .9zM229.96 258.12l.9-.9 .9 .9-.9 .9zM230.52 256.89l.9-.9 .9 .9-.9 .9zM226.48 257.15l.9-.9 .9 .9-.9 .9z" fill="none" stroke="#c4c4c4" stroke-width="0.4"/><line x1="224.6" y1="262.2" x2="232.7" y2="262.2" stroke="#777" stroke-width="0.7"/>
<path d="M237.91 261.04l1.05-1.05 1.05 1.05-1.05 1.05zM235.07 261.25l1.05-1.05 1.05 1.05-1.05 1.05zM237.05 253.45l1.05-1.05 1.05 1.05-1.05 1.05zM237.06 253.57l1.05-1.05 1.05 1.05-1.05 1.05zM238.96 258.96l1.05-1.05 1.05 1.05-1.05 1.05zM239.17 261.34l1.05-1.05 1.05 1.05-1.05 1.05zM238.04 255.49l1.05-1.05 1.05 1.05-1.05 1.05zM238.78 258.83l1.05-1.05 1.05 1.05-1.05 1.05zM238.18 258.98l1.05-1.05 1.05 1.05-1.05 1.05zM236.21 260.1l1.05-1.05 1.05 1.05-1.05 1.05zM237.59 259.19l1.05-1.05 1.05 1.05-1.05 1.05zM236.44 258.33l1.05-1.05 1.05 1.05-1.05 1.05zM237.93 257.46l1.05-1.05 1.05 1.05-1.05 1.05zM236.08 261.48l1.05-1.05 1.05 1.05-1.05 1.05zM236.76 257.28l1.05-1.05 1.05 1.05-1.05 1.05zM238.34 257.31l1.05-1.05 1.05 1.05-1.05 1.05zM239.45 260.18l1.05-1.05 1.05 1.05-1.05 1.05zM234.89 260.65l1.05-1.05 1.05 1.05-1.05 1.05zM238.53 261.4l1.05-1.05 1.05 1.05-1.05 1.05zM240.32 262.31l1.05-1.05 1.05 1.05-1.05 1.05zM237.23 257.9l1.05-1.05 1.05 1.05-1.05 1.05zM239.26 261.17l1.05-1.05 1.05 1.05-1.05 1.05zM239.02 260.49l1.05-1.05 1.05 1.05-1.05 1.05zM236.56 261.9l1.05-1.05 1.05 1.05-1.05 1.05zM236.06 260.89l1.05-1.05 1.05 1.05-1.05 1.05zM235.84 295.69l1.05-1.05 1.05 1.05-1.05 1.05zM237.36 299.77l1.05-1.05 1.05 1.05-1.05 1.05zM239.5 296.99l1.05-1.05 1.05 1.05-1.05 1.05zM237.61 298.45l1.05-1.05 1.05 1.05-1.05 1.05zM236.23 297.09l1.05-1.05 1.05 1.05-1.05 1.05zM236.41 298.65l1.05-1.05 1.05 1.05-1.05 1.05zM241.25 295.34l1.05-1.05 1.05 1.05-1.05 1.05zM238.78 298.07l1.05-1.05 1.05 1.05-1.05 1.05zM235.96 297.83l1.05-1.05 1.05 1.05-1.05 1.05zM238.59 295.57l1.05-1.05 1.05 1.05-1.05 1.05zM237.43 299.73l1.05-1.05 1.05 1.05-1.05 1.05zM239.22 297.38l1.05-1.05 1.05 1.05-1.05 1.05zM237.38 301.78l1.05-1.05 1.05 1.05-1.05 1.05zM239.98 296.27l1.05-1.05 1.05 1.05-1.05 1.05zM239.84 296.03l1.05-1.05 1.05 1.05-1.05 1.05zM239.86 295.74l1.05-1.05 1.05 1.05-1.05 1.05zM237.4 252.1l1.05-1.05 1.05 1.05-1.05 1.05zM237.4 301.7l1.05-1.05 1.05 1.05-1.05 1.05z" fill="#262626" fill-opacity="0.85"/><line x1="238.45" y1="251.5" x2="238.45" y2="302.3" stroke="#3a3a3a" stroke-width="0.85"/><path d="M236.22 251.5h4.45M236.22 302.3h4.45" stroke="#222" stroke-width="0.8" fill="none"/><rect x="234.4" y="262.4" width="8.1" height="32.9" fill="#828282" stroke="#1e1e1e" stroke-width="0.9"/><path d="M239.68 263.29l.9-.9 .9 .9-.9 .9zM235.58 288.53l.9-.9 .9 .9-.9 .9zM234.89 293.3l.9-.9 .9 .9-.9 .9zM238.05 268.5l.9-.9 .9 .9-.9 .9zM238.41 290.17l.9-.9 .9 .9-.9 .9zM238.09 271.15l.9-.9 .9 .9-.9 .9zM236.99 291.5l.9-.9 .9 .9-.9 .9zM238.14 271.28l.9-.9 .9 .9-.9 .9zM235.93 278.3l.9-.9 .9 .9-.9 .9zM237.96 282.22l.9-.9 .9 .9-.9 .9z" fill="none" stroke="#a9a9a9" stroke-width="0.4"/><line x1="234.4" y1="284.1" x2="242.5" y2="284.1" stroke="#3a3a3a" stroke-width="0.7"/>
<text x="239.3" y="247.45" text-anchor="middle" font-size="11.4" fill="#444">**</text>
<path d="M253.86 264.93l1-1 1 1-1 1zM256.06 264.84l1-1 1 1-1 1zM255.64 264.22l1-1 1 1-1 1zM253.97 264.55l1-1 1 1-1 1zM255.62 265.8l1-1 1 1-1 1zM255.97 264.34l1-1 1 1-1 1zM253.97 264.72l1-1 1 1-1 1zM254.68 262.99l1-1 1 1-1 1zM255.87 265.84l1-1 1 1-1 1zM254.91 264.83l1-1 1 1-1 1zM253.87 275.78l1-1 1 1-1 1zM255.75 279.24l1-1 1 1-1 1zM255.84 283.92l1-1 1 1-1 1zM254.91 294.89l1-1 1 1-1 1zM256.44 281.22l1-1 1 1-1 1zM255.28 291.31l1-1 1 1-1 1zM256.19 278.63l1-1 1 1-1 1zM254.88 280.76l1-1 1 1-1 1zM255.27 298.69l1-1 1 1-1 1zM254.33 277.03l1-1 1 1-1 1zM255.65 285.92l1-1 1 1-1 1zM255.51 299.66l1-1 1 1-1 1zM256.03 288.41l1-1 1 1-1 1zM255.21 277.06l1-1 1 1-1 1zM256.01 277.02l1-1 1 1-1 1zM255.21 279.35l1-1 1 1-1 1zM254.21 290.04l1-1 1 1-1 1zM254.97 282.03l1-1 1 1-1 1zM254.6 289.57l1-1 1 1-1 1zM255.19 298.14l1-1 1 1-1 1zM255.05 261.9l1-1 1 1-1 1zM255.05 304.5l1-1 1 1-1 1z" fill="none" stroke="#707070" stroke-width="0.5"/><line x1="256.05" y1="261.3" x2="256.05" y2="305.1" stroke="#5a5a5a" stroke-width="0.8"/><path d="M253.83 261.3h4.45M253.83 305.1h4.45" stroke="#333" stroke-width="0.8" fill="none"/><rect x="252" y="266.2" width="8.1" height="9.4" fill="#fff" stroke="#3a3a3a" stroke-width="0.9"/><path d="M255.38 274.24l.9-.9 .9 .9-.9 .9zM253.19 273.8l.9-.9 .9 .9-.9 .9zM256.64 268.58l.9-.9 .9 .9-.9 .9zM256.65 268.09l.9-.9 .9 .9-.9 .9zM253.54 274.34l.9-.9 .9 .9-.9 .9zM257.64 267.75l.9-.9 .9 .9-.9 .9z" fill="none" stroke="#c4c4c4" stroke-width="0.4"/><line x1="252" y1="269.4" x2="260.1" y2="269.4" stroke="#777" stroke-width="0.7"/>
<path d="M265.82 268.99l1.05-1.05 1.05 1.05-1.05 1.05zM267.1 269.77l1.05-1.05 1.05 1.05-1.05 1.05zM263.41 271.48l1.05-1.05 1.05 1.05-1.05 1.05zM262.68 270.86l1.05-1.05 1.05 1.05-1.05 1.05zM267.09 271.15l1.05-1.05 1.05 1.05-1.05 1.05zM261.16 271.26l1.05-1.05 1.05 1.05-1.05 1.05zM263.38 269.09l1.05-1.05 1.05 1.05-1.05 1.05zM262.61 270.73l1.05-1.05 1.05 1.05-1.05 1.05zM265.2 270.64l1.05-1.05 1.05 1.05-1.05 1.05zM266.42 270.53l1.05-1.05 1.05 1.05-1.05 1.05zM264.06 268.64l1.05-1.05 1.05 1.05-1.05 1.05zM264.78 264.32l1.05-1.05 1.05 1.05-1.05 1.05zM267.33 270.94l1.05-1.05 1.05 1.05-1.05 1.05zM262.26 270.39l1.05-1.05 1.05 1.05-1.05 1.05zM264.19 263.44l1.05-1.05 1.05 1.05-1.05 1.05zM267.18 271.36l1.05-1.05 1.05 1.05-1.05 1.05zM264.69 268.42l1.05-1.05 1.05 1.05-1.05 1.05zM264.25 270.32l1.05-1.05 1.05 1.05-1.05 1.05zM265.85 269.87l1.05-1.05 1.05 1.05-1.05 1.05zM263.86 268.22l1.05-1.05 1.05 1.05-1.05 1.05zM262.98 269.73l1.05-1.05 1.05 1.05-1.05 1.05zM265.5 289.83l1.05-1.05 1.05 1.05-1.05 1.05zM262.96 290.25l1.05-1.05 1.05 1.05-1.05 1.05zM265.95 294.99l1.05-1.05 1.05 1.05-1.05 1.05zM264.24 292.31l1.05-1.05 1.05 1.05-1.05 1.05zM266.52 293.25l1.05-1.05 1.05 1.05-1.05 1.05zM264.94 291.26l1.05-1.05 1.05 1.05-1.05 1.05zM266.88 290.12l1.05-1.05 1.05 1.05-1.05 1.05zM264.84 298.84l1.05-1.05 1.05 1.05-1.05 1.05zM266.45 290.23l1.05-1.05 1.05 1.05-1.05 1.05zM263.37 288.96l1.05-1.05 1.05 1.05-1.05 1.05zM263.11 293.95l1.05-1.05 1.05 1.05-1.05 1.05zM265.78 293.81l1.05-1.05 1.05 1.05-1.05 1.05zM266.2 291.93l1.05-1.05 1.05 1.05-1.05 1.05zM264.63 289.34l1.05-1.05 1.05 1.05-1.05 1.05zM267.4 288.74l1.05-1.05 1.05 1.05-1.05 1.05zM265.47 297.82l1.05-1.05 1.05 1.05-1.05 1.05zM266.06 289.64l1.05-1.05 1.05 1.05-1.05 1.05zM265.11 293.24l1.05-1.05 1.05 1.05-1.05 1.05zM265.14 292.19l1.05-1.05 1.05 1.05-1.05 1.05zM262.56 292.3l1.05-1.05 1.05 1.05-1.05 1.05zM262.59 292.23l1.05-1.05 1.05 1.05-1.05 1.05zM267.68 290.41l1.05-1.05 1.05 1.05-1.05 1.05zM267.58 289.04l1.05-1.05 1.05 1.05-1.05 1.05zM265.19 290.61l1.05-1.05 1.05 1.05-1.05 1.05zM263.61 296.5l1.05-1.05 1.05 1.05-1.05 1.05zM263 293.34l1.05-1.05 1.05 1.05-1.05 1.05zM267.61 289.94l1.05-1.05 1.05 1.05-1.05 1.05zM264.02 298.6l1.05-1.05 1.05 1.05-1.05 1.05zM263.25 292.99l1.05-1.05 1.05 1.05-1.05 1.05zM266.98 288.7l1.05-1.05 1.05 1.05-1.05 1.05zM263.48 291.37l1.05-1.05 1.05 1.05-1.05 1.05zM264.49 291.33l1.05-1.05 1.05 1.05-1.05 1.05zM264.7 263l1.05-1.05 1.05 1.05-1.05 1.05zM264.7 301.7l1.05-1.05 1.05 1.05-1.05 1.05z" fill="#262626" fill-opacity="0.85"/><line x1="265.75" y1="262.4" x2="265.75" y2="302.3" stroke="#3a3a3a" stroke-width="0.85"/><path d="M263.57 262.4h4.35M263.57 302.3h4.35" stroke="#222" stroke-width="0.8" fill="none"/><rect x="261.8" y="271.6" width="7.9" height="16.9" fill="#828282" stroke="#1e1e1e" stroke-width="0.9"/><path d="M264.93 275.83l.9-.9 .9 .9-.9 .9zM261.79 275.24l.9-.9 .9 .9-.9 .9zM261.91 275.15l.9-.9 .9 .9-.9 .9zM267.24 275.12l.9-.9 .9 .9-.9 .9zM266.3 287.56l.9-.9 .9 .9-.9 .9zM265.45 275.55l.9-.9 .9 .9-.9 .9zM266.77 276.26l.9-.9 .9 .9-.9 .9zM263.02 278.16l.9-.9 .9 .9-.9 .9z" fill="none" stroke="#a9a9a9" stroke-width="0.4"/><line x1="261.8" y1="281" x2="269.7" y2="281" stroke="#3a3a3a" stroke-width="0.7"/>
<text x="266.6" y="259.05" text-anchor="middle" font-size="11.4" fill="#444">**</text>
<path d="M282.86 254.92l1-1 1 1-1 1zM282.46 253.29l1-1 1 1-1 1zM282.56 252.8l1-1 1 1-1 1zM282.81 253.37l1-1 1 1-1 1zM282.11 254.72l1-1 1 1-1 1zM282.22 253.51l1-1 1 1-1 1zM282.1 253.86l1-1 1 1-1 1zM281.64 253.29l1-1 1 1-1 1zM282.72 253.2l1-1 1 1-1 1zM282.05 253.88l1-1 1 1-1 1zM280.78 261.21l1-1 1 1-1 1zM282.19 264.7l1-1 1 1-1 1zM283.76 260.89l1-1 1 1-1 1zM281.68 261.74l1-1 1 1-1 1zM282.32 264.13l1-1 1 1-1 1zM281.45 261.07l1-1 1 1-1 1zM282.66 264.41l1-1 1 1-1 1zM282.62 263.61l1-1 1 1-1 1zM281.66 262.64l1-1 1 1-1 1zM283.5 260.75l1-1 1 1-1 1zM282.35 252.1l1-1 1 1-1 1zM282.35 264.4l1-1 1 1-1 1z" fill="none" stroke="#707070" stroke-width="0.5"/><line x1="283.35" y1="251.5" x2="283.35" y2="265" stroke="#5a5a5a" stroke-width="0.8"/><path d="M281.13 251.5h4.45M281.13 265h4.45" stroke="#333" stroke-width="0.8" fill="none"/><rect x="279.3" y="255.2" width="8.1" height="5.5" fill="#fff" stroke="#3a3a3a" stroke-width="0.9"/><path d="M284.99 256.45l.9-.9 .9 .9-.9 .9zM281.94 258.83l.9-.9 .9 .9-.9 .9zM283.94 259.13l.9-.9 .9 .9-.9 .9zM281.31 256.87l.9-.9 .9 .9-.9 .9z" fill="none" stroke="#c4c4c4" stroke-width="0.4"/><line x1="279.3" y1="258" x2="287.4" y2="258" stroke="#777" stroke-width="0.7"/>
<path d="M293.56 253.31l1.05-1.05 1.05 1.05-1.05 1.05zM295.44 253.98l1.05-1.05 1.05 1.05-1.05 1.05zM292.64 253.25l1.05-1.05 1.05 1.05-1.05 1.05zM291.76 253.46l1.05-1.05 1.05 1.05-1.05 1.05zM289.49 253.67l1.05-1.05 1.05 1.05-1.05 1.05zM292.53 253.59l1.05-1.05 1.05 1.05-1.05 1.05zM294.68 253.75l1.05-1.05 1.05 1.05-1.05 1.05zM291.27 253.15l1.05-1.05 1.05 1.05-1.05 1.05zM289.83 253.9l1.05-1.05 1.05 1.05-1.05 1.05zM292.02 252.85l1.05-1.05 1.05 1.05-1.05 1.05zM290.41 260.97l1.05-1.05 1.05 1.05-1.05 1.05zM291.45 260.07l1.05-1.05 1.05 1.05-1.05 1.05zM292.11 262.95l1.05-1.05 1.05 1.05-1.05 1.05zM293.56 261.63l1.05-1.05 1.05 1.05-1.05 1.05zM293.58 263.13l1.05-1.05 1.05 1.05-1.05 1.05zM292.93 262.41l1.05-1.05 1.05 1.05-1.05 1.05zM290.54 259.99l1.05-1.05 1.05 1.05-1.05 1.05zM293.28 261.25l1.05-1.05 1.05 1.05-1.05 1.05zM292.35 261.05l1.05-1.05 1.05 1.05-1.05 1.05zM293.37 260.53l1.05-1.05 1.05 1.05-1.05 1.05zM289.65 261.49l1.05-1.05 1.05 1.05-1.05 1.05zM290.6 260.4l1.05-1.05 1.05 1.05-1.05 1.05zM294.57 259.96l1.05-1.05 1.05 1.05-1.05 1.05zM290.82 260.42l1.05-1.05 1.05 1.05-1.05 1.05zM291.34 261.16l1.05-1.05 1.05 1.05-1.05 1.05zM292.46 266.14l1.05-1.05 1.05 1.05-1.05 1.05zM291.49 265.03l1.05-1.05 1.05 1.05-1.05 1.05zM292.38 260.52l1.05-1.05 1.05 1.05-1.05 1.05zM292.05 264.46l1.05-1.05 1.05 1.05-1.05 1.05zM292.2 252.1l1.05-1.05 1.05 1.05-1.05 1.05zM292.2 267.3l1.05-1.05 1.05 1.05-1.05 1.05z" fill="#262626" fill-opacity="0.85"/><line x1="293.25" y1="251.5" x2="293.25" y2="267.9" stroke="#3a3a3a" stroke-width="0.85"/><path d="M291.02 251.5h4.45M291.02 267.9h4.45" stroke="#222" stroke-width="0.8" fill="none"/><rect x="289.2" y="254.1" width="8.1" height="5.5" fill="#828282" stroke="#1e1e1e" stroke-width="0.9"/><path d="M293.99 258.14l.9-.9 .9 .9-.9 .9zM294.6 255.82l.9-.9 .9 .9-.9 .9zM291.42 258.71l.9-.9 .9 .9-.9 .9zM294.33 255.55l.9-.9 .9 .9-.9 .9z" fill="none" stroke="#a9a9a9" stroke-width="0.4"/><line x1="289.2" y1="256.7" x2="297.3" y2="256.7" stroke="#3a3a3a" stroke-width="0.7"/>
<text x="292.3" y="246.55" text-anchor="middle" font-size="11.4" fill="#444">*</text>
<path d="M310.4 248.99l1-1 1 1-1 1zM309.4 251.82l1-1 1 1-1 1zM310.53 251.96l1-1 1 1-1 1zM308.98 252.36l1-1 1 1-1 1zM309.16 251.38l1-1 1 1-1 1zM310.16 248.92l1-1 1 1-1 1zM311.41 251.93l1-1 1 1-1 1zM310.2 251.89l1-1 1 1-1 1zM310.31 251.42l1-1 1 1-1 1zM310.12 247.66l1-1 1 1-1 1zM309.48 257.56l1-1 1 1-1 1zM310.51 257.69l1-1 1 1-1 1zM309.49 258.19l1-1 1 1-1 1zM309.67 261.6l1-1 1 1-1 1zM310.06 262.24l1-1 1 1-1 1zM308.98 258.21l1-1 1 1-1 1zM309.87 258.66l1-1 1 1-1 1zM310.29 259.02l1-1 1 1-1 1zM310.98 258.83l1-1 1 1-1 1zM311.04 259.31l1-1 1 1-1 1zM310.15 247.7l1-1 1 1-1 1zM310.15 262.9l1-1 1 1-1 1z" fill="none" stroke="#707070" stroke-width="0.5"/><line x1="311.15" y1="247.1" x2="311.15" y2="263.5" stroke="#5a5a5a" stroke-width="0.8"/><path d="M308.93 247.1h4.45M308.93 263.5h4.45" stroke="#333" stroke-width="0.8" fill="none"/><rect x="307.1" y="252.4" width="8.1" height="5" fill="#fff" stroke="#3a3a3a" stroke-width="0.9"/><path d="M310.48 254.76l.9-.9 .9 .9-.9 .9zM307.64 253.82l.9-.9 .9 .9-.9 .9zM309.65 253.77l.9-.9 .9 .9-.9 .9zM312.17 253.74l.9-.9 .9 .9-.9 .9z" fill="none" stroke="#c4c4c4" stroke-width="0.4"/><line x1="307.1" y1="254.6" x2="315.2" y2="254.6" stroke="#777" stroke-width="0.7"/>
<path d="M318.5 250.59l1.05-1.05 1.05 1.05-1.05 1.05zM319.79 247.73l1.05-1.05 1.05 1.05-1.05 1.05zM319 249.35l1.05-1.05 1.05 1.05-1.05 1.05zM320.94 249.5l1.05-1.05 1.05 1.05-1.05 1.05zM321.49 251.9l1.05-1.05 1.05 1.05-1.05 1.05zM320.75 250.32l1.05-1.05 1.05 1.05-1.05 1.05zM321.58 250.7l1.05-1.05 1.05 1.05-1.05 1.05zM319.67 248.78l1.05-1.05 1.05 1.05-1.05 1.05zM319.28 250.13l1.05-1.05 1.05 1.05-1.05 1.05zM318.76 250.47l1.05-1.05 1.05 1.05-1.05 1.05zM322.29 252.7l1.05-1.05 1.05 1.05-1.05 1.05zM319.63 250.5l1.05-1.05 1.05 1.05-1.05 1.05zM317.37 252.12l1.05-1.05 1.05 1.05-1.05 1.05zM317.63 252.22l1.05-1.05 1.05 1.05-1.05 1.05zM320.81 250.56l1.05-1.05 1.05 1.05-1.05 1.05zM316.46 252.61l1.05-1.05 1.05 1.05-1.05 1.05zM320.99 250.01l1.05-1.05 1.05 1.05-1.05 1.05zM318.99 249.42l1.05-1.05 1.05 1.05-1.05 1.05zM322.68 258.87l1.05-1.05 1.05 1.05-1.05 1.05zM318.93 259.5l1.05-1.05 1.05 1.05-1.05 1.05zM320.24 261.55l1.05-1.05 1.05 1.05-1.05 1.05zM321.28 259.25l1.05-1.05 1.05 1.05-1.05 1.05zM322.62 258.81l1.05-1.05 1.05 1.05-1.05 1.05zM319.76 259.49l1.05-1.05 1.05 1.05-1.05 1.05zM322.95 258.95l1.05-1.05 1.05 1.05-1.05 1.05zM321.66 259.76l1.05-1.05 1.05 1.05-1.05 1.05zM319.14 260.62l1.05-1.05 1.05 1.05-1.05 1.05zM321.59 258.64l1.05-1.05 1.05 1.05-1.05 1.05zM320 246l1.05-1.05 1.05 1.05-1.05 1.05zM320 261.8l1.05-1.05 1.05 1.05-1.05 1.05z" fill="#262626" fill-opacity="0.85"/><line x1="321.05" y1="245.4" x2="321.05" y2="262.4" stroke="#3a3a3a" stroke-width="0.85"/><path d="M318.82 245.4h4.45M318.82 262.4h4.45" stroke="#222" stroke-width="0.8" fill="none"/><rect x="317" y="253" width="8.1" height="5.5" fill="#828282" stroke="#1e1e1e" stroke-width="0.9"/><path d="M317.2 255.55l.9-.9 .9 .9-.9 .9zM320.6 253.86l.9-.9 .9 .9-.9 .9zM322.8 254.26l.9-.9 .9 .9-.9 .9zM319.79 253.96l.9-.9 .9 .9-.9 .9z" fill="none" stroke="#a9a9a9" stroke-width="0.4"/><line x1="317" y1="255.7" x2="325.1" y2="255.7" stroke="#3a3a3a" stroke-width="0.7"/>
<text x="321.4" y="240.95" text-anchor="middle" font-size="11.4" fill="#444">**</text>
<path d="M338.53 246.37l1-1 1 1-1 1zM337.57 243.77l1-1 1 1-1 1zM336.07 246.62l1-1 1 1-1 1zM338.56 246.37l1-1 1 1-1 1zM336.99 242.7l1-1 1 1-1 1zM335.87 246.36l1-1 1 1-1 1zM336.73 245.79l1-1 1 1-1 1zM337.35 244.59l1-1 1 1-1 1zM337.94 246.8l1-1 1 1-1 1zM337.17 243.83l1-1 1 1-1 1zM337.08 260.53l1-1 1 1-1 1zM338.24 267.37l1-1 1 1-1 1zM337.47 294.54l1-1 1 1-1 1zM336.12 262.98l1-1 1 1-1 1zM335.88 262.36l1-1 1 1-1 1zM337.06 292.63l1-1 1 1-1 1zM338.29 264.35l1-1 1 1-1 1zM338.56 263l1-1 1 1-1 1zM338.79 262.22l1-1 1 1-1 1zM336.8 293.4l1-1 1 1-1 1zM337.74 289.63l1-1 1 1-1 1zM336.79 264.03l1-1 1 1-1 1zM337.95 281.57l1-1 1 1-1 1zM335.79 266.46l1-1 1 1-1 1zM337.36 270.54l1-1 1 1-1 1zM337.88 283.27l1-1 1 1-1 1zM338.03 270.25l1-1 1 1-1 1zM337 272.24l1-1 1 1-1 1zM336.85 270.16l1-1 1 1-1 1zM337.76 269.43l1-1 1 1-1 1zM338.57 263.67l1-1 1 1-1 1zM336.03 263.28l1-1 1 1-1 1zM338.52 269.76l1-1 1 1-1 1zM337.75 278.47l1-1 1 1-1 1zM337.22 297.5l1-1 1 1-1 1zM337.43 291.74l1-1 1 1-1 1zM337.12 294.11l1-1 1 1-1 1zM337.2 243l1-1 1 1-1 1zM337.2 299.9l1-1 1 1-1 1z" fill="none" stroke="#707070" stroke-width="0.5"/><line x1="338.2" y1="242.4" x2="338.2" y2="300.5" stroke="#5a5a5a" stroke-width="0.8"/><path d="M336.05 242.4h4.3M336.05 300.5h4.3" stroke="#333" stroke-width="0.8" fill="none"/><rect x="334.3" y="247.4" width="7.8" height="12.4" fill="#fff" stroke="#3a3a3a" stroke-width="0.9"/><path d="M335.42 258.27l.9-.9 .9 .9-.9 .9zM335.09 251.67l.9-.9 .9 .9-.9 .9zM335.33 249.02l.9-.9 .9 .9-.9 .9zM334.76 248.39l.9-.9 .9 .9-.9 .9zM335.77 248.29l.9-.9 .9 .9-.9 .9zM334.21 257.98l.9-.9 .9 .9-.9 .9zM336.45 249.34l.9-.9 .9 .9-.9 .9z" fill="none" stroke="#c4c4c4" stroke-width="0.4"/><line x1="334.3" y1="250.2" x2="342.1" y2="250.2" stroke="#777" stroke-width="0.7"/>
<path d="M347.7 250.2l1.05-1.05 1.05 1.05-1.05 1.05zM344.89 249.96l1.05-1.05 1.05 1.05-1.05 1.05zM344.48 251.28l1.05-1.05 1.05 1.05-1.05 1.05zM346.95 244.07l1.05-1.05 1.05 1.05-1.05 1.05zM347.09 248.93l1.05-1.05 1.05 1.05-1.05 1.05zM346.5 248.4l1.05-1.05 1.05 1.05-1.05 1.05zM344.92 250.23l1.05-1.05 1.05 1.05-1.05 1.05zM346.97 249.52l1.05-1.05 1.05 1.05-1.05 1.05zM348.85 251.08l1.05-1.05 1.05 1.05-1.05 1.05zM347.95 251.12l1.05-1.05 1.05 1.05-1.05 1.05zM347.12 247.14l1.05-1.05 1.05 1.05-1.05 1.05zM347.93 251.06l1.05-1.05 1.05 1.05-1.05 1.05zM347.52 250.89l1.05-1.05 1.05 1.05-1.05 1.05zM347.26 241.8l1.05-1.05 1.05 1.05-1.05 1.05zM345.92 249.12l1.05-1.05 1.05 1.05-1.05 1.05zM348.7 252.04l1.05-1.05 1.05 1.05-1.05 1.05zM348.79 248.01l1.05-1.05 1.05 1.05-1.05 1.05zM348.02 249.95l1.05-1.05 1.05 1.05-1.05 1.05zM346.35 250.02l1.05-1.05 1.05 1.05-1.05 1.05zM345.8 251.5l1.05-1.05 1.05 1.05-1.05 1.05zM350.6 252.06l1.05-1.05 1.05 1.05-1.05 1.05zM345.41 247.97l1.05-1.05 1.05 1.05-1.05 1.05zM345.03 249.1l1.05-1.05 1.05 1.05-1.05 1.05zM348.15 251.47l1.05-1.05 1.05 1.05-1.05 1.05zM349.86 250.29l1.05-1.05 1.05 1.05-1.05 1.05zM347.83 284.66l1.05-1.05 1.05 1.05-1.05 1.05zM343.46 280.98l1.05-1.05 1.05 1.05-1.05 1.05zM346.68 289.72l1.05-1.05 1.05 1.05-1.05 1.05zM345.92 290.01l1.05-1.05 1.05 1.05-1.05 1.05zM345.79 287.91l1.05-1.05 1.05 1.05-1.05 1.05zM347.29 287.85l1.05-1.05 1.05 1.05-1.05 1.05zM346.94 286.54l1.05-1.05 1.05 1.05-1.05 1.05zM347.64 298.21l1.05-1.05 1.05 1.05-1.05 1.05zM343.74 281.13l1.05-1.05 1.05 1.05-1.05 1.05zM347.43 293.39l1.05-1.05 1.05 1.05-1.05 1.05zM345.77 283.08l1.05-1.05 1.05 1.05-1.05 1.05zM345.97 290.63l1.05-1.05 1.05 1.05-1.05 1.05zM350.67 281.4l1.05-1.05 1.05 1.05-1.05 1.05zM346.58 296.17l1.05-1.05 1.05 1.05-1.05 1.05zM344.5 281.87l1.05-1.05 1.05 1.05-1.05 1.05zM348.88 283.73l1.05-1.05 1.05 1.05-1.05 1.05zM345.71 289.22l1.05-1.05 1.05 1.05-1.05 1.05zM347.27 285.86l1.05-1.05 1.05 1.05-1.05 1.05zM348.35 288.83l1.05-1.05 1.05 1.05-1.05 1.05zM351.06 280.35l1.05-1.05 1.05 1.05-1.05 1.05zM349.34 280.5l1.05-1.05 1.05 1.05-1.05 1.05zM348.29 291.59l1.05-1.05 1.05 1.05-1.05 1.05zM347.68 298.37l1.05-1.05 1.05 1.05-1.05 1.05zM345.78 280.21l1.05-1.05 1.05 1.05-1.05 1.05zM349.9 284.13l1.05-1.05 1.05 1.05-1.05 1.05zM350.34 282.84l1.05-1.05 1.05 1.05-1.05 1.05zM348.67 281.34l1.05-1.05 1.05 1.05-1.05 1.05zM346.53 280.74l1.05-1.05 1.05 1.05-1.05 1.05zM348.21 285.14l1.05-1.05 1.05 1.05-1.05 1.05zM348.73 286.26l1.05-1.05 1.05 1.05-1.05 1.05zM347.53 285.24l1.05-1.05 1.05 1.05-1.05 1.05zM344.62 282.7l1.05-1.05 1.05 1.05-1.05 1.05zM348.77 281.44l1.05-1.05 1.05 1.05-1.05 1.05zM348.04 281.41l1.05-1.05 1.05 1.05-1.05 1.05zM348.02 282l1.05-1.05 1.05 1.05-1.05 1.05zM347.37 290.3l1.05-1.05 1.05 1.05-1.05 1.05zM350.06 280.57l1.05-1.05 1.05 1.05-1.05 1.05zM349.81 283.29l1.05-1.05 1.05 1.05-1.05 1.05zM343.81 280.78l1.05-1.05 1.05 1.05-1.05 1.05zM347.37 286.72l1.05-1.05 1.05 1.05-1.05 1.05zM347.8 286.27l1.05-1.05 1.05 1.05-1.05 1.05zM348.79 284.07l1.05-1.05 1.05 1.05-1.05 1.05zM347.59 295.6l1.05-1.05 1.05 1.05-1.05 1.05zM344.07 280.26l1.05-1.05 1.05 1.05-1.05 1.05zM343.84 281.79l1.05-1.05 1.05 1.05-1.05 1.05zM344.02 282.64l1.05-1.05 1.05 1.05-1.05 1.05zM344.09 282.95l1.05-1.05 1.05 1.05-1.05 1.05zM347.2 242.1l1.05-1.05 1.05 1.05-1.05 1.05zM347.2 299.2l1.05-1.05 1.05 1.05-1.05 1.05z" fill="#262626" fill-opacity="0.85"/><line x1="348.25" y1="241.5" x2="348.25" y2="299.8" stroke="#3a3a3a" stroke-width="0.85"/><path d="M345.98 241.5h4.55M345.98 299.8h4.55" stroke="#222" stroke-width="0.8" fill="none"/><rect x="344.1" y="252.2" width="8.3" height="28" fill="#828282" stroke="#1e1e1e" stroke-width="0.9"/><path d="M346.18 255.82l.9-.9 .9 .9-.9 .9zM349.59 253.54l.9-.9 .9 .9-.9 .9zM344.05 254.08l.9-.9 .9 .9-.9 .9zM349.47 276.11l.9-.9 .9 .9-.9 .9zM347.36 254.11l.9-.9 .9 .9-.9 .9zM348.5 256.61l.9-.9 .9 .9-.9 .9zM346.54 273.06l.9-.9 .9 .9-.9 .9zM350.04 259.44l.9-.9 .9 .9-.9 .9zM345.17 270.8l.9-.9 .9 .9-.9 .9zM349.56 260.26l.9-.9 .9 .9-.9 .9z" fill="none" stroke="#a9a9a9" stroke-width="0.4"/><line x1="344.1" y1="269.9" x2="352.4" y2="269.9" stroke="#3a3a3a" stroke-width="0.7"/>
<text x="348.4" y="239.65" text-anchor="middle" font-size="11.4" fill="#444">**</text>
<path d="M54.6 216.2V311.4H365" fill="none" stroke="#222" stroke-width="1.05"/><line x1="54.6" y1="216.2" x2="59.6" y2="216.2" stroke="#222" stroke-width="1"/><line x1="54.6" y1="227.29" x2="57.9" y2="227.29" stroke="#1a1a1a" stroke-width="0.85"/><line x1="54.6" y1="224.5" x2="57.9" y2="224.5" stroke="#1a1a1a" stroke-width="0.85"/><line x1="54.6" y1="222.51" x2="57.9" y2="222.51" stroke="#1a1a1a" stroke-width="0.85"/><line x1="54.6" y1="220.98" x2="57.9" y2="220.98" stroke="#1a1a1a" stroke-width="0.85"/><line x1="54.6" y1="219.72" x2="57.9" y2="219.72" stroke="#1a1a1a" stroke-width="0.85"/><line x1="54.6" y1="218.66" x2="57.9" y2="218.66" stroke="#1a1a1a" stroke-width="0.85"/><line x1="54.6" y1="217.74" x2="57.9" y2="217.74" stroke="#1a1a1a" stroke-width="0.85"/><line x1="54.6" y1="216.93" x2="57.9" y2="216.93" stroke="#1a1a1a" stroke-width="0.85"/><line x1="54.6" y1="232.07" x2="59.6" y2="232.07" stroke="#222" stroke-width="1"/><line x1="54.6" y1="243.16" x2="57.9" y2="243.16" stroke="#1a1a1a" stroke-width="0.85"/><line x1="54.6" y1="240.36" x2="57.9" y2="240.36" stroke="#1a1a1a" stroke-width="0.85"/><line x1="54.6" y1="238.38" x2="57.9" y2="238.38" stroke="#1a1a1a" stroke-width="0.85"/><line x1="54.6" y1="236.84" x2="57.9" y2="236.84" stroke="#1a1a1a" stroke-width="0.85"/><line x1="54.6" y1="235.59" x2="57.9" y2="235.59" stroke="#1a1a1a" stroke-width="0.85"/><line x1="54.6" y1="234.52" x2="57.9" y2="234.52" stroke="#1a1a1a" stroke-width="0.85"/><line x1="54.6" y1="233.6" x2="57.9" y2="233.6" stroke="#1a1a1a" stroke-width="0.85"/><line x1="54.6" y1="232.79" x2="57.9" y2="232.79" stroke="#1a1a1a" stroke-width="0.85"/><line x1="54.6" y1="247.93" x2="59.6" y2="247.93" stroke="#222" stroke-width="1"/><line x1="54.6" y1="259.02" x2="57.9" y2="259.02" stroke="#1a1a1a" stroke-width="0.85"/><line x1="54.6" y1="256.23" x2="57.9" y2="256.23" stroke="#1a1a1a" stroke-width="0.85"/><line x1="54.6" y1="254.25" x2="57.9" y2="254.25" stroke="#1a1a1a" stroke-width="0.85"/><line x1="54.6" y1="252.71" x2="57.9" y2="252.71" stroke="#1a1a1a" stroke-width="0.85"/><line x1="54.6" y1="251.45" x2="57.9" y2="251.45" stroke="#1a1a1a" stroke-width="0.85"/><line x1="54.6" y1="250.39" x2="57.9" y2="250.39" stroke="#1a1a1a" stroke-width="0.85"/><line x1="54.6" y1="249.47" x2="57.9" y2="249.47" stroke="#1a1a1a" stroke-width="0.85"/><line x1="54.6" y1="248.66" x2="57.9" y2="248.66" stroke="#1a1a1a" stroke-width="0.85"/><line x1="54.6" y1="263.8" x2="59.6" y2="263.8" stroke="#222" stroke-width="1"/><line x1="54.6" y1="274.89" x2="57.9" y2="274.89" stroke="#1a1a1a" stroke-width="0.85"/><line x1="54.6" y1="272.1" x2="57.9" y2="272.1" stroke="#1a1a1a" stroke-width="0.85"/><line x1="54.6" y1="270.11" x2="57.9" y2="270.11" stroke="#1a1a1a" stroke-width="0.85"/><line x1="54.6" y1="268.58" x2="57.9" y2="268.58" stroke="#1a1a1a" stroke-width="0.85"/><line x1="54.6" y1="267.32" x2="57.9" y2="267.32" stroke="#1a1a1a" stroke-width="0.85"/><line x1="54.6" y1="266.26" x2="57.9" y2="266.26" stroke="#1a1a1a" stroke-width="0.85"/><line x1="54.6" y1="265.34" x2="57.9" y2="265.34" stroke="#1a1a1a" stroke-width="0.85"/><line x1="54.6" y1="264.53" x2="57.9" y2="264.53" stroke="#1a1a1a" stroke-width="0.85"/><line x1="54.6" y1="279.67" x2="59.6" y2="279.67" stroke="#222" stroke-width="1"/><line x1="54.6" y1="290.76" x2="57.9" y2="290.76" stroke="#1a1a1a" stroke-width="0.85"/><line x1="54.6" y1="287.96" x2="57.9" y2="287.96" stroke="#1a1a1a" stroke-width="0.85"/><line x1="54.6" y1="285.98" x2="57.9" y2="285.98" stroke="#1a1a1a" stroke-width="0.85"/><line x1="54.6" y1="284.44" x2="57.9" y2="284.44" stroke="#1a1a1a" stroke-width="0.85"/><line x1="54.6" y1="283.19" x2="57.9" y2="283.19" stroke="#1a1a1a" stroke-width="0.85"/><line x1="54.6" y1="282.12" x2="57.9" y2="282.12" stroke="#1a1a1a" stroke-width="0.85"/><line x1="54.6" y1="281.2" x2="57.9" y2="281.2" stroke="#1a1a1a" stroke-width="0.85"/><line x1="54.6" y1="280.39" x2="57.9" y2="280.39" stroke="#1a1a1a" stroke-width="0.85"/><line x1="54.6" y1="295.53" x2="59.6" y2="295.53" stroke="#222" stroke-width="1"/><line x1="54.6" y1="306.62" x2="57.9" y2="306.62" stroke="#1a1a1a" stroke-width="0.85"/><line x1="54.6" y1="303.83" x2="57.9" y2="303.83" stroke="#1a1a1a" stroke-width="0.85"/><line x1="54.6" y1="301.85" x2="57.9" y2="301.85" stroke="#1a1a1a" stroke-width="0.85"/><line x1="54.6" y1="300.31" x2="57.9" y2="300.31" stroke="#1a1a1a" stroke-width="0.85"/><line x1="54.6" y1="299.05" x2="57.9" y2="299.05" stroke="#1a1a1a" stroke-width="0.85"/><line x1="54.6" y1="297.99" x2="57.9" y2="297.99" stroke="#1a1a1a" stroke-width="0.85"/><line x1="54.6" y1="297.07" x2="57.9" y2="297.07" stroke="#1a1a1a" stroke-width="0.85"/><line x1="54.6" y1="296.26" x2="57.9" y2="296.26" stroke="#1a1a1a" stroke-width="0.85"/><line x1="54.6" y1="311.4" x2="59.6" y2="311.4" stroke="#222" stroke-width="1"/><line x1="70.1" y1="306.1" x2="70.1" y2="311.4" stroke="#333" stroke-width="0.9"/><line x1="97.4" y1="306.1" x2="97.4" y2="311.4" stroke="#333" stroke-width="0.9"/><line x1="124.7" y1="306.1" x2="124.7" y2="311.4" stroke="#333" stroke-width="0.9"/><line x1="152" y1="306.1" x2="152" y2="311.4" stroke="#333" stroke-width="0.9"/><line x1="179.3" y1="306.1" x2="179.3" y2="311.4" stroke="#333" stroke-width="0.9"/><line x1="206.6" y1="306.1" x2="206.6" y2="311.4" stroke="#333" stroke-width="0.9"/><line x1="233.9" y1="306.1" x2="233.9" y2="311.4" stroke="#333" stroke-width="0.9"/><line x1="261.2" y1="306.1" x2="261.2" y2="311.4" stroke="#333" stroke-width="0.9"/><line x1="288.5" y1="306.1" x2="288.5" y2="311.4" stroke="#333" stroke-width="0.9"/><line x1="315.8" y1="306.1" x2="315.8" y2="311.4" stroke="#333" stroke-width="0.9"/><line x1="343.1" y1="306.1" x2="343.1" y2="311.4" stroke="#333" stroke-width="0.9"/>
<text x="50.6" y="219.7" text-anchor="end" font-size="11.5" fill="#1a1a1a">10000</text><text x="50.6" y="235.57" text-anchor="end" font-size="11.5" fill="#1a1a1a">1000</text><text x="50.6" y="251.43" text-anchor="end" font-size="11.5" fill="#1a1a1a">100</text><text x="50.6" y="267.3" text-anchor="end" font-size="11.5" fill="#1a1a1a">10</text><text x="50.6" y="283.17" text-anchor="end" font-size="11.5" fill="#1a1a1a">1</text><text x="50.6" y="299.03" text-anchor="end" font-size="11.5" fill="#1a1a1a">0.1</text><text x="50.6" y="314.9" text-anchor="end" font-size="11.5" fill="#1a1a1a">0.01</text>
<text transform="translate(73.3 314.85) rotate(-90)" text-anchor="end" font-size="9.0" font-style="italic" letter-spacing="0.45" fill="#111" stroke="#111" stroke-width="0.08">CLDN1</text><text transform="translate(100.6 314.85) rotate(-90)" text-anchor="end" font-size="9.0" font-style="italic" letter-spacing="0.45" fill="#111" stroke="#111" stroke-width="0.08">CLDN2</text><text transform="translate(127.9 314.85) rotate(-90)" text-anchor="end" font-size="9.0" font-style="italic" letter-spacing="0.45" fill="#111" stroke="#111" stroke-width="0.08">CLDN3</text><text transform="translate(155.2 314.85) rotate(-90)" text-anchor="end" font-size="9.0" font-style="italic" letter-spacing="0.45" fill="#111" stroke="#111" stroke-width="0.08">CLDN4</text><text transform="translate(182.5 314.85) rotate(-90)" text-anchor="end" font-size="9.0" font-style="italic" letter-spacing="0.45" fill="#111" stroke="#111" stroke-width="0.08">CLDN5</text><text transform="translate(209.8 314.85) rotate(-90)" text-anchor="end" font-size="9.0" font-style="italic" letter-spacing="0.45" fill="#111" stroke="#111" stroke-width="0.08">CLDN7</text><text transform="translate(237.1 314.85) rotate(-90)" text-anchor="end" font-size="9.0" font-style="italic" letter-spacing="0.45" fill="#111" stroke="#111" stroke-width="0.08">CLDN8</text><text transform="translate(264.4 314.85) rotate(-90)" text-anchor="end" font-size="9.0" font-style="italic" letter-spacing="0.45" fill="#111" stroke="#111" stroke-width="0.08">OCLN</text><text transform="translate(291.7 314.85) rotate(-90)" text-anchor="end" font-size="9.0" font-style="italic" letter-spacing="0.45" fill="#111" stroke="#111" stroke-width="0.08">TJP1</text><text transform="translate(319 314.85) rotate(-90)" text-anchor="end" font-size="9.0" font-style="italic" letter-spacing="0.45" fill="#111" stroke="#111" stroke-width="0.08">TJP2</text><text transform="translate(346.3 314.85) rotate(-90)" text-anchor="end" font-size="9.0" font-style="italic" letter-spacing="0.45" fill="#111" stroke="#111" stroke-width="0.08">TJP3</text>
</g>
<g id="panel-e">
<path d="M432.94 257.93l1-1 1 1-1 1zM430.66 258.05l1-1 1 1-1 1zM429.7 259.02l1-1 1 1-1 1zM429.86 259.04l1-1 1 1-1 1zM431.65 258.68l1-1 1 1-1 1zM431.16 256.09l1-1 1 1-1 1zM430.32 259.12l1-1 1 1-1 1zM429.95 258.4l1-1 1 1-1 1zM429.99 258.39l1-1 1 1-1 1zM431.92 258.61l1-1 1 1-1 1zM429.18 266.65l1-1 1 1-1 1zM430.69 276.42l1-1 1 1-1 1zM431.93 270.29l1-1 1 1-1 1zM433.14 271.98l1-1 1 1-1 1zM432.83 271.46l1-1 1 1-1 1zM431.6 279.28l1-1 1 1-1 1zM432.41 277.05l1-1 1 1-1 1zM431.17 279.12l1-1 1 1-1 1zM430.76 273.67l1-1 1 1-1 1zM432.47 269.96l1-1 1 1-1 1zM431.2 268.95l1-1 1 1-1 1zM432.27 278.52l1-1 1 1-1 1zM431.27 279.8l1-1 1 1-1 1zM432.7 274.62l1-1 1 1-1 1zM431.38 266.88l1-1 1 1-1 1zM431.55 255.4l1-1 1 1-1 1zM431.55 282.6l1-1 1 1-1 1z" fill="none" stroke="#707070" stroke-width="0.5"/><line x1="432.55" y1="254.8" x2="432.55" y2="283.2" stroke="#5a5a5a" stroke-width="0.8"/><path d="M428.82 254.8h7.45M428.82 283.2h7.45" stroke="#333" stroke-width="0.8" fill="none"/><rect x="425.5" y="260" width="14.1" height="6.2" fill="#fff" stroke="#3a3a3a" stroke-width="0.9"/><path d="M427.2 261.04l.9-.9 .9 .9-.9 .9zM429.94 261.5l.9-.9 .9 .9-.9 .9zM430.39 262.1l.9-.9 .9 .9-.9 .9zM429.18 264.17l.9-.9 .9 .9-.9 .9zM434.39 262.12l.9-.9 .9 .9-.9 .9z" fill="none" stroke="#c4c4c4" stroke-width="0.4"/><line x1="425.5" y1="262.4" x2="439.6" y2="262.4" stroke="#777" stroke-width="0.7"/>
<path d="M442.48 264.28l1.05-1.05 1.05 1.05-1.05 1.05zM445.48 264.01l1.05-1.05 1.05 1.05-1.05 1.05zM446.84 256.64l1.05-1.05 1.05 1.05-1.05 1.05zM448.97 257.59l1.05-1.05 1.05 1.05-1.05 1.05zM446.27 258.22l1.05-1.05 1.05 1.05-1.05 1.05zM450.16 260.22l1.05-1.05 1.05 1.05-1.05 1.05zM449.65 263.12l1.05-1.05 1.05 1.05-1.05 1.05zM448.69 263.67l1.05-1.05 1.05 1.05-1.05 1.05zM445.29 261.08l1.05-1.05 1.05 1.05-1.05 1.05zM445.21 261.24l1.05-1.05 1.05 1.05-1.05 1.05zM451.74 262.52l1.05-1.05 1.05 1.05-1.05 1.05zM442.83 262.65l1.05-1.05 1.05 1.05-1.05 1.05zM448.21 257.53l1.05-1.05 1.05 1.05-1.05 1.05zM451.64 263.87l1.05-1.05 1.05 1.05-1.05 1.05zM450.1 262.49l1.05-1.05 1.05 1.05-1.05 1.05zM445.21 260.88l1.05-1.05 1.05 1.05-1.05 1.05zM447.02 261.54l1.05-1.05 1.05 1.05-1.05 1.05zM447.55 260.23l1.05-1.05 1.05 1.05-1.05 1.05zM446.87 262.26l1.05-1.05 1.05 1.05-1.05 1.05zM445.47 257.45l1.05-1.05 1.05 1.05-1.05 1.05zM447.1 258.78l1.05-1.05 1.05 1.05-1.05 1.05zM450.02 261.39l1.05-1.05 1.05 1.05-1.05 1.05zM445.74 255.96l1.05-1.05 1.05 1.05-1.05 1.05zM444.68 262.06l1.05-1.05 1.05 1.05-1.05 1.05zM446.83 259.16l1.05-1.05 1.05 1.05-1.05 1.05zM442.75 264l1.05-1.05 1.05 1.05-1.05 1.05zM449.66 261.08l1.05-1.05 1.05 1.05-1.05 1.05zM447.57 251.3l1.05-1.05 1.05 1.05-1.05 1.05zM445.78 263.6l1.05-1.05 1.05 1.05-1.05 1.05zM451.98 264.13l1.05-1.05 1.05 1.05-1.05 1.05zM447.08 257.84l1.05-1.05 1.05 1.05-1.05 1.05zM446.99 251.78l1.05-1.05 1.05 1.05-1.05 1.05zM448.85 259.78l1.05-1.05 1.05 1.05-1.05 1.05zM444.71 263.1l1.05-1.05 1.05 1.05-1.05 1.05zM448.42 264.23l1.05-1.05 1.05 1.05-1.05 1.05zM452.41 264.39l1.05-1.05 1.05 1.05-1.05 1.05zM449.62 260.23l1.05-1.05 1.05 1.05-1.05 1.05zM442.75 262.79l1.05-1.05 1.05 1.05-1.05 1.05zM452.63 263.9l1.05-1.05 1.05 1.05-1.05 1.05zM447.24 264.18l1.05-1.05 1.05 1.05-1.05 1.05zM442.63 263.37l1.05-1.05 1.05 1.05-1.05 1.05zM449.63 261.06l1.05-1.05 1.05 1.05-1.05 1.05zM442.96 263.22l1.05-1.05 1.05 1.05-1.05 1.05zM448.18 275.15l1.05-1.05 1.05 1.05-1.05 1.05zM447.42 282.3l1.05-1.05 1.05 1.05-1.05 1.05zM450.27 273.87l1.05-1.05 1.05 1.05-1.05 1.05zM449.15 277.64l1.05-1.05 1.05 1.05-1.05 1.05zM443.52 274.55l1.05-1.05 1.05 1.05-1.05 1.05zM448.26 274.44l1.05-1.05 1.05 1.05-1.05 1.05zM440.98 273.3l1.05-1.05 1.05 1.05-1.05 1.05zM445.32 275.66l1.05-1.05 1.05 1.05-1.05 1.05zM450.03 274.25l1.05-1.05 1.05 1.05-1.05 1.05zM447.4 278.49l1.05-1.05 1.05 1.05-1.05 1.05zM448.85 276.05l1.05-1.05 1.05 1.05-1.05 1.05zM444.07 275.45l1.05-1.05 1.05 1.05-1.05 1.05zM442.66 273.81l1.05-1.05 1.05 1.05-1.05 1.05zM450.18 274.08l1.05-1.05 1.05 1.05-1.05 1.05zM447.42 277.42l1.05-1.05 1.05 1.05-1.05 1.05zM447.26 278.51l1.05-1.05 1.05 1.05-1.05 1.05zM446.68 276.66l1.05-1.05 1.05 1.05-1.05 1.05zM445.39 276.94l1.05-1.05 1.05 1.05-1.05 1.05zM444.92 273.5l1.05-1.05 1.05 1.05-1.05 1.05zM447.14 273.32l1.05-1.05 1.05 1.05-1.05 1.05zM448.18 273.72l1.05-1.05 1.05 1.05-1.05 1.05zM447.61 277.59l1.05-1.05 1.05 1.05-1.05 1.05zM447.45 273.32l1.05-1.05 1.05 1.05-1.05 1.05zM448.68 276.34l1.05-1.05 1.05 1.05-1.05 1.05zM450.34 274.44l1.05-1.05 1.05 1.05-1.05 1.05zM446.79 282.02l1.05-1.05 1.05 1.05-1.05 1.05zM448.24 274.79l1.05-1.05 1.05 1.05-1.05 1.05zM445.85 275.66l1.05-1.05 1.05 1.05-1.05 1.05zM448.18 276.32l1.05-1.05 1.05 1.05-1.05 1.05zM447.05 250.8l1.05-1.05 1.05 1.05-1.05 1.05zM447.05 282l1.05-1.05 1.05 1.05-1.05 1.05z" fill="#262626" fill-opacity="0.85"/><line x1="448.1" y1="250.2" x2="448.1" y2="282.6" stroke="#3a3a3a" stroke-width="0.85"/><path d="M444.5 250.2h7.2M444.5 282.6h7.2" stroke="#222" stroke-width="0.8" fill="none"/><rect x="441.3" y="264.4" width="13.6" height="8.8" fill="#828282" stroke="#1e1e1e" stroke-width="0.9"/><path d="M448.13 265.87l.9-.9 .9 .9-.9 .9zM444.55 268.05l.9-.9 .9 .9-.9 .9zM447.79 269.17l.9-.9 .9 .9-.9 .9zM447.39 267.14l.9-.9 .9 .9-.9 .9zM441.78 267.27l.9-.9 .9 .9-.9 .9z" fill="none" stroke="#a9a9a9" stroke-width="0.4"/><line x1="441.3" y1="269.4" x2="454.9" y2="269.4" stroke="#3a3a3a" stroke-width="0.7"/>
<text x="448.3" y="245.95" text-anchor="middle" font-size="11.4" fill="#444">*</text>
<path d="M473.77 241.75l1-1 1 1-1 1zM475.24 237.29l1-1 1 1-1 1zM474.76 234.36l1-1 1 1-1 1zM476.08 241.87l1-1 1 1-1 1zM475.02 242.78l1-1 1 1-1 1zM474.37 236.22l1-1 1 1-1 1zM476.69 239.03l1-1 1 1-1 1zM476.28 241.29l1-1 1 1-1 1zM475.44 233.16l1-1 1 1-1 1zM475.11 242.18l1-1 1 1-1 1zM474.04 276.99l1-1 1 1-1 1zM474.53 291.33l1-1 1 1-1 1zM475.51 289.18l1-1 1 1-1 1zM475.7 267.65l1-1 1 1-1 1zM474.6 273.16l1-1 1 1-1 1zM476.14 266.81l1-1 1 1-1 1zM475.53 299.24l1-1 1 1-1 1zM477.46 264.27l1-1 1 1-1 1zM475.29 300.48l1-1 1 1-1 1zM478.03 265.44l1-1 1 1-1 1zM475.29 299.14l1-1 1 1-1 1zM476.07 270.04l1-1 1 1-1 1zM474.67 281.67l1-1 1 1-1 1zM473.36 265.25l1-1 1 1-1 1zM476.02 271.27l1-1 1 1-1 1zM474.08 267.47l1-1 1 1-1 1zM473.74 275.57l1-1 1 1-1 1zM475.82 292.74l1-1 1 1-1 1zM476.45 265.4l1-1 1 1-1 1zM475.74 282.55l1-1 1 1-1 1zM476.2 270.73l1-1 1 1-1 1zM475.61 271.44l1-1 1 1-1 1zM475.29 291.54l1-1 1 1-1 1zM475.43 283.59l1-1 1 1-1 1zM478.1 265.37l1-1 1 1-1 1zM474.69 289.32l1-1 1 1-1 1zM476.5 274.68l1-1 1 1-1 1zM475.79 287.4l1-1 1 1-1 1zM477.14 266.02l1-1 1 1-1 1zM475.75 293.4l1-1 1 1-1 1zM473.47 272.37l1-1 1 1-1 1zM475.28 290.58l1-1 1 1-1 1zM474.9 298.25l1-1 1 1-1 1zM476.22 269.08l1-1 1 1-1 1zM474.67 283.15l1-1 1 1-1 1zM477.52 268.35l1-1 1 1-1 1zM475.3 232.2l1-1 1 1-1 1zM475.3 302.4l1-1 1 1-1 1z" fill="none" stroke="#707070" stroke-width="0.5"/><line x1="476.3" y1="231.6" x2="476.3" y2="303" stroke="#5a5a5a" stroke-width="0.8"/><path d="M472.6 231.6h7.4M472.6 303h7.4" stroke="#333" stroke-width="0.8" fill="none"/><rect x="469.3" y="243.2" width="14" height="20.3" fill="#fff" stroke="#3a3a3a" stroke-width="0.9"/><path d="M472.9 259.77l.9-.9 .9 .9-.9 .9zM475.42 245.11l.9-.9 .9 .9-.9 .9zM473.87 261.59l.9-.9 .9 .9-.9 .9zM479.39 256.03l.9-.9 .9 .9-.9 .9zM477.04 260.41l.9-.9 .9 .9-.9 .9zM479.52 248.24l.9-.9 .9 .9-.9 .9zM469.9 247.44l.9-.9 .9 .9-.9 .9zM470.65 261.89l.9-.9 .9 .9-.9 .9zM475.09 245.45l.9-.9 .9 .9-.9 .9z" fill="none" stroke="#c4c4c4" stroke-width="0.4"/><line x1="469.3" y1="249.7" x2="483.3" y2="249.7" stroke="#777" stroke-width="0.7"/>
<path d="M492.29 250.02l1.05-1.05 1.05 1.05-1.05 1.05zM489.51 246.49l1.05-1.05 1.05 1.05-1.05 1.05zM491.48 238.18l1.05-1.05 1.05 1.05-1.05 1.05zM491.37 238.51l1.05-1.05 1.05 1.05-1.05 1.05zM494.02 250.37l1.05-1.05 1.05 1.05-1.05 1.05zM491.59 243.38l1.05-1.05 1.05 1.05-1.05 1.05zM494.61 251l1.05-1.05 1.05 1.05-1.05 1.05zM494.49 248.55l1.05-1.05 1.05 1.05-1.05 1.05zM487.59 249.77l1.05-1.05 1.05 1.05-1.05 1.05zM490.76 243.72l1.05-1.05 1.05 1.05-1.05 1.05zM493.39 248.11l1.05-1.05 1.05 1.05-1.05 1.05zM490.82 249.85l1.05-1.05 1.05 1.05-1.05 1.05zM491.33 248.76l1.05-1.05 1.05 1.05-1.05 1.05zM488.29 249.63l1.05-1.05 1.05 1.05-1.05 1.05zM490.89 245.34l1.05-1.05 1.05 1.05-1.05 1.05zM496.36 252.68l1.05-1.05 1.05 1.05-1.05 1.05zM492.8 252.03l1.05-1.05 1.05 1.05-1.05 1.05zM488.47 252.13l1.05-1.05 1.05 1.05-1.05 1.05zM490.15 252.84l1.05-1.05 1.05 1.05-1.05 1.05zM491.29 248.42l1.05-1.05 1.05 1.05-1.05 1.05zM487.91 250.34l1.05-1.05 1.05 1.05-1.05 1.05zM489.47 252.19l1.05-1.05 1.05 1.05-1.05 1.05zM490.47 246.76l1.05-1.05 1.05 1.05-1.05 1.05zM490.71 248.41l1.05-1.05 1.05 1.05-1.05 1.05zM491.49 251.42l1.05-1.05 1.05 1.05-1.05 1.05zM493.12 250.87l1.05-1.05 1.05 1.05-1.05 1.05zM490.83 249.14l1.05-1.05 1.05 1.05-1.05 1.05zM490.39 251.78l1.05-1.05 1.05 1.05-1.05 1.05zM489.16 246.89l1.05-1.05 1.05 1.05-1.05 1.05zM492.91 251.9l1.05-1.05 1.05 1.05-1.05 1.05zM494.83 250.51l1.05-1.05 1.05 1.05-1.05 1.05zM486.76 252.93l1.05-1.05 1.05 1.05-1.05 1.05zM491.84 250.28l1.05-1.05 1.05 1.05-1.05 1.05zM490.5 250.62l1.05-1.05 1.05 1.05-1.05 1.05zM491.97 247.03l1.05-1.05 1.05 1.05-1.05 1.05zM494.68 249.58l1.05-1.05 1.05 1.05-1.05 1.05zM492.45 250.78l1.05-1.05 1.05 1.05-1.05 1.05zM489.8 251.71l1.05-1.05 1.05 1.05-1.05 1.05zM491.19 244.54l1.05-1.05 1.05 1.05-1.05 1.05zM493.33 252.44l1.05-1.05 1.05 1.05-1.05 1.05zM495.45 250.82l1.05-1.05 1.05 1.05-1.05 1.05zM491.68 239.62l1.05-1.05 1.05 1.05-1.05 1.05zM486.74 252.62l1.05-1.05 1.05 1.05-1.05 1.05zM491.29 239.63l1.05-1.05 1.05 1.05-1.05 1.05zM488.64 248.85l1.05-1.05 1.05 1.05-1.05 1.05zM488.9 251.24l1.05-1.05 1.05 1.05-1.05 1.05zM493.94 293.23l1.05-1.05 1.05 1.05-1.05 1.05zM491.7 293.57l1.05-1.05 1.05 1.05-1.05 1.05zM492.69 289.69l1.05-1.05 1.05 1.05-1.05 1.05zM489.59 291.35l1.05-1.05 1.05 1.05-1.05 1.05zM493.06 295.2l1.05-1.05 1.05 1.05-1.05 1.05zM487.43 288.24l1.05-1.05 1.05 1.05-1.05 1.05zM492.62 289.08l1.05-1.05 1.05 1.05-1.05 1.05zM487.61 291.91l1.05-1.05 1.05 1.05-1.05 1.05zM490.89 290.67l1.05-1.05 1.05 1.05-1.05 1.05zM491.45 296.36l1.05-1.05 1.05 1.05-1.05 1.05zM491.22 287.66l1.05-1.05 1.05 1.05-1.05 1.05zM490.07 293.72l1.05-1.05 1.05 1.05-1.05 1.05zM488.81 293.14l1.05-1.05 1.05 1.05-1.05 1.05zM490.99 306.44l1.05-1.05 1.05 1.05-1.05 1.05zM487.06 291.57l1.05-1.05 1.05 1.05-1.05 1.05zM487.4 288.96l1.05-1.05 1.05 1.05-1.05 1.05zM487.4 288.91l1.05-1.05 1.05 1.05-1.05 1.05zM492.54 287.74l1.05-1.05 1.05 1.05-1.05 1.05zM491.2 302.39l1.05-1.05 1.05 1.05-1.05 1.05zM493.44 294.61l1.05-1.05 1.05 1.05-1.05 1.05zM494.7 289.49l1.05-1.05 1.05 1.05-1.05 1.05zM486.42 288.93l1.05-1.05 1.05 1.05-1.05 1.05zM489.2 293.86l1.05-1.05 1.05 1.05-1.05 1.05zM492.13 292.03l1.05-1.05 1.05 1.05-1.05 1.05zM493.58 296.11l1.05-1.05 1.05 1.05-1.05 1.05zM495.08 290.18l1.05-1.05 1.05 1.05-1.05 1.05zM491.31 304.71l1.05-1.05 1.05 1.05-1.05 1.05zM494.14 293.36l1.05-1.05 1.05 1.05-1.05 1.05zM490.98 308.88l1.05-1.05 1.05 1.05-1.05 1.05zM491.89 302.81l1.05-1.05 1.05 1.05-1.05 1.05zM490.69 297.78l1.05-1.05 1.05 1.05-1.05 1.05zM491.24 302.26l1.05-1.05 1.05 1.05-1.05 1.05zM485.44 288.31l1.05-1.05 1.05 1.05-1.05 1.05zM489.26 297.47l1.05-1.05 1.05 1.05-1.05 1.05zM488.27 292.64l1.05-1.05 1.05 1.05-1.05 1.05zM490.95 302.78l1.05-1.05 1.05 1.05-1.05 1.05zM491.49 294.52l1.05-1.05 1.05 1.05-1.05 1.05zM491.3 298.97l1.05-1.05 1.05 1.05-1.05 1.05zM488.96 295.76l1.05-1.05 1.05 1.05-1.05 1.05zM494.52 292.65l1.05-1.05 1.05 1.05-1.05 1.05zM490.65 299.76l1.05-1.05 1.05 1.05-1.05 1.05zM493.72 294.13l1.05-1.05 1.05 1.05-1.05 1.05zM493.3 291.71l1.05-1.05 1.05 1.05-1.05 1.05zM492.62 298.35l1.05-1.05 1.05 1.05-1.05 1.05zM489.75 291.88l1.05-1.05 1.05 1.05-1.05 1.05zM488.88 288.6l1.05-1.05 1.05 1.05-1.05 1.05zM490.73 296.38l1.05-1.05 1.05 1.05-1.05 1.05zM491.04 294.37l1.05-1.05 1.05 1.05-1.05 1.05zM491.1 293.57l1.05-1.05 1.05 1.05-1.05 1.05zM494.1 294.65l1.05-1.05 1.05 1.05-1.05 1.05zM490.51 302.79l1.05-1.05 1.05 1.05-1.05 1.05zM488.7 292.09l1.05-1.05 1.05 1.05-1.05 1.05zM487.34 292.1l1.05-1.05 1.05 1.05-1.05 1.05zM491.23 293.69l1.05-1.05 1.05 1.05-1.05 1.05zM490.7 292.32l1.05-1.05 1.05 1.05-1.05 1.05zM491.45 300.35l1.05-1.05 1.05 1.05-1.05 1.05zM491.15 238.3l1.05-1.05 1.05 1.05-1.05 1.05zM491.15 309.4l1.05-1.05 1.05 1.05-1.05 1.05z" fill="#262626" fill-opacity="0.85"/><line x1="492.2" y1="237.7" x2="492.2" y2="310" stroke="#3a3a3a" stroke-width="0.85"/><path d="M488.65 237.7h7.1M488.65 310h7.1" stroke="#222" stroke-width="0.8" fill="none"/><rect x="485.5" y="253" width="13.4" height="34.6" fill="#828282" stroke="#1e1e1e" stroke-width="0.9"/><path d="M491.82 255.76l.9-.9 .9 .9-.9 .9zM492.54 284.65l.9-.9 .9 .9-.9 .9zM493.48 285.17l.9-.9 .9 .9-.9 .9zM490.41 258.25l.9-.9 .9 .9-.9 .9zM493.92 260.58l.9-.9 .9 .9-.9 .9zM492.57 260.8l.9-.9 .9 .9-.9 .9zM487.75 264.88l.9-.9 .9 .9-.9 .9zM489.3 255.95l.9-.9 .9 .9-.9 .9zM486.34 276.52l.9-.9 .9 .9-.9 .9zM486.31 267.74l.9-.9 .9 .9-.9 .9z" fill="none" stroke="#a9a9a9" stroke-width="0.4"/><line x1="485.5" y1="277.5" x2="498.9" y2="277.5" stroke="#3a3a3a" stroke-width="0.7"/>
<text x="492.8" y="234.35" text-anchor="middle" font-size="11.4" fill="#444">*</text>
<path d="M521.09 250.16l1-1 1 1-1 1zM518.01 249.94l1-1 1 1-1 1zM519.2 249.96l1-1 1 1-1 1zM521.11 247.41l1-1 1 1-1 1zM521.84 250.08l1-1 1 1-1 1zM519.96 246.81l1-1 1 1-1 1zM518.29 250.79l1-1 1 1-1 1zM520.87 248.81l1-1 1 1-1 1zM519.46 244.63l1-1 1 1-1 1zM520.23 247.29l1-1 1 1-1 1zM520.8 269.85l1-1 1 1-1 1zM517.94 265.48l1-1 1 1-1 1zM520.75 277.14l1-1 1 1-1 1zM520.8 272.17l1-1 1 1-1 1zM519.81 273l1-1 1 1-1 1zM519.96 262.92l1-1 1 1-1 1zM520.36 267.15l1-1 1 1-1 1zM522.08 265.06l1-1 1 1-1 1zM521.6 270.53l1-1 1 1-1 1zM520.11 273.39l1-1 1 1-1 1zM518.59 276.97l1-1 1 1-1 1zM520.34 282.21l1-1 1 1-1 1zM521.84 269.21l1-1 1 1-1 1zM521.62 265.73l1-1 1 1-1 1zM520.69 274.77l1-1 1 1-1 1zM519.51 297.3l1-1 1 1-1 1zM521.14 272.58l1-1 1 1-1 1zM521 281.06l1-1 1 1-1 1zM520.22 301.6l1-1 1 1-1 1zM520.14 291.56l1-1 1 1-1 1zM518.89 275.9l1-1 1 1-1 1zM521.94 263l1-1 1 1-1 1zM520.2 290.1l1-1 1 1-1 1zM520.26 285.25l1-1 1 1-1 1zM519.43 289.99l1-1 1 1-1 1zM518.18 272.91l1-1 1 1-1 1zM521.6 264.17l1-1 1 1-1 1zM519.67 296.76l1-1 1 1-1 1zM519.74 277.4l1-1 1 1-1 1zM520.32 284.14l1-1 1 1-1 1zM517.2 265.42l1-1 1 1-1 1zM519.13 278.93l1-1 1 1-1 1zM519.39 289.36l1-1 1 1-1 1zM520 275.3l1-1 1 1-1 1zM521.11 275.45l1-1 1 1-1 1zM519.9 243.8l1-1 1 1-1 1zM519.9 301.3l1-1 1 1-1 1z" fill="none" stroke="#707070" stroke-width="0.5"/><line x1="520.9" y1="243.2" x2="520.9" y2="301.9" stroke="#5a5a5a" stroke-width="0.8"/><path d="M517.25 243.2h7.3M517.25 301.9h7.3" stroke="#333" stroke-width="0.8" fill="none"/><rect x="514" y="251.5" width="13.8" height="11.4" fill="#fff" stroke="#3a3a3a" stroke-width="0.9"/><path d="M515.89 253.13l.9-.9 .9 .9-.9 .9zM520.7 260.36l.9-.9 .9 .9-.9 .9zM514.97 252.72l.9-.9 .9 .9-.9 .9zM524.29 252.37l.9-.9 .9 .9-.9 .9zM520.46 261.61l.9-.9 .9 .9-.9 .9zM518.75 260.38l.9-.9 .9 .9-.9 .9z" fill="none" stroke="#c4c4c4" stroke-width="0.4"/><line x1="514" y1="254.8" x2="527.8" y2="254.8" stroke="#777" stroke-width="0.7"/>
<path d="M538.49 254.41l1.05-1.05 1.05 1.05-1.05 1.05zM536.42 255.05l1.05-1.05 1.05 1.05-1.05 1.05zM534.53 248.31l1.05-1.05 1.05 1.05-1.05 1.05zM535.21 247.84l1.05-1.05 1.05 1.05-1.05 1.05zM536.19 256.58l1.05-1.05 1.05 1.05-1.05 1.05zM535.47 247.07l1.05-1.05 1.05 1.05-1.05 1.05zM534.99 256.46l1.05-1.05 1.05 1.05-1.05 1.05zM534.85 254.99l1.05-1.05 1.05 1.05-1.05 1.05zM535.97 255.59l1.05-1.05 1.05 1.05-1.05 1.05zM533.66 254.09l1.05-1.05 1.05 1.05-1.05 1.05zM537.26 252.22l1.05-1.05 1.05 1.05-1.05 1.05zM534.4 253.08l1.05-1.05 1.05 1.05-1.05 1.05zM535.78 245.83l1.05-1.05 1.05 1.05-1.05 1.05zM532.38 253.79l1.05-1.05 1.05 1.05-1.05 1.05zM532.42 257.4l1.05-1.05 1.05 1.05-1.05 1.05zM537.44 258.09l1.05-1.05 1.05 1.05-1.05 1.05zM531.66 255.55l1.05-1.05 1.05 1.05-1.05 1.05zM531.73 255.61l1.05-1.05 1.05 1.05-1.05 1.05zM534.67 245.62l1.05-1.05 1.05 1.05-1.05 1.05zM535.39 246.12l1.05-1.05 1.05 1.05-1.05 1.05zM530.08 257.4l1.05-1.05 1.05 1.05-1.05 1.05zM538.48 254.96l1.05-1.05 1.05 1.05-1.05 1.05zM530.6 257.43l1.05-1.05 1.05 1.05-1.05 1.05zM531.62 256.62l1.05-1.05 1.05 1.05-1.05 1.05zM534.96 256.75l1.05-1.05 1.05 1.05-1.05 1.05zM538.41 255.55l1.05-1.05 1.05 1.05-1.05 1.05zM531.08 256.09l1.05-1.05 1.05 1.05-1.05 1.05zM535.22 247.03l1.05-1.05 1.05 1.05-1.05 1.05zM535.16 252.93l1.05-1.05 1.05 1.05-1.05 1.05zM534.43 250.53l1.05-1.05 1.05 1.05-1.05 1.05zM535.45 258.01l1.05-1.05 1.05 1.05-1.05 1.05zM534.65 247.88l1.05-1.05 1.05 1.05-1.05 1.05zM536.18 257.72l1.05-1.05 1.05 1.05-1.05 1.05zM536.37 253.5l1.05-1.05 1.05 1.05-1.05 1.05zM536.24 250.78l1.05-1.05 1.05 1.05-1.05 1.05zM531.18 256.92l1.05-1.05 1.05 1.05-1.05 1.05zM535.11 256.65l1.05-1.05 1.05 1.05-1.05 1.05zM538.96 254.67l1.05-1.05 1.05 1.05-1.05 1.05zM537.99 253.84l1.05-1.05 1.05 1.05-1.05 1.05zM536.02 253.63l1.05-1.05 1.05 1.05-1.05 1.05zM537.25 252.77l1.05-1.05 1.05 1.05-1.05 1.05zM532.97 253.56l1.05-1.05 1.05 1.05-1.05 1.05zM534.47 252.2l1.05-1.05 1.05 1.05-1.05 1.05zM539.62 290.56l1.05-1.05 1.05 1.05-1.05 1.05zM534.06 292.39l1.05-1.05 1.05 1.05-1.05 1.05zM534.32 300.35l1.05-1.05 1.05 1.05-1.05 1.05zM531.74 291.71l1.05-1.05 1.05 1.05-1.05 1.05zM534.6 294.51l1.05-1.05 1.05 1.05-1.05 1.05zM530.32 290.89l1.05-1.05 1.05 1.05-1.05 1.05zM535.84 303.55l1.05-1.05 1.05 1.05-1.05 1.05zM533.37 293.43l1.05-1.05 1.05 1.05-1.05 1.05zM535.9 297.54l1.05-1.05 1.05 1.05-1.05 1.05zM533.85 300.21l1.05-1.05 1.05 1.05-1.05 1.05zM534.47 302.45l1.05-1.05 1.05 1.05-1.05 1.05zM532.84 296.03l1.05-1.05 1.05 1.05-1.05 1.05zM535.74 303.42l1.05-1.05 1.05 1.05-1.05 1.05zM530.39 290.72l1.05-1.05 1.05 1.05-1.05 1.05zM531.64 292.63l1.05-1.05 1.05 1.05-1.05 1.05zM537.15 294.58l1.05-1.05 1.05 1.05-1.05 1.05zM536.71 299.79l1.05-1.05 1.05 1.05-1.05 1.05zM537.88 292.36l1.05-1.05 1.05 1.05-1.05 1.05zM537.53 293.09l1.05-1.05 1.05 1.05-1.05 1.05zM530.3 290.47l1.05-1.05 1.05 1.05-1.05 1.05zM536.88 293.67l1.05-1.05 1.05 1.05-1.05 1.05zM532.55 289.31l1.05-1.05 1.05 1.05-1.05 1.05zM538.2 292.58l1.05-1.05 1.05 1.05-1.05 1.05zM531.82 293.89l1.05-1.05 1.05 1.05-1.05 1.05zM533.87 296.18l1.05-1.05 1.05 1.05-1.05 1.05zM535.55 302.87l1.05-1.05 1.05 1.05-1.05 1.05zM536.23 296.45l1.05-1.05 1.05 1.05-1.05 1.05zM538.61 291.06l1.05-1.05 1.05 1.05-1.05 1.05zM535.31 295.97l1.05-1.05 1.05 1.05-1.05 1.05zM535.29 295.99l1.05-1.05 1.05 1.05-1.05 1.05zM533.35 298.45l1.05-1.05 1.05 1.05-1.05 1.05zM534.46 292.52l1.05-1.05 1.05 1.05-1.05 1.05zM533.49 292.01l1.05-1.05 1.05 1.05-1.05 1.05zM538.96 291.36l1.05-1.05 1.05 1.05-1.05 1.05zM535.37 290.58l1.05-1.05 1.05 1.05-1.05 1.05zM537.96 291.31l1.05-1.05 1.05 1.05-1.05 1.05zM535.83 295.78l1.05-1.05 1.05 1.05-1.05 1.05zM534.79 300.96l1.05-1.05 1.05 1.05-1.05 1.05zM538.03 293.97l1.05-1.05 1.05 1.05-1.05 1.05zM537.7 291.36l1.05-1.05 1.05 1.05-1.05 1.05zM541.31 289.05l1.05-1.05 1.05 1.05-1.05 1.05zM536.1 291.9l1.05-1.05 1.05 1.05-1.05 1.05zM536.45 296.1l1.05-1.05 1.05 1.05-1.05 1.05zM533.33 293.58l1.05-1.05 1.05 1.05-1.05 1.05zM539.85 289.88l1.05-1.05 1.05 1.05-1.05 1.05zM536.61 296.68l1.05-1.05 1.05 1.05-1.05 1.05zM532.01 293.72l1.05-1.05 1.05 1.05-1.05 1.05zM536.46 293.73l1.05-1.05 1.05 1.05-1.05 1.05zM535.3 290.49l1.05-1.05 1.05 1.05-1.05 1.05zM539.07 291.26l1.05-1.05 1.05 1.05-1.05 1.05zM533.48 295.61l1.05-1.05 1.05 1.05-1.05 1.05zM537.51 290.07l1.05-1.05 1.05 1.05-1.05 1.05zM536.66 299.78l1.05-1.05 1.05 1.05-1.05 1.05zM536.27 294.53l1.05-1.05 1.05 1.05-1.05 1.05zM531.08 290.01l1.05-1.05 1.05 1.05-1.05 1.05zM533.21 291.21l1.05-1.05 1.05 1.05-1.05 1.05zM535.2 244.5l1.05-1.05 1.05 1.05-1.05 1.05zM535.2 307.7l1.05-1.05 1.05 1.05-1.05 1.05z" fill="#262626" fill-opacity="0.85"/><line x1="536.25" y1="243.9" x2="536.25" y2="308.3" stroke="#3a3a3a" stroke-width="0.85"/><path d="M532.73 243.9h7.05M532.73 308.3h7.05" stroke="#222" stroke-width="0.8" fill="none"/><rect x="529.6" y="258.1" width="13.3" height="30.9" fill="#828282" stroke="#1e1e1e" stroke-width="0.9"/><path d="M530.35 259.61l.9-.9 .9 .9-.9 .9zM535.12 286.18l.9-.9 .9 .9-.9 .9zM530.54 286.82l.9-.9 .9 .9-.9 .9zM538.3 275.3l.9-.9 .9 .9-.9 .9zM533.84 264.37l.9-.9 .9 .9-.9 .9zM534.68 284.8l.9-.9 .9 .9-.9 .9zM536.03 262.09l.9-.9 .9 .9-.9 .9zM535.41 265.74l.9-.9 .9 .9-.9 .9zM537.87 287.74l.9-.9 .9 .9-.9 .9zM530.2 285.8l.9-.9 .9 .9-.9 .9z" fill="none" stroke="#a9a9a9" stroke-width="0.4"/><line x1="529.6" y1="281" x2="542.9" y2="281" stroke="#3a3a3a" stroke-width="0.7"/>
<text x="536.4" y="239.75" text-anchor="middle" font-size="11.4" fill="#444">*</text>
<path d="M562.87 251.03l1-1 1 1-1 1zM566.16 252.78l1-1 1 1-1 1zM566.41 252.52l1-1 1 1-1 1zM564.61 249.85l1-1 1 1-1 1zM564.96 250.65l1-1 1 1-1 1zM565.42 252.43l1-1 1 1-1 1zM562.64 250.89l1-1 1 1-1 1zM564.32 249.89l1-1 1 1-1 1zM563.53 249.58l1-1 1 1-1 1zM564.09 248.3l1-1 1 1-1 1zM563.65 264.08l1-1 1 1-1 1zM562.78 262.01l1-1 1 1-1 1zM566.07 262.01l1-1 1 1-1 1zM565.56 263.63l1-1 1 1-1 1zM563.87 267.77l1-1 1 1-1 1zM564.21 263.61l1-1 1 1-1 1zM564.72 261.66l1-1 1 1-1 1zM563.52 261.96l1-1 1 1-1 1zM564.31 270.1l1-1 1 1-1 1zM563.99 267.44l1-1 1 1-1 1zM563.95 248.6l1-1 1 1-1 1zM563.95 269.8l1-1 1 1-1 1z" fill="none" stroke="#707070" stroke-width="0.5"/><line x1="564.95" y1="248" x2="564.95" y2="270.4" stroke="#5a5a5a" stroke-width="0.8"/><path d="M561.33 248h7.25M561.33 270.4h7.25" stroke="#333" stroke-width="0.8" fill="none"/><rect x="558.1" y="252.8" width="13.7" height="8.5" fill="#fff" stroke="#3a3a3a" stroke-width="0.9"/><path d="M567.22 254.84l.9-.9 .9 .9-.9 .9zM566.19 258.61l.9-.9 .9 .9-.9 .9zM563.6 254.83l.9-.9 .9 .9-.9 .9zM560.05 255.42l.9-.9 .9 .9-.9 .9zM565.22 253.82l.9-.9 .9 .9-.9 .9z" fill="none" stroke="#c4c4c4" stroke-width="0.4"/><line x1="558.1" y1="254.8" x2="571.8" y2="254.8" stroke="#777" stroke-width="0.7"/>
<path d="M583.53 257.11l1.05-1.05 1.05 1.05-1.05 1.05zM580.17 254.85l1.05-1.05 1.05 1.05-1.05 1.05zM575.79 255.57l1.05-1.05 1.05 1.05-1.05 1.05zM579.32 257.52l1.05-1.05 1.05 1.05-1.05 1.05zM581.56 255.84l1.05-1.05 1.05 1.05-1.05 1.05zM579.04 251.9l1.05-1.05 1.05 1.05-1.05 1.05zM583.2 257.63l1.05-1.05 1.05 1.05-1.05 1.05zM578.95 257.65l1.05-1.05 1.05 1.05-1.05 1.05zM584.2 257.37l1.05-1.05 1.05 1.05-1.05 1.05zM579.03 254.74l1.05-1.05 1.05 1.05-1.05 1.05zM575.02 257.65l1.05-1.05 1.05 1.05-1.05 1.05zM575.56 257.39l1.05-1.05 1.05 1.05-1.05 1.05zM582 255.23l1.05-1.05 1.05 1.05-1.05 1.05zM577.22 257.33l1.05-1.05 1.05 1.05-1.05 1.05zM575.94 257.56l1.05-1.05 1.05 1.05-1.05 1.05zM580.41 254.1l1.05-1.05 1.05 1.05-1.05 1.05zM582.39 255.74l1.05-1.05 1.05 1.05-1.05 1.05zM578.86 257.33l1.05-1.05 1.05 1.05-1.05 1.05zM577.68 253.91l1.05-1.05 1.05 1.05-1.05 1.05zM574.79 257.45l1.05-1.05 1.05 1.05-1.05 1.05zM576.64 255.04l1.05-1.05 1.05 1.05-1.05 1.05zM579 252.19l1.05-1.05 1.05 1.05-1.05 1.05zM578.75 273.5l1.05-1.05 1.05 1.05-1.05 1.05zM579.93 266.59l1.05-1.05 1.05 1.05-1.05 1.05zM580.56 268.49l1.05-1.05 1.05 1.05-1.05 1.05zM583.04 266.78l1.05-1.05 1.05 1.05-1.05 1.05zM578.98 268.61l1.05-1.05 1.05 1.05-1.05 1.05zM583.17 265.45l1.05-1.05 1.05 1.05-1.05 1.05zM582.07 267.9l1.05-1.05 1.05 1.05-1.05 1.05zM579.83 270.65l1.05-1.05 1.05 1.05-1.05 1.05zM577.19 269l1.05-1.05 1.05 1.05-1.05 1.05zM583.66 265.94l1.05-1.05 1.05 1.05-1.05 1.05zM580.08 270.96l1.05-1.05 1.05 1.05-1.05 1.05zM575.7 265.48l1.05-1.05 1.05 1.05-1.05 1.05zM580.36 268.57l1.05-1.05 1.05 1.05-1.05 1.05zM577.34 267.53l1.05-1.05 1.05 1.05-1.05 1.05zM581.8 267.52l1.05-1.05 1.05 1.05-1.05 1.05zM578.28 265.45l1.05-1.05 1.05 1.05-1.05 1.05zM578.8 269.73l1.05-1.05 1.05 1.05-1.05 1.05zM577.02 266.27l1.05-1.05 1.05 1.05-1.05 1.05zM578.18 270.21l1.05-1.05 1.05 1.05-1.05 1.05zM577.63 267.01l1.05-1.05 1.05 1.05-1.05 1.05zM578.71 271.44l1.05-1.05 1.05 1.05-1.05 1.05zM578.59 272.49l1.05-1.05 1.05 1.05-1.05 1.05zM578.01 269.05l1.05-1.05 1.05 1.05-1.05 1.05zM579.18 269.14l1.05-1.05 1.05 1.05-1.05 1.05zM580.58 265.63l1.05-1.05 1.05 1.05-1.05 1.05zM579.05 251l1.05-1.05 1.05 1.05-1.05 1.05zM579.05 273.2l1.05-1.05 1.05 1.05-1.05 1.05z" fill="#262626" fill-opacity="0.85"/><line x1="580.1" y1="250.4" x2="580.1" y2="273.8" stroke="#3a3a3a" stroke-width="0.85"/><path d="M576.6 250.4h7M576.6 273.8h7" stroke="#222" stroke-width="0.8" fill="none"/><rect x="573.5" y="257.7" width="13.2" height="7.7" fill="#828282" stroke="#1e1e1e" stroke-width="0.9"/><path d="M578.11 264.13l.9-.9 .9 .9-.9 .9zM579.78 258.72l.9-.9 .9 .9-.9 .9zM579.47 258.74l.9-.9 .9 .9-.9 .9zM574.65 261.93l.9-.9 .9 .9-.9 .9zM579.61 259.33l.9-.9 .9 .9-.9 .9z" fill="none" stroke="#a9a9a9" stroke-width="0.4"/><line x1="573.5" y1="263.2" x2="586.7" y2="263.2" stroke="#3a3a3a" stroke-width="0.7"/>
<text x="579.8" y="247.65" text-anchor="middle" font-size="11.4" fill="#444">*</text>
<path d="M608.94 231.48l1-1 1 1-1 1zM607.83 230.27l1-1 1 1-1 1zM609.66 232.89l1-1 1 1-1 1zM608.35 230.2l1-1 1 1-1 1zM607 232.17l1-1 1 1-1 1zM608.62 231.8l1-1 1 1-1 1zM608.71 233.98l1-1 1 1-1 1zM608.73 232.62l1-1 1 1-1 1zM608.24 232.67l1-1 1 1-1 1zM607.09 233.78l1-1 1 1-1 1zM608.83 248.83l1-1 1 1-1 1zM608.96 253.36l1-1 1 1-1 1zM605.55 244.15l1-1 1 1-1 1zM610.55 246.27l1-1 1 1-1 1zM606.86 257.62l1-1 1 1-1 1zM607.27 244.42l1-1 1 1-1 1zM608.08 248.36l1-1 1 1-1 1zM608.21 255.46l1-1 1 1-1 1zM607.36 262.94l1-1 1 1-1 1zM608.82 258.42l1-1 1 1-1 1zM609.33 254.13l1-1 1 1-1 1zM608.84 248.2l1-1 1 1-1 1zM607.93 247.19l1-1 1 1-1 1zM607.65 251.52l1-1 1 1-1 1zM606.01 247.24l1-1 1 1-1 1zM609.57 254.65l1-1 1 1-1 1zM607.5 245.92l1-1 1 1-1 1zM607.89 274.64l1-1 1 1-1 1zM607.04 254.21l1-1 1 1-1 1zM610.14 245.58l1-1 1 1-1 1zM606.72 256.02l1-1 1 1-1 1zM607.78 244.49l1-1 1 1-1 1zM609.24 247.24l1-1 1 1-1 1zM608.09 274.47l1-1 1 1-1 1zM608.69 247l1-1 1 1-1 1zM607.83 271.46l1-1 1 1-1 1zM609.03 254.18l1-1 1 1-1 1zM608.63 250.84l1-1 1 1-1 1zM607.17 244.04l1-1 1 1-1 1zM608.15 230.5l1-1 1 1-1 1zM608.15 274.6l1-1 1 1-1 1z" fill="none" stroke="#707070" stroke-width="0.5"/><line x1="609.15" y1="229.9" x2="609.15" y2="275.2" stroke="#5a5a5a" stroke-width="0.8"/><path d="M605.57 229.9h7.15M605.57 275.2h7.15" stroke="#333" stroke-width="0.8" fill="none"/><rect x="602.4" y="234.3" width="13.5" height="8.4" fill="#fff" stroke="#3a3a3a" stroke-width="0.9"/><path d="M613.63 239.22l.9-.9 .9 .9-.9 .9zM613.31 236.71l.9-.9 .9 .9-.9 .9zM613.61 238.07l.9-.9 .9 .9-.9 .9zM613.46 236.21l.9-.9 .9 .9-.9 .9zM607.18 239.65l.9-.9 .9 .9-.9 .9z" fill="none" stroke="#c4c4c4" stroke-width="0.4"/><line x1="602.4" y1="237.7" x2="615.9" y2="237.7" stroke="#777" stroke-width="0.7"/>
<path d="M625.07 238.09l1.05-1.05 1.05 1.05-1.05 1.05zM623.8 233.81l1.05-1.05 1.05 1.05-1.05 1.05zM623.18 231.53l1.05-1.05 1.05 1.05-1.05 1.05zM622.3 237.15l1.05-1.05 1.05 1.05-1.05 1.05zM629.04 240.16l1.05-1.05 1.05 1.05-1.05 1.05zM621.57 239.88l1.05-1.05 1.05 1.05-1.05 1.05zM623.53 234.11l1.05-1.05 1.05 1.05-1.05 1.05zM618.32 240.11l1.05-1.05 1.05 1.05-1.05 1.05zM623.11 233.3l1.05-1.05 1.05 1.05-1.05 1.05zM622.91 239.3l1.05-1.05 1.05 1.05-1.05 1.05zM624.66 237.46l1.05-1.05 1.05 1.05-1.05 1.05zM622.23 238.04l1.05-1.05 1.05 1.05-1.05 1.05zM622.56 236.46l1.05-1.05 1.05 1.05-1.05 1.05zM623.44 231.65l1.05-1.05 1.05 1.05-1.05 1.05zM624.05 238.67l1.05-1.05 1.05 1.05-1.05 1.05zM623.49 238.09l1.05-1.05 1.05 1.05-1.05 1.05zM627.41 239.71l1.05-1.05 1.05 1.05-1.05 1.05zM624.12 236.17l1.05-1.05 1.05 1.05-1.05 1.05zM621.32 236.43l1.05-1.05 1.05 1.05-1.05 1.05zM623.41 232.23l1.05-1.05 1.05 1.05-1.05 1.05zM623.14 240.24l1.05-1.05 1.05 1.05-1.05 1.05zM622.81 238.34l1.05-1.05 1.05 1.05-1.05 1.05zM624.37 234.53l1.05-1.05 1.05 1.05-1.05 1.05zM625.49 238.67l1.05-1.05 1.05 1.05-1.05 1.05zM623.87 238.05l1.05-1.05 1.05 1.05-1.05 1.05zM625.27 240.16l1.05-1.05 1.05 1.05-1.05 1.05zM625.29 238.13l1.05-1.05 1.05 1.05-1.05 1.05zM622.5 274l1.05-1.05 1.05 1.05-1.05 1.05zM623.85 276.69l1.05-1.05 1.05 1.05-1.05 1.05zM625.58 269.34l1.05-1.05 1.05 1.05-1.05 1.05zM625.49 271.08l1.05-1.05 1.05 1.05-1.05 1.05zM621.69 265.06l1.05-1.05 1.05 1.05-1.05 1.05zM622.67 272.91l1.05-1.05 1.05 1.05-1.05 1.05zM621.28 271.84l1.05-1.05 1.05 1.05-1.05 1.05zM623.24 277.61l1.05-1.05 1.05 1.05-1.05 1.05zM621.79 268.72l1.05-1.05 1.05 1.05-1.05 1.05zM623.01 279.08l1.05-1.05 1.05 1.05-1.05 1.05zM627.15 264.43l1.05-1.05 1.05 1.05-1.05 1.05zM622.72 267.37l1.05-1.05 1.05 1.05-1.05 1.05zM621.43 263.87l1.05-1.05 1.05 1.05-1.05 1.05zM619.43 264.09l1.05-1.05 1.05 1.05-1.05 1.05zM625.59 265.45l1.05-1.05 1.05 1.05-1.05 1.05zM625.17 267.13l1.05-1.05 1.05 1.05-1.05 1.05zM626.98 264.59l1.05-1.05 1.05 1.05-1.05 1.05zM624.05 264.58l1.05-1.05 1.05 1.05-1.05 1.05zM621.69 273.94l1.05-1.05 1.05 1.05-1.05 1.05zM622.9 274.55l1.05-1.05 1.05 1.05-1.05 1.05zM623.26 279.46l1.05-1.05 1.05 1.05-1.05 1.05zM624.2 266.93l1.05-1.05 1.05 1.05-1.05 1.05zM621.62 272l1.05-1.05 1.05 1.05-1.05 1.05zM621.57 269.17l1.05-1.05 1.05 1.05-1.05 1.05zM620.17 267.85l1.05-1.05 1.05 1.05-1.05 1.05zM622.38 275.19l1.05-1.05 1.05 1.05-1.05 1.05zM621.91 265.82l1.05-1.05 1.05 1.05-1.05 1.05zM620.6 268.15l1.05-1.05 1.05 1.05-1.05 1.05zM623.63 269.53l1.05-1.05 1.05 1.05-1.05 1.05zM625.01 264.73l1.05-1.05 1.05 1.05-1.05 1.05zM627.77 264.85l1.05-1.05 1.05 1.05-1.05 1.05zM619.11 266.4l1.05-1.05 1.05 1.05-1.05 1.05zM622.04 267.98l1.05-1.05 1.05 1.05-1.05 1.05zM623.43 279.71l1.05-1.05 1.05 1.05-1.05 1.05zM624.2 268.79l1.05-1.05 1.05 1.05-1.05 1.05zM622.25 266.67l1.05-1.05 1.05 1.05-1.05 1.05zM622.54 269l1.05-1.05 1.05 1.05-1.05 1.05zM622.66 268.11l1.05-1.05 1.05 1.05-1.05 1.05zM619.95 264.72l1.05-1.05 1.05 1.05-1.05 1.05zM622.9 264.48l1.05-1.05 1.05 1.05-1.05 1.05zM623.83 266.78l1.05-1.05 1.05 1.05-1.05 1.05zM623.02 265.73l1.05-1.05 1.05 1.05-1.05 1.05zM621.13 268.19l1.05-1.05 1.05 1.05-1.05 1.05zM621.97 269.6l1.05-1.05 1.05 1.05-1.05 1.05zM624.45 271.53l1.05-1.05 1.05 1.05-1.05 1.05zM622.91 269.96l1.05-1.05 1.05 1.05-1.05 1.05zM622.23 275.42l1.05-1.05 1.05 1.05-1.05 1.05zM620.48 266.69l1.05-1.05 1.05 1.05-1.05 1.05zM623.07 269.01l1.05-1.05 1.05 1.05-1.05 1.05zM626.06 265.86l1.05-1.05 1.05 1.05-1.05 1.05zM624.69 269.21l1.05-1.05 1.05 1.05-1.05 1.05zM617.63 263.74l1.05-1.05 1.05 1.05-1.05 1.05zM623.14 276.38l1.05-1.05 1.05 1.05-1.05 1.05zM623.15 231.7l1.05-1.05 1.05 1.05-1.05 1.05zM623.15 280.7l1.05-1.05 1.05 1.05-1.05 1.05z" fill="#262626" fill-opacity="0.85"/><line x1="624.2" y1="231.1" x2="624.2" y2="281.3" stroke="#3a3a3a" stroke-width="0.85"/><path d="M620.7 231.1h7M620.7 281.3h7" stroke="#222" stroke-width="0.8" fill="none"/><rect x="617.6" y="240.3" width="13.2" height="23.4" fill="#828282" stroke="#1e1e1e" stroke-width="0.9"/><path d="M623.87 248.05l.9-.9 .9 .9-.9 .9zM622.98 247.46l.9-.9 .9 .9-.9 .9zM628.39 245.67l.9-.9 .9 .9-.9 .9zM622.78 247.77l.9-.9 .9 .9-.9 .9zM626.66 261.63l.9-.9 .9 .9-.9 .9zM618.19 247.66l.9-.9 .9 .9-.9 .9zM619.7 242.94l.9-.9 .9 .9-.9 .9zM624.6 241.61l.9-.9 .9 .9-.9 .9zM621.54 249.53l.9-.9 .9 .9-.9 .9zM619.46 262.71l.9-.9 .9 .9-.9 .9z" fill="none" stroke="#a9a9a9" stroke-width="0.4"/><line x1="617.6" y1="256.4" x2="630.8" y2="256.4" stroke="#3a3a3a" stroke-width="0.7"/>
<text x="624.1" y="224.75" text-anchor="middle" font-size="11.4" fill="#444">*</text>
<path d="M652.36 248.68l1-1 1 1-1 1zM652.3 248.86l1-1 1 1-1 1zM649.83 249.12l1-1 1 1-1 1zM650.63 247.89l1-1 1 1-1 1zM650.77 247.38l1-1 1 1-1 1zM651.99 242.28l1-1 1 1-1 1zM652.89 248.29l1-1 1 1-1 1zM653.16 245.38l1-1 1 1-1 1zM653.38 249l1-1 1 1-1 1zM652.45 242.11l1-1 1 1-1 1zM651.88 273.91l1-1 1 1-1 1zM649.59 262.6l1-1 1 1-1 1zM651.58 270.91l1-1 1 1-1 1zM653.33 272.91l1-1 1 1-1 1zM651.02 271.46l1-1 1 1-1 1zM651.79 265.6l1-1 1 1-1 1zM650.41 267.78l1-1 1 1-1 1zM653.65 263.39l1-1 1 1-1 1zM653.41 268.09l1-1 1 1-1 1zM652.97 276.54l1-1 1 1-1 1zM652.48 282.94l1-1 1 1-1 1zM652.86 265.36l1-1 1 1-1 1zM652.7 271.19l1-1 1 1-1 1zM650.39 266.06l1-1 1 1-1 1zM653.83 264.57l1-1 1 1-1 1zM654.87 262.52l1-1 1 1-1 1zM651.23 271.34l1-1 1 1-1 1zM653.26 271.49l1-1 1 1-1 1zM650.55 269.51l1-1 1 1-1 1zM652.38 277.17l1-1 1 1-1 1zM652.15 241.9l1-1 1 1-1 1zM652.15 283.6l1-1 1 1-1 1z" fill="none" stroke="#707070" stroke-width="0.5"/><line x1="653.15" y1="241.3" x2="653.15" y2="284.2" stroke="#5a5a5a" stroke-width="0.8"/><path d="M649.62 241.3h7.05M649.62 284.2h7.05" stroke="#333" stroke-width="0.8" fill="none"/><rect x="646.5" y="249.2" width="13.3" height="12.5" fill="#fff" stroke="#3a3a3a" stroke-width="0.9"/><path d="M648.26 257.96l.9-.9 .9 .9-.9 .9zM647.94 257.94l.9-.9 .9 .9-.9 .9zM649.9 259.07l.9-.9 .9 .9-.9 .9zM656.93 256.07l.9-.9 .9 .9-.9 .9zM657 260.41l.9-.9 .9 .9-.9 .9zM652.73 258.02l.9-.9 .9 .9-.9 .9zM653.77 250.8l.9-.9 .9 .9-.9 .9z" fill="none" stroke="#c4c4c4" stroke-width="0.4"/><line x1="646.5" y1="253.6" x2="659.8" y2="253.6" stroke="#777" stroke-width="0.7"/>
<path d="M665.88 254.98l1.05-1.05 1.05 1.05-1.05 1.05zM667.32 245.89l1.05-1.05 1.05 1.05-1.05 1.05zM667.63 246.47l1.05-1.05 1.05 1.05-1.05 1.05zM663.38 254.11l1.05-1.05 1.05 1.05-1.05 1.05zM662.65 255.83l1.05-1.05 1.05 1.05-1.05 1.05zM668.7 254.46l1.05-1.05 1.05 1.05-1.05 1.05zM668.85 250.87l1.05-1.05 1.05 1.05-1.05 1.05zM668.13 248.19l1.05-1.05 1.05 1.05-1.05 1.05zM668.35 250.49l1.05-1.05 1.05 1.05-1.05 1.05zM666.15 247.7l1.05-1.05 1.05 1.05-1.05 1.05zM663.43 255.45l1.05-1.05 1.05 1.05-1.05 1.05zM664.38 253.2l1.05-1.05 1.05 1.05-1.05 1.05zM665.4 251.82l1.05-1.05 1.05 1.05-1.05 1.05zM668.32 255.06l1.05-1.05 1.05 1.05-1.05 1.05zM664.84 253.11l1.05-1.05 1.05 1.05-1.05 1.05zM665.26 251.79l1.05-1.05 1.05 1.05-1.05 1.05zM670.31 254.93l1.05-1.05 1.05 1.05-1.05 1.05zM671.61 256.28l1.05-1.05 1.05 1.05-1.05 1.05zM666.84 253.25l1.05-1.05 1.05 1.05-1.05 1.05zM662.29 256.17l1.05-1.05 1.05 1.05-1.05 1.05zM666.09 250.71l1.05-1.05 1.05 1.05-1.05 1.05zM661.55 256.29l1.05-1.05 1.05 1.05-1.05 1.05zM664.63 253.59l1.05-1.05 1.05 1.05-1.05 1.05zM664.94 251.2l1.05-1.05 1.05 1.05-1.05 1.05zM667.03 250.6l1.05-1.05 1.05 1.05-1.05 1.05zM667.07 244.2l1.05-1.05 1.05 1.05-1.05 1.05zM662.97 255.63l1.05-1.05 1.05 1.05-1.05 1.05zM664.79 251.28l1.05-1.05 1.05 1.05-1.05 1.05zM669.28 250.92l1.05-1.05 1.05 1.05-1.05 1.05zM664.81 251.97l1.05-1.05 1.05 1.05-1.05 1.05zM665.73 254.8l1.05-1.05 1.05 1.05-1.05 1.05zM663.65 255.31l1.05-1.05 1.05 1.05-1.05 1.05zM668.99 251.12l1.05-1.05 1.05 1.05-1.05 1.05zM670.87 253.58l1.05-1.05 1.05 1.05-1.05 1.05zM668.21 252.46l1.05-1.05 1.05 1.05-1.05 1.05zM665.57 249.8l1.05-1.05 1.05 1.05-1.05 1.05zM665.12 255.19l1.05-1.05 1.05 1.05-1.05 1.05zM666.84 247.47l1.05-1.05 1.05 1.05-1.05 1.05zM667.73 277.86l1.05-1.05 1.05 1.05-1.05 1.05zM669.09 282.42l1.05-1.05 1.05 1.05-1.05 1.05zM665.01 279.58l1.05-1.05 1.05 1.05-1.05 1.05zM669.9 281.04l1.05-1.05 1.05 1.05-1.05 1.05zM668.97 282.87l1.05-1.05 1.05 1.05-1.05 1.05zM666.8 286.47l1.05-1.05 1.05 1.05-1.05 1.05zM666.61 282.41l1.05-1.05 1.05 1.05-1.05 1.05zM667.17 279.91l1.05-1.05 1.05 1.05-1.05 1.05zM664.64 280.46l1.05-1.05 1.05 1.05-1.05 1.05zM667.7 281.43l1.05-1.05 1.05 1.05-1.05 1.05zM670 278.64l1.05-1.05 1.05 1.05-1.05 1.05zM665.07 277.96l1.05-1.05 1.05 1.05-1.05 1.05zM663.58 278.65l1.05-1.05 1.05 1.05-1.05 1.05zM667.91 278.97l1.05-1.05 1.05 1.05-1.05 1.05zM669.35 280.48l1.05-1.05 1.05 1.05-1.05 1.05zM666.9 288.6l1.05-1.05 1.05 1.05-1.05 1.05zM666.64 286.25l1.05-1.05 1.05 1.05-1.05 1.05zM667.09 283.22l1.05-1.05 1.05 1.05-1.05 1.05zM671 278.55l1.05-1.05 1.05 1.05-1.05 1.05zM666.1 280.17l1.05-1.05 1.05 1.05-1.05 1.05zM668.95 279.23l1.05-1.05 1.05 1.05-1.05 1.05zM663.03 278.9l1.05-1.05 1.05 1.05-1.05 1.05zM668.42 283.87l1.05-1.05 1.05 1.05-1.05 1.05zM664.26 278.7l1.05-1.05 1.05 1.05-1.05 1.05zM666.49 280.44l1.05-1.05 1.05 1.05-1.05 1.05zM664.56 277.86l1.05-1.05 1.05 1.05-1.05 1.05zM666.58 286.1l1.05-1.05 1.05 1.05-1.05 1.05zM665.99 277.57l1.05-1.05 1.05 1.05-1.05 1.05zM667.04 278.06l1.05-1.05 1.05 1.05-1.05 1.05zM666.48 280.37l1.05-1.05 1.05 1.05-1.05 1.05zM665.44 278.5l1.05-1.05 1.05 1.05-1.05 1.05zM663.7 277.43l1.05-1.05 1.05 1.05-1.05 1.05zM664.64 280.28l1.05-1.05 1.05 1.05-1.05 1.05zM671.44 278.16l1.05-1.05 1.05 1.05-1.05 1.05zM667.55 278.53l1.05-1.05 1.05 1.05-1.05 1.05zM667 244.5l1.05-1.05 1.05 1.05-1.05 1.05zM667 288.4l1.05-1.05 1.05 1.05-1.05 1.05z" fill="#262626" fill-opacity="0.85"/><line x1="668.05" y1="243.9" x2="668.05" y2="289" stroke="#3a3a3a" stroke-width="0.85"/><path d="M664.52 243.9h7.05M664.52 289h7.05" stroke="#222" stroke-width="0.8" fill="none"/><rect x="661.4" y="256.4" width="13.3" height="21" fill="#828282" stroke="#1e1e1e" stroke-width="0.9"/><path d="M665.22 263.93l.9-.9 .9 .9-.9 .9zM671.18 264.01l.9-.9 .9 .9-.9 .9zM669.17 274.03l.9-.9 .9 .9-.9 .9zM663.54 274.46l.9-.9 .9 .9-.9 .9zM670.21 273.07l.9-.9 .9 .9-.9 .9zM665.33 274.26l.9-.9 .9 .9-.9 .9zM669.53 258.61l.9-.9 .9 .9-.9 .9zM666.23 273.84l.9-.9 .9 .9-.9 .9zM667.03 276.36l.9-.9 .9 .9-.9 .9zM664.24 264.54l.9-.9 .9 .9-.9 .9z" fill="none" stroke="#a9a9a9" stroke-width="0.4"/><line x1="661.4" y1="273.3" x2="674.7" y2="273.3" stroke="#3a3a3a" stroke-width="0.7"/>
<text x="667.5" y="241.35" text-anchor="middle" font-size="11.4" fill="#444">*</text>
<path d="M415.6 221.6V311.4H685" fill="none" stroke="#222" stroke-width="1.05"/><line x1="415.6" y1="221.6" x2="420.6" y2="221.6" stroke="#222" stroke-width="1"/><line x1="415.6" y1="234.15" x2="418.9" y2="234.15" stroke="#1a1a1a" stroke-width="0.85"/><line x1="415.6" y1="230.99" x2="418.9" y2="230.99" stroke="#1a1a1a" stroke-width="0.85"/><line x1="415.6" y1="228.75" x2="418.9" y2="228.75" stroke="#1a1a1a" stroke-width="0.85"/><line x1="415.6" y1="227.01" x2="418.9" y2="227.01" stroke="#1a1a1a" stroke-width="0.85"/><line x1="415.6" y1="225.58" x2="418.9" y2="225.58" stroke="#1a1a1a" stroke-width="0.85"/><line x1="415.6" y1="224.38" x2="418.9" y2="224.38" stroke="#1a1a1a" stroke-width="0.85"/><line x1="415.6" y1="223.34" x2="418.9" y2="223.34" stroke="#1a1a1a" stroke-width="0.85"/><line x1="415.6" y1="222.42" x2="418.9" y2="222.42" stroke="#1a1a1a" stroke-width="0.85"/><line x1="415.6" y1="239.56" x2="420.6" y2="239.56" stroke="#222" stroke-width="1"/><line x1="415.6" y1="252.11" x2="418.9" y2="252.11" stroke="#1a1a1a" stroke-width="0.85"/><line x1="415.6" y1="248.95" x2="418.9" y2="248.95" stroke="#1a1a1a" stroke-width="0.85"/><line x1="415.6" y1="246.71" x2="418.9" y2="246.71" stroke="#1a1a1a" stroke-width="0.85"/><line x1="415.6" y1="244.97" x2="418.9" y2="244.97" stroke="#1a1a1a" stroke-width="0.85"/><line x1="415.6" y1="243.54" x2="418.9" y2="243.54" stroke="#1a1a1a" stroke-width="0.85"/><line x1="415.6" y1="242.34" x2="418.9" y2="242.34" stroke="#1a1a1a" stroke-width="0.85"/><line x1="415.6" y1="241.3" x2="418.9" y2="241.3" stroke="#1a1a1a" stroke-width="0.85"/><line x1="415.6" y1="240.38" x2="418.9" y2="240.38" stroke="#1a1a1a" stroke-width="0.85"/><line x1="415.6" y1="257.52" x2="420.6" y2="257.52" stroke="#222" stroke-width="1"/><line x1="415.6" y1="270.07" x2="418.9" y2="270.07" stroke="#1a1a1a" stroke-width="0.85"/><line x1="415.6" y1="266.91" x2="418.9" y2="266.91" stroke="#1a1a1a" stroke-width="0.85"/><line x1="415.6" y1="264.67" x2="418.9" y2="264.67" stroke="#1a1a1a" stroke-width="0.85"/><line x1="415.6" y1="262.93" x2="418.9" y2="262.93" stroke="#1a1a1a" stroke-width="0.85"/><line x1="415.6" y1="261.5" x2="418.9" y2="261.5" stroke="#1a1a1a" stroke-width="0.85"/><line x1="415.6" y1="260.3" x2="418.9" y2="260.3" stroke="#1a1a1a" stroke-width="0.85"/><line x1="415.6" y1="259.26" x2="418.9" y2="259.26" stroke="#1a1a1a" stroke-width="0.85"/><line x1="415.6" y1="258.34" x2="418.9" y2="258.34" stroke="#1a1a1a" stroke-width="0.85"/><line x1="415.6" y1="275.48" x2="420.6" y2="275.48" stroke="#222" stroke-width="1"/><line x1="415.6" y1="288.03" x2="418.9" y2="288.03" stroke="#1a1a1a" stroke-width="0.85"/><line x1="415.6" y1="284.87" x2="418.9" y2="284.87" stroke="#1a1a1a" stroke-width="0.85"/><line x1="415.6" y1="282.63" x2="418.9" y2="282.63" stroke="#1a1a1a" stroke-width="0.85"/><line x1="415.6" y1="280.89" x2="418.9" y2="280.89" stroke="#1a1a1a" stroke-width="0.85"/><line x1="415.6" y1="279.46" x2="418.9" y2="279.46" stroke="#1a1a1a" stroke-width="0.85"/><line x1="415.6" y1="278.26" x2="418.9" y2="278.26" stroke="#1a1a1a" stroke-width="0.85"/><line x1="415.6" y1="277.22" x2="418.9" y2="277.22" stroke="#1a1a1a" stroke-width="0.85"/><line x1="415.6" y1="276.3" x2="418.9" y2="276.3" stroke="#1a1a1a" stroke-width="0.85"/><line x1="415.6" y1="293.44" x2="420.6" y2="293.44" stroke="#222" stroke-width="1"/><line x1="415.6" y1="305.99" x2="418.9" y2="305.99" stroke="#1a1a1a" stroke-width="0.85"/><line x1="415.6" y1="302.83" x2="418.9" y2="302.83" stroke="#1a1a1a" stroke-width="0.85"/><line x1="415.6" y1="300.59" x2="418.9" y2="300.59" stroke="#1a1a1a" stroke-width="0.85"/><line x1="415.6" y1="298.85" x2="418.9" y2="298.85" stroke="#1a1a1a" stroke-width="0.85"/><line x1="415.6" y1="297.42" x2="418.9" y2="297.42" stroke="#1a1a1a" stroke-width="0.85"/><line x1="415.6" y1="296.22" x2="418.9" y2="296.22" stroke="#1a1a1a" stroke-width="0.85"/><line x1="415.6" y1="295.18" x2="418.9" y2="295.18" stroke="#1a1a1a" stroke-width="0.85"/><line x1="415.6" y1="294.26" x2="418.9" y2="294.26" stroke="#1a1a1a" stroke-width="0.85"/><line x1="415.6" y1="311.4" x2="420.6" y2="311.4" stroke="#222" stroke-width="1"/><line x1="440.7" y1="306.1" x2="440.7" y2="311.4" stroke="#333" stroke-width="0.9"/><line x1="484.7" y1="306.1" x2="484.7" y2="311.4" stroke="#333" stroke-width="0.9"/><line x1="528.5" y1="306.1" x2="528.5" y2="311.4" stroke="#333" stroke-width="0.9"/><line x1="572.3" y1="306.1" x2="572.3" y2="311.4" stroke="#333" stroke-width="0.9"/><line x1="615.9" y1="306.1" x2="615.9" y2="311.4" stroke="#333" stroke-width="0.9"/><line x1="659.8" y1="306.1" x2="659.8" y2="311.4" stroke="#333" stroke-width="0.9"/>
<text x="411.6" y="225.1" text-anchor="end" font-size="11.5" fill="#1a1a1a">1000</text><text x="411.6" y="243.06" text-anchor="end" font-size="11.5" fill="#1a1a1a">100</text><text x="411.6" y="261.02" text-anchor="end" font-size="11.5" fill="#1a1a1a">10</text><text x="411.6" y="278.98" text-anchor="end" font-size="11.5" fill="#1a1a1a">1</text><text x="411.6" y="296.94" text-anchor="end" font-size="11.5" fill="#1a1a1a">0.1</text><text x="411.6" y="314.9" text-anchor="end" font-size="11.5" fill="#1a1a1a">0.01</text>
<text transform="translate(443.9 316.2) rotate(-90)" text-anchor="end" font-size="9.0" font-style="italic" letter-spacing="0.1" fill="#111" stroke="#111" stroke-width="0.08">GCNT1</text><text transform="translate(487.9 316.2) rotate(-90)" text-anchor="end" font-size="9.0" font-style="italic" letter-spacing="0.1" fill="#111" stroke="#111" stroke-width="0.08">GCNT3</text><text transform="translate(531.7 316.2) rotate(-90)" text-anchor="end" font-size="9.0" font-style="italic" letter-spacing="0.1" fill="#111" stroke="#111" stroke-width="0.08">B3GNT6</text><text transform="translate(575.5 316.2) rotate(-90)" text-anchor="end" font-size="9.0" font-style="italic" letter-spacing="0.1" fill="#111" stroke="#111" stroke-width="0.08">GALNT4</text><text transform="translate(619.1 316.2) rotate(-90)" text-anchor="end" font-size="9.0" font-style="italic" letter-spacing="0.1" fill="#111" stroke="#111" stroke-width="0.08">ST6GALNAC1</text><text transform="translate(663 316.2) rotate(-90)" text-anchor="end" font-size="9.0" font-style="italic" letter-spacing="0.1" fill="#111" stroke="#111" stroke-width="0.08">FUT2</text>
</g>
<g id="pie-b">
<path d="M453.4 106.2L453.4 36.2A70 70 0 0 1 512.89 143.09Z" fill="#fff" stroke="#262626" stroke-width="0.62" stroke-linejoin="round"/><path d="M453.4 106.2L512.89 143.09A70 70 0 0 1 399 150.25Z" fill="#969696" stroke="#262626" stroke-width="0.62" stroke-linejoin="round"/><path d="M453.4 106.2L399 150.25A70 70 0 0 1 384.3 95.01Z" fill="#fff" stroke="#262626" stroke-width="0.62" stroke-linejoin="round"/><path d="M453.4 106.2L384.3 95.01A70 70 0 0 1 393.09 70.67Z" fill="#fff" stroke="#262626" stroke-width="0.62" stroke-linejoin="round"/><path d="M453.4 106.2L393.09 70.67A70 70 0 0 1 406.65 54.1Z" fill="#fff" stroke="#262626" stroke-width="0.62" stroke-linejoin="round"/><path d="M453.4 106.2L406.65 54.1A70 70 0 0 1 422.49 43.39Z" fill="#fff" stroke="#262626" stroke-width="0.62" stroke-linejoin="round"/><path d="M453.4 106.2L422.49 43.39A70 70 0 0 1 439.8 37.53Z" fill="#969696" stroke="#262626" stroke-width="0.62" stroke-linejoin="round"/><path d="M453.4 106.2L439.8 37.53A70 70 0 0 1 452.42 36.21Z" fill="#fff" stroke="#262626" stroke-width="0.62" stroke-linejoin="round"/><path d="M453.4 106.2L452.42 36.21A70 70 0 0 1 452.79 36.2Z" fill="#fff" stroke="#262626" stroke-width="0.3" stroke-linejoin="round"/><path d="M453.4 106.2L452.79 36.2A70 70 0 0 1 453.16 36.2Z" fill="#fff" stroke="#262626" stroke-width="0.3" stroke-linejoin="round"/><path d="M453.4 106.2L453.16 36.2A70 70 0 0 1 453.4 36.2Z" fill="#fff" stroke="#262626" stroke-width="0.3" stroke-linejoin="round"/>
<g transform="translate(486.6 86.8) scale(0.25)"><text x="0" y="0" text-anchor="middle" font-size="18" fill="#111">MUC13; 34%</text></g>
<g transform="translate(454.8 147.1) scale(0.25)"><text x="0" y="0" text-anchor="middle" font-size="18" fill="#111">MUC2; 30%</text></g>
<g transform="translate(410 116.6) scale(0.25)"><text x="0" y="0" text-anchor="middle" font-size="18" fill="#111">MUC1; 13%</text></g>
<g transform="translate(403 89.2) scale(0.25)"><text x="0" y="0" text-anchor="middle" font-size="18" fill="#111">MUC4; 6%</text></g>
<g transform="translate(408.3 69.2) scale(0.25)"><text x="0" y="0" text-anchor="middle" font-size="18" fill="#111">MUC12;</text></g>
<g transform="translate(408 74.2) scale(0.25)"><text x="0" y="0" text-anchor="middle" font-size="18" fill="#111">5%</text></g>
<g transform="translate(417.9 56) scale(0.25)"><text x="0" y="0" text-anchor="middle" font-size="18" fill="#111">MUC3A;</text></g>
<g transform="translate(417.4 61.1) scale(0.25)"><text x="0" y="0" text-anchor="middle" font-size="18" fill="#111">4%</text></g>
<g transform="translate(431.4 47.4) scale(0.25)"><text x="0" y="0" text-anchor="middle" font-size="18" fill="#111">MUC5B;</text></g>
<g transform="translate(431.4 52.5) scale(0.25)"><text x="0" y="0" text-anchor="middle" font-size="18" fill="#111">4%</text></g>
<g transform="translate(391 36.6) scale(0.25)"><text x="0" y="0" text-anchor="start" font-size="18" fill="#111">MUC20; 3%</text></g>
<g transform="translate(411.6 28) scale(0.25)"><text x="0" y="0" text-anchor="start" font-size="18" fill="#111">MUC17; 0.2%</text></g>
<g transform="translate(446.6 27.3) scale(0.25)"><text x="0" y="0" text-anchor="start" font-size="18" fill="#111">MUC6; 0.03%</text></g>
<g transform="translate(481.7 28) scale(0.25)"><text x="0" y="0" text-anchor="start" font-size="18" fill="#111">MUC21; 0.02%</text></g>
<path d="M417.1 35.4L452.5 36.1M439.2 27.7L452.5 36M445.7 24.2L452.7 36M481.1 27.7L453.5 36" fill="none" stroke="#333" stroke-width="0.5"/>
</g>
<g id="pie-c">
<path d="M612 106.4L612 37.4A69 69 0 0 1 643.75 167.66Z" fill="#fff" stroke="#262626" stroke-width="0.62" stroke-linejoin="round"/><path d="M612 106.4L643.75 167.66A69 69 0 0 1 578.55 166.75Z" fill="#fff" stroke="#262626" stroke-width="0.62" stroke-linejoin="round"/><path d="M612 106.4L578.55 166.75A69 69 0 0 1 544.24 119.45Z" fill="#969696" stroke="#262626" stroke-width="0.62" stroke-linejoin="round"/><path d="M612 106.4L544.24 119.45A69 69 0 0 1 550.91 74.33Z" fill="#fff" stroke="#262626" stroke-width="0.62" stroke-linejoin="round"/><path d="M612 106.4L550.91 74.33A69 69 0 0 1 570.57 51.22Z" fill="#fff" stroke="#262626" stroke-width="0.62" stroke-linejoin="round"/><path d="M612 106.4L570.57 51.22A69 69 0 0 1 585.37 42.74Z" fill="#969696" stroke="#262626" stroke-width="0.62" stroke-linejoin="round"/><path d="M612 106.4L585.37 42.74A69 69 0 0 1 597.89 38.86Z" fill="#fff" stroke="#262626" stroke-width="0.62" stroke-linejoin="round"/><path d="M612 106.4L597.89 38.86A69 69 0 0 1 610.68 37.41Z" fill="#fff" stroke="#262626" stroke-width="0.62" stroke-linejoin="round"/><path d="M612 106.4L610.68 37.41A69 69 0 0 1 611.16 37.41Z" fill="#fff" stroke="#262626" stroke-width="0.3" stroke-linejoin="round"/><path d="M612 106.4L611.16 37.41A69 69 0 0 1 611.64 37.4Z" fill="#fff" stroke="#262626" stroke-width="0.3" stroke-linejoin="round"/><path d="M612 106.4L611.64 37.4A69 69 0 0 1 612 37.4Z" fill="#fff" stroke="#262626" stroke-width="0.3" stroke-linejoin="round"/>
<line x1="611.7" y1="37.4" x2="611.7" y2="80" stroke="#222" stroke-width="0.8"/>
<g transform="translate(646.5 100.6) scale(0.25)"><text x="0" y="0" text-anchor="middle" font-size="18" fill="#111">MUC1; 43%</text></g>
<g transform="translate(612 147.1) scale(0.25)"><text x="0" y="0" text-anchor="middle" font-size="18" fill="#111">MUC20; 16%</text></g>
<g transform="translate(578.1 131.2) scale(0.25)"><text x="0" y="0" text-anchor="middle" font-size="18" fill="#111">MUC2; 14%</text></g>
<g transform="translate(563.9 101.8) scale(0.25)"><text x="0" y="0" text-anchor="middle" font-size="18" fill="#111">MUC13; 11%</text></g>
<g transform="translate(569.8 73.5) scale(0.25)"><text x="0" y="0" text-anchor="middle" font-size="18" fill="#111">MUC3A;</text></g>
<g transform="translate(570.3 78.7) scale(0.25)"><text x="0" y="0" text-anchor="middle" font-size="18" fill="#111">7%</text></g>
<g transform="translate(581.1 54.3) scale(0.25)"><text x="0" y="0" text-anchor="middle" font-size="18" fill="#111">MUC5B;</text></g>
<g transform="translate(581.6 59.5) scale(0.25)"><text x="0" y="0" text-anchor="middle" font-size="18" fill="#111">4%</text></g>
<g transform="translate(593.6 45.9) scale(0.25)"><text x="0" y="0" text-anchor="middle" font-size="18" fill="#111">MUC4;</text></g>
<g transform="translate(593.3 51.3) scale(0.25)"><text x="0" y="0" text-anchor="middle" font-size="18" fill="#111">3%</text></g>
<g transform="translate(549.2 36.8) scale(0.25)"><text x="0" y="0" text-anchor="start" font-size="18" fill="#111">MUC12; 3%</text></g>
<g transform="translate(568 28.7) scale(0.25)"><text x="0" y="0" text-anchor="start" font-size="18" fill="#111">MUC21; 0.2%</text></g>
<g transform="translate(608 28.2) scale(0.25)"><text x="0" y="0" text-anchor="start" font-size="18" fill="#111">MUC6; 0.2%</text></g>
<g transform="translate(639.7 28.2) scale(0.25)"><text x="0" y="0" text-anchor="start" font-size="18" fill="#111">MUC17; 0.07%</text></g>
<path d="M575.2 36L609.2 37.3M597.2 28.3L610.3 37.3M639.3 27.6L612 37.2" fill="none" stroke="#333" stroke-width="0.5"/>
</g>
<g id="heat-f"><rect x="36.1" y="372.8" width="18.27" height="19.6" fill="#829ad5"/><rect x="54.32" y="372.8" width="18.27" height="19.6" fill="#8098d4"/><rect x="72.54" y="372.8" width="18.27" height="19.6" fill="#7c93d1"/><rect x="90.76" y="372.8" width="18.27" height="19.6" fill="#7289cc"/><rect x="108.98" y="372.8" width="18.27" height="19.6" fill="#7c93d1"/><rect x="127.2" y="372.8" width="18.27" height="19.6" fill="#d1dbef"/><rect x="145.42" y="372.8" width="18.27" height="19.6" fill="#829ad5"/><rect x="163.64" y="372.8" width="18.27" height="19.6" fill="#8199d4"/><rect x="181.86" y="372.8" width="18.27" height="19.6" fill="#cfdaf0"/><rect x="200.08" y="372.8" width="18.27" height="19.6" fill="#7f96d3"/><rect x="218.3" y="372.8" width="18.27" height="19.6" fill="#dbdde1"/><rect x="236.52" y="372.8" width="18.27" height="19.6" fill="#8aa3da"/><rect x="254.74" y="372.8" width="18.27" height="19.6" fill="#869ed8"/><rect x="272.96" y="372.8" width="18.27" height="19.6" fill="#748bcd"/><rect x="291.18" y="372.8" width="18.27" height="19.6" fill="#7f96d3"/><rect x="309.4" y="372.8" width="18.27" height="19.6" fill="#778ece"/><rect x="327.62" y="372.8" width="18.27" height="19.6" fill="#758cce"/><rect x="36.1" y="392.35" width="18.27" height="19.6" fill="#bdcfee"/><rect x="54.32" y="392.35" width="18.27" height="19.6" fill="#d1dbef"/><rect x="72.54" y="392.35" width="18.27" height="19.6" fill="#c6d5ef"/><rect x="90.76" y="392.35" width="18.27" height="19.6" fill="#abc4e8"/><rect x="108.98" y="392.35" width="18.27" height="19.6" fill="#bdcfee"/><rect x="127.2" y="392.35" width="18.27" height="19.6" fill="#dfdcd9"/><rect x="145.42" y="392.35" width="18.27" height="19.6" fill="#d5ddec"/><rect x="163.64" y="392.35" width="18.27" height="19.6" fill="#cfdaf0"/><rect x="181.86" y="392.35" width="18.27" height="19.6" fill="#dedcdb"/><rect x="200.08" y="392.35" width="18.27" height="19.6" fill="#bed0ee"/><rect x="218.3" y="392.35" width="18.27" height="19.6" fill="#e7d8cf"/><rect x="236.52" y="392.35" width="18.27" height="19.6" fill="#ccd8f0"/><rect x="254.74" y="392.35" width="18.27" height="19.6" fill="#dadde3"/><rect x="272.96" y="392.35" width="18.27" height="19.6" fill="#d0dbf0"/><rect x="291.18" y="392.35" width="18.27" height="19.6" fill="#b6cbec"/><rect x="309.4" y="392.35" width="18.27" height="19.6" fill="#bed0ee"/><rect x="327.62" y="392.35" width="18.27" height="19.6" fill="#cfdaf0"/><rect x="36.1" y="411.9" width="18.27" height="19.6" fill="#8aa3da"/><rect x="54.32" y="411.9" width="18.27" height="19.6" fill="#8aa3da"/><rect x="72.54" y="411.9" width="18.27" height="19.6" fill="#7d94d2"/><rect x="90.76" y="411.9" width="18.27" height="19.6" fill="#8199d4"/><rect x="108.98" y="411.9" width="18.27" height="19.6" fill="#8ca5db"/><rect x="127.2" y="411.9" width="18.27" height="19.6" fill="#d9dde4"/><rect x="145.42" y="411.9" width="18.27" height="19.6" fill="#8098d4"/><rect x="163.64" y="411.9" width="18.27" height="19.6" fill="#7289cc"/><rect x="181.86" y="411.9" width="18.27" height="19.6" fill="#ccd8f0"/><rect x="200.08" y="411.9" width="18.27" height="19.6" fill="#7990cf"/><rect x="218.3" y="411.9" width="18.27" height="19.6" fill="#dedcdb"/><rect x="236.52" y="411.9" width="18.27" height="19.6" fill="#89a2d9"/><rect x="254.74" y="411.9" width="18.27" height="19.6" fill="#839cd6"/><rect x="272.96" y="411.9" width="18.27" height="19.6" fill="#748bcd"/><rect x="291.18" y="411.9" width="18.27" height="19.6" fill="#8199d4"/><rect x="309.4" y="411.9" width="18.27" height="19.6" fill="#8aa3da"/><rect x="327.62" y="411.9" width="18.27" height="19.6" fill="#859dd7"/><rect x="36.1" y="431.45" width="18.27" height="19.6" fill="#7d94d2"/><rect x="54.32" y="431.45" width="18.27" height="19.6" fill="#7f96d3"/><rect x="72.54" y="431.45" width="18.27" height="19.6" fill="#869ed8"/><rect x="90.76" y="431.45" width="18.27" height="19.6" fill="#7c93d1"/><rect x="108.98" y="431.45" width="18.27" height="19.6" fill="#859dd7"/><rect x="127.2" y="431.45" width="18.27" height="19.6" fill="#dadde3"/><rect x="145.42" y="431.45" width="18.27" height="19.6" fill="#7f96d3"/><rect x="163.64" y="431.45" width="18.27" height="19.6" fill="#7087ca"/><rect x="181.86" y="431.45" width="18.27" height="19.6" fill="#cdd9f0"/><rect x="200.08" y="431.45" width="18.27" height="19.6" fill="#8fa8dc"/><rect x="218.3" y="431.45" width="18.27" height="19.6" fill="#d9dde4"/><rect x="236.52" y="431.45" width="18.27" height="19.6" fill="#87a0d8"/><rect x="254.74" y="431.45" width="18.27" height="19.6" fill="#8098d4"/><rect x="272.96" y="431.45" width="18.27" height="19.6" fill="#778ece"/><rect x="291.18" y="431.45" width="18.27" height="19.6" fill="#748bcd"/><rect x="309.4" y="431.45" width="18.27" height="19.6" fill="#839cd6"/><rect x="327.62" y="431.45" width="18.27" height="19.6" fill="#7289cc"/><rect x="36.1" y="451" width="18.27" height="19.6" fill="#dcdddf"/><rect x="54.32" y="451" width="18.27" height="19.6" fill="#dedcdb"/><rect x="72.54" y="451" width="18.27" height="19.6" fill="#dedcdb"/><rect x="90.76" y="451" width="18.27" height="19.6" fill="#dcdddf"/><rect x="108.98" y="451" width="18.27" height="19.6" fill="#dddddd"/><rect x="127.2" y="451" width="18.27" height="19.6" fill="#dbdde1"/><rect x="145.42" y="451" width="18.27" height="19.6" fill="#dddddd"/><rect x="163.64" y="451" width="18.27" height="19.6" fill="#dedcdb"/><rect x="181.86" y="451" width="18.27" height="19.6" fill="#dadde3"/><rect x="200.08" y="451" width="18.27" height="19.6" fill="#e9d6cb"/><rect x="218.3" y="451" width="18.27" height="19.6" fill="#d2dcee"/><rect x="236.52" y="451" width="18.27" height="19.6" fill="#e8d7cd"/><rect x="254.74" y="451" width="18.27" height="19.6" fill="#dedcdb"/><rect x="272.96" y="451" width="18.27" height="19.6" fill="#e3dad4"/><rect x="291.18" y="451" width="18.27" height="19.6" fill="#e6d8d1"/><rect x="309.4" y="451" width="18.27" height="19.6" fill="#e6d8d1"/><rect x="327.62" y="451" width="18.27" height="19.6" fill="#dcdddf"/><rect x="36.1" y="470.55" width="18.27" height="19.6" fill="#f7b89e"/><rect x="54.32" y="470.55" width="18.27" height="19.6" fill="#eb8368"/><rect x="72.54" y="470.55" width="18.27" height="19.6" fill="#e97a60"/><rect x="90.76" y="470.55" width="18.27" height="19.6" fill="#f4a082"/><rect x="108.98" y="470.55" width="18.27" height="19.6" fill="#f39c7e"/><rect x="127.2" y="470.55" width="18.27" height="19.6" fill="#e8d7cd"/><rect x="145.42" y="470.55" width="18.27" height="19.6" fill="#ef9174"/><rect x="163.64" y="470.55" width="18.27" height="19.6" fill="#ef8e72"/><rect x="181.86" y="470.55" width="18.27" height="19.6" fill="#f5c5af"/><rect x="200.08" y="470.55" width="18.27" height="19.6" fill="#f39e80"/><rect x="218.3" y="470.55" width="18.27" height="19.6" fill="#dbdde1"/><rect x="236.52" y="470.55" width="18.27" height="19.6" fill="#f5ab8f"/><rect x="254.74" y="470.55" width="18.27" height="19.6" fill="#f39c7e"/><rect x="272.96" y="470.55" width="18.27" height="19.6" fill="#e46e56"/><rect x="291.18" y="470.55" width="18.27" height="19.6" fill="#eb8368"/><rect x="309.4" y="470.55" width="18.27" height="19.6" fill="#ea7e64"/><rect x="327.62" y="470.55" width="18.27" height="19.6" fill="#ef8e72"/><path d="M54.32 372.8V490.1M72.54 372.8V490.1M90.76 372.8V490.1M108.98 372.8V490.1M127.2 372.8V490.1M145.42 372.8V490.1M163.64 372.8V490.1M181.86 372.8V490.1M200.08 372.8V490.1M218.3 372.8V490.1M236.52 372.8V490.1M254.74 372.8V490.1M272.96 372.8V490.1M291.18 372.8V490.1M309.4 372.8V490.1M327.62 372.8V490.1M36.1 392.35H345.84M36.1 411.9H345.84M36.1 431.45H345.84M36.1 451H345.84M36.1 470.55H345.84" stroke="#fff" stroke-opacity="0.35" stroke-width="0.6" fill="none"/><g font-family='"Liberation Sans","DejaVu Sans",sans-serif' font-size="16.8" text-anchor="middle"><g transform="translate(45.21 382.57) scale(0.25)" fill="#fff" stroke="#fff" stroke-width="0.2"><text y="-6.4">0.55</text><text y="14.4">&lt;0.001</text></g><g transform="translate(63.43 382.57) scale(0.25)" fill="#fff" stroke="#fff" stroke-width="0.2"><text y="-6.4">0.57</text><text y="14.4">&lt;0.001</text></g><g transform="translate(81.65 382.57) scale(0.25)" fill="#fff" stroke="#fff" stroke-width="0.2"><text y="-6.4">0.61</text><text y="14.4">&lt;0.001</text></g><g transform="translate(99.87 382.57) scale(0.25)" fill="#fff" stroke="#fff" stroke-width="0.2"><text y="-6.4">0.67</text><text y="14.4">&lt;0.001</text></g><g transform="translate(118.09 382.57) scale(0.25)" fill="#fff" stroke="#fff" stroke-width="0.2"><text y="-6.4">0.61</text><text y="14.4">&lt;0.001</text></g><g transform="translate(136.31 382.57) scale(0.25)" fill="#111" stroke="#111" stroke-width="0.2"><text y="-6.4">0.12</text><text y="14.4">1.0</text></g><g transform="translate(154.53 382.57) scale(0.25)" fill="#fff" stroke="#fff" stroke-width="0.2"><text y="-6.4">0.55</text><text y="14.4">&lt;0.001</text></g><g transform="translate(172.75 382.57) scale(0.25)" fill="#fff" stroke="#fff" stroke-width="0.2"><text y="-6.4">0.56</text><text y="14.4">&lt;0.001</text></g><g transform="translate(190.97 382.57) scale(0.25)" fill="#111" stroke="#111" stroke-width="0.2"><text y="-6.4">0.14</text><text y="14.4">1.0</text></g><g transform="translate(209.19 382.57) scale(0.25)" fill="#fff" stroke="#fff" stroke-width="0.2"><text y="-6.4">0.58</text><text y="14.4">&lt;0.001</text></g><g transform="translate(227.41 382.57) scale(0.25)" fill="#111" stroke="#111" stroke-width="0.2"><text y="-6.4">0.02</text><text y="14.4">1.0</text></g><g transform="translate(245.63 382.57) scale(0.25)" fill="#111" stroke="#111" stroke-width="0.2"><text y="-6.4">0.49</text><text y="14.4">&lt;0.001</text></g><g transform="translate(263.85 382.57) scale(0.25)" fill="#111" stroke="#111" stroke-width="0.2"><text y="-6.4">0.52</text><text y="14.4">&lt;0.001</text></g><g transform="translate(282.07 382.57) scale(0.25)" fill="#fff" stroke="#fff" stroke-width="0.2"><text y="-6.4">0.66</text><text y="14.4">&lt;0.001</text></g><g transform="translate(300.29 382.57) scale(0.25)" fill="#fff" stroke="#fff" stroke-width="0.2"><text y="-6.4">0.58</text><text y="14.4">&lt;0.001</text></g><g transform="translate(318.51 382.57) scale(0.25)" fill="#fff" stroke="#fff" stroke-width="0.2"><text y="-6.4">0.64</text><text y="14.4">&lt;0.001</text></g><g transform="translate(336.73 382.57) scale(0.25)" fill="#fff" stroke="#fff" stroke-width="0.2"><text y="-6.4">0.65</text><text y="14.4">&lt;0.001</text></g><g transform="translate(45.21 402.12) scale(0.25)" fill="#111" stroke="#111" stroke-width="0.2"><text y="-6.4">0.27</text><text y="14.4">1.0</text></g><g transform="translate(63.43 402.12) scale(0.25)" fill="#111" stroke="#111" stroke-width="0.2"><text y="-6.4">0.12</text><text y="14.4">1.0</text></g><g transform="translate(81.65 402.12) scale(0.25)" fill="#111" stroke="#111" stroke-width="0.2"><text y="-6.4">0.2</text><text y="14.4">1.0</text></g><g transform="translate(99.87 402.12) scale(0.25)" fill="#111" stroke="#111" stroke-width="0.2"><text y="-6.4">0.35</text><text y="14.4">0.15</text></g><g transform="translate(118.09 402.12) scale(0.25)" fill="#111" stroke="#111" stroke-width="0.2"><text y="-6.4">0.27</text><text y="14.4">1.0</text></g><g transform="translate(136.31 402.12) scale(0.25)" fill="#111" stroke="#111" stroke-width="0.2"><text y="-6.4">-0.02</text><text y="14.4">1.0</text></g><g transform="translate(154.53 402.12) scale(0.25)" fill="#111" stroke="#111" stroke-width="0.2"><text y="-6.4">0.08</text><text y="14.4">1.0</text></g><g transform="translate(172.75 402.12) scale(0.25)" fill="#111" stroke="#111" stroke-width="0.2"><text y="-6.4">0.14</text><text y="14.4">1.0</text></g><g transform="translate(190.97 402.12) scale(0.25)" fill="#111" stroke="#111" stroke-width="0.2"><text y="-6.4">-0.01</text><text y="14.4">1.0</text></g><g transform="translate(209.19 402.12) scale(0.25)" fill="#111" stroke="#111" stroke-width="0.2"><text y="-6.4">0.26</text><text y="14.4">1.0</text></g><g transform="translate(227.41 402.12) scale(0.25)" fill="#111" stroke="#111" stroke-width="0.2"><text y="-6.4">-0.08</text><text y="14.4">1.0</text></g><g transform="translate(245.63 402.12) scale(0.25)" fill="#111" stroke="#111" stroke-width="0.2"><text y="-6.4">0.16</text><text y="14.4">1.0</text></g><g transform="translate(263.85 402.12) scale(0.25)" fill="#111" stroke="#111" stroke-width="0.2"><text y="-6.4">0.03</text><text y="14.4">1.0</text></g><g transform="translate(282.07 402.12) scale(0.25)" fill="#111" stroke="#111" stroke-width="0.2"><text y="-6.4">0.13</text><text y="14.4">1.0</text></g><g transform="translate(300.29 402.12) scale(0.25)" fill="#111" stroke="#111" stroke-width="0.2"><text y="-6.4">0.3</text><text y="14.4">0.82</text></g><g transform="translate(318.51 402.12) scale(0.25)" fill="#111" stroke="#111" stroke-width="0.2"><text y="-6.4">0.26</text><text y="14.4">1.0</text></g><g transform="translate(336.73 402.12) scale(0.25)" fill="#111" stroke="#111" stroke-width="0.2"><text y="-6.4">0.14</text><text y="14.4">1.0</text></g><g transform="translate(45.21 421.68) scale(0.25)" fill="#111" stroke="#111" stroke-width="0.2"><text y="-6.4">0.49</text><text y="14.4">&lt;0.001</text></g><g transform="translate(63.43 421.68) scale(0.25)" fill="#111" stroke="#111" stroke-width="0.2"><text y="-6.4">0.49</text><text y="14.4">&lt;0.001</text></g><g transform="translate(81.65 421.68) scale(0.25)" fill="#fff" stroke="#fff" stroke-width="0.2"><text y="-6.4">0.6</text><text y="14.4">&lt;0.001</text></g><g transform="translate(99.87 421.68) scale(0.25)" fill="#fff" stroke="#fff" stroke-width="0.2"><text y="-6.4">0.56</text><text y="14.4">&lt;0.001</text></g><g transform="translate(118.09 421.68) scale(0.25)" fill="#111" stroke="#111" stroke-width="0.2"><text y="-6.4">0.48</text><text y="14.4">&lt;0.001</text></g><g transform="translate(136.31 421.68) scale(0.25)" fill="#111" stroke="#111" stroke-width="0.2"><text y="-6.4">0.04</text><text y="14.4">1.0</text></g><g transform="translate(154.53 421.68) scale(0.25)" fill="#fff" stroke="#fff" stroke-width="0.2"><text y="-6.4">0.57</text><text y="14.4">&lt;0.001</text></g><g transform="translate(172.75 421.68) scale(0.25)" fill="#fff" stroke="#fff" stroke-width="0.2"><text y="-6.4">0.67</text><text y="14.4">&lt;0.001</text></g><g transform="translate(190.97 421.68) scale(0.25)" fill="#111" stroke="#111" stroke-width="0.2"><text y="-6.4">0.16</text><text y="14.4">1.0</text></g><g transform="translate(209.19 421.68) scale(0.25)" fill="#fff" stroke="#fff" stroke-width="0.2"><text y="-6.4">0.63</text><text y="14.4">&lt;0.001</text></g><g transform="translate(227.41 421.68) scale(0.25)" fill="#111" stroke="#111" stroke-width="0.2"><text y="-6.4">-0.01</text><text y="14.4">1.0</text></g><g transform="translate(245.63 421.68) scale(0.25)" fill="#111" stroke="#111" stroke-width="0.2"><text y="-6.4">0.5</text><text y="14.4">&lt;0.001</text></g><g transform="translate(263.85 421.68) scale(0.25)" fill="#fff" stroke="#fff" stroke-width="0.2"><text y="-6.4">0.54</text><text y="14.4">&lt;0.001</text></g><g transform="translate(282.07 421.68) scale(0.25)" fill="#fff" stroke="#fff" stroke-width="0.2"><text y="-6.4">0.66</text><text y="14.4">&lt;0.001</text></g><g transform="translate(300.29 421.68) scale(0.25)" fill="#fff" stroke="#fff" stroke-width="0.2"><text y="-6.4">0.56</text><text y="14.4">&lt;0.001</text></g><g transform="translate(318.51 421.68) scale(0.25)" fill="#111" stroke="#111" stroke-width="0.2"><text y="-6.4">0.49</text><text y="14.4">&lt;0.001</text></g><g transform="translate(336.73 421.68) scale(0.25)" fill="#fff" stroke="#fff" stroke-width="0.2"><text y="-6.4">0.53</text><text y="14.4">&lt;0.001</text></g><g transform="translate(45.21 441.23) scale(0.25)" fill="#fff" stroke="#fff" stroke-width="0.2"><text y="-6.4">0.6</text><text y="14.4">&lt;0.001</text></g><g transform="translate(63.43 441.23) scale(0.25)" fill="#fff" stroke="#fff" stroke-width="0.2"><text y="-6.4">0.58</text><text y="14.4">&lt;0.001</text></g><g transform="translate(81.65 441.23) scale(0.25)" fill="#111" stroke="#111" stroke-width="0.2"><text y="-6.4">0.52</text><text y="14.4">&lt;0.001</text></g><g transform="translate(99.87 441.23) scale(0.25)" fill="#fff" stroke="#fff" stroke-width="0.2"><text y="-6.4">0.61</text><text y="14.4">&lt;0.001</text></g><g transform="translate(118.09 441.23) scale(0.25)" fill="#111" stroke="#111" stroke-width="0.2"><text y="-6.4">0.53</text><text y="14.4">&lt;0.001</text></g><g transform="translate(136.31 441.23) scale(0.25)" fill="#111" stroke="#111" stroke-width="0.2"><text y="-6.4">0.03</text><text y="14.4">1.0</text></g><g transform="translate(154.53 441.23) scale(0.25)" fill="#fff" stroke="#fff" stroke-width="0.2"><text y="-6.4">0.58</text><text y="14.4">&lt;0.001</text></g><g transform="translate(172.75 441.23) scale(0.25)" fill="#fff" stroke="#fff" stroke-width="0.2"><text y="-6.4">0.68</text><text y="14.4">&lt;0.001</text></g><g transform="translate(190.97 441.23) scale(0.25)" fill="#111" stroke="#111" stroke-width="0.2"><text y="-6.4">0.15</text><text y="14.4">1.0</text></g><g transform="translate(209.19 441.23) scale(0.25)" fill="#111" stroke="#111" stroke-width="0.2"><text y="-6.4">0.47</text><text y="14.4">&lt;0.001</text></g><g transform="translate(227.41 441.23) scale(0.25)" fill="#111" stroke="#111" stroke-width="0.2"><text y="-6.4">0.04</text><text y="14.4">1.0</text></g><g transform="translate(245.63 441.23) scale(0.25)" fill="#111" stroke="#111" stroke-width="0.2"><text y="-6.4">0.51</text><text y="14.4">&lt;0.001</text></g><g transform="translate(263.85 441.23) scale(0.25)" fill="#fff" stroke="#fff" stroke-width="0.2"><text y="-6.4">0.57</text><text y="14.4">&lt;0.001</text></g><g transform="translate(282.07 441.23) scale(0.25)" fill="#fff" stroke="#fff" stroke-width="0.2"><text y="-6.4">0.64</text><text y="14.4">&lt;0.001</text></g><g transform="translate(300.29 441.23) scale(0.25)" fill="#fff" stroke="#fff" stroke-width="0.2"><text y="-6.4">0.66</text><text y="14.4">&lt;0.001</text></g><g transform="translate(318.51 441.23) scale(0.25)" fill="#fff" stroke="#fff" stroke-width="0.2"><text y="-6.4">0.54</text><text y="14.4">&lt;0.001</text></g><g transform="translate(336.73 441.23) scale(0.25)" fill="#fff" stroke="#fff" stroke-width="0.2"><text y="-6.4">0.67</text><text y="14.4">&lt;0.001</text></g><g transform="translate(45.21 460.78) scale(0.25)" fill="#111" stroke="#111" stroke-width="0.2"><text y="-6.4">0.01</text><text y="14.4">1.0</text></g><g transform="translate(63.43 460.78) scale(0.25)" fill="#111" stroke="#111" stroke-width="0.2"><text y="-6.4">-0.01</text><text y="14.4">1.0</text></g><g transform="translate(81.65 460.78) scale(0.25)" fill="#111" stroke="#111" stroke-width="0.2"><text y="-6.4">-0.01</text><text y="14.4">1.0</text></g><g transform="translate(99.87 460.78) scale(0.25)" fill="#111" stroke="#111" stroke-width="0.2"><text y="-6.4">0.01</text><text y="14.4">1.0</text></g><g transform="translate(118.09 460.78) scale(0.25)" fill="#111" stroke="#111" stroke-width="0.2"><text y="-6.4">0.0</text><text y="14.4">1.0</text></g><g transform="translate(136.31 460.78) scale(0.25)" fill="#111" stroke="#111" stroke-width="0.2"><text y="-6.4">0.02</text><text y="14.4">1.0</text></g><g transform="translate(154.53 460.78) scale(0.25)" fill="#111" stroke="#111" stroke-width="0.2"><text y="-6.4">0.0</text><text y="14.4">1.0</text></g><g transform="translate(172.75 460.78) scale(0.25)" fill="#111" stroke="#111" stroke-width="0.2"><text y="-6.4">-0.01</text><text y="14.4">1.0</text></g><g transform="translate(190.97 460.78) scale(0.25)" fill="#111" stroke="#111" stroke-width="0.2"><text y="-6.4">0.03</text><text y="14.4">1.0</text></g><g transform="translate(209.19 460.78) scale(0.25)" fill="#111" stroke="#111" stroke-width="0.2"><text y="-6.4">-0.1</text><text y="14.4">1.0</text></g><g transform="translate(227.41 460.78) scale(0.25)" fill="#111" stroke="#111" stroke-width="0.2"><text y="-6.4">0.11</text><text y="14.4">1.0</text></g><g transform="translate(245.63 460.78) scale(0.25)" fill="#111" stroke="#111" stroke-width="0.2"><text y="-6.4">-0.09</text><text y="14.4">1.0</text></g><g transform="translate(263.85 460.78) scale(0.25)" fill="#111" stroke="#111" stroke-width="0.2"><text y="-6.4">-0.01</text><text y="14.4">1.0</text></g><g transform="translate(282.07 460.78) scale(0.25)" fill="#111" stroke="#111" stroke-width="0.2"><text y="-6.4">-0.05</text><text y="14.4">1.0</text></g><g transform="translate(300.29 460.78) scale(0.25)" fill="#111" stroke="#111" stroke-width="0.2"><text y="-6.4">-0.07</text><text y="14.4">1.0</text></g><g transform="translate(318.51 460.78) scale(0.25)" fill="#111" stroke="#111" stroke-width="0.2"><text y="-6.4">-0.07</text><text y="14.4">1.0</text></g><g transform="translate(336.73 460.78) scale(0.25)" fill="#111" stroke="#111" stroke-width="0.2"><text y="-6.4">0.01</text><text y="14.4">1.0</text></g><g transform="translate(45.21 480.33) scale(0.25)" fill="#111" stroke="#111" stroke-width="0.2"><text y="-6.4">-0.34</text><text y="14.4">0.229</text></g><g transform="translate(63.43 480.33) scale(0.25)" fill="#fff" stroke="#fff" stroke-width="0.2"><text y="-6.4">-0.6</text><text y="14.4">&lt;0.001</text></g><g transform="translate(81.65 480.33) scale(0.25)" fill="#fff" stroke="#fff" stroke-width="0.2"><text y="-6.4">-0.64</text><text y="14.4">&lt;0.001</text></g><g transform="translate(99.87 480.33) scale(0.25)" fill="#111" stroke="#111" stroke-width="0.2"><text y="-6.4">-0.47</text><text y="14.4">&lt;0.001</text></g><g transform="translate(118.09 480.33) scale(0.25)" fill="#111" stroke="#111" stroke-width="0.2"><text y="-6.4">-0.49</text><text y="14.4">&lt;0.001</text></g><g transform="translate(136.31 480.33) scale(0.25)" fill="#111" stroke="#111" stroke-width="0.2"><text y="-6.4">-0.09</text><text y="14.4">1.0</text></g><g transform="translate(154.53 480.33) scale(0.25)" fill="#fff" stroke="#fff" stroke-width="0.2"><text y="-6.4">-0.54</text><text y="14.4">&lt;0.001</text></g><g transform="translate(172.75 480.33) scale(0.25)" fill="#fff" stroke="#fff" stroke-width="0.2"><text y="-6.4">-0.55</text><text y="14.4">&lt;0.001</text></g><g transform="translate(190.97 480.33) scale(0.25)" fill="#111" stroke="#111" stroke-width="0.2"><text y="-6.4">-0.25</text><text y="14.4">1.0</text></g><g transform="translate(209.19 480.33) scale(0.25)" fill="#111" stroke="#111" stroke-width="0.2"><text y="-6.4">-0.48</text><text y="14.4">0.001</text></g><g transform="translate(227.41 480.33) scale(0.25)" fill="#111" stroke="#111" stroke-width="0.2"><text y="-6.4">0.02</text><text y="14.4">1.0</text></g><g transform="translate(245.63 480.33) scale(0.25)" fill="#111" stroke="#111" stroke-width="0.2"><text y="-6.4">-0.41</text><text y="14.4">0.012</text></g><g transform="translate(263.85 480.33) scale(0.25)" fill="#111" stroke="#111" stroke-width="0.2"><text y="-6.4">-0.49</text><text y="14.4">&lt;0.001</text></g><g transform="translate(282.07 480.33) scale(0.25)" fill="#fff" stroke="#fff" stroke-width="0.2"><text y="-6.4">-0.69</text><text y="14.4">&lt;0.001</text></g><g transform="translate(300.29 480.33) scale(0.25)" fill="#fff" stroke="#fff" stroke-width="0.2"><text y="-6.4">-0.6</text><text y="14.4">&lt;0.001</text></g><g transform="translate(318.51 480.33) scale(0.25)" fill="#fff" stroke="#fff" stroke-width="0.2"><text y="-6.4">-0.62</text><text y="14.4">&lt;0.001</text></g><g transform="translate(336.73 480.33) scale(0.25)" fill="#fff" stroke="#fff" stroke-width="0.2"><text y="-6.4">-0.55</text><text y="14.4">&lt;0.001</text></g></g><text x="35.8" y="384.18" text-anchor="end" font-size="9.1" font-style="italic" fill="#111" stroke="#111" stroke-width="0.12">CXCR3</text><text x="35.8" y="403.73" text-anchor="end" font-size="9.1" font-style="italic" fill="#111" stroke="#111" stroke-width="0.12">IL7R</text><text x="35.8" y="423.28" text-anchor="end" font-size="9.1" font-style="italic" fill="#111" stroke="#111" stroke-width="0.12">IL2RG</text><text x="35.8" y="442.83" text-anchor="end" font-size="9.1" font-style="italic" fill="#111" stroke="#111" stroke-width="0.12">IL7</text><text x="35.8" y="462.38" text-anchor="end" font-size="9.1" font-style="italic" fill="#111" stroke="#111" stroke-width="0.12">IL1B</text><text x="35.8" y="481.93" text-anchor="end" font-size="9.1" font-style="italic" fill="#111" stroke="#111" stroke-width="0.12">TGFB1</text><text transform="translate(48.61 494.5) rotate(-90)" text-anchor="end" font-size="8.9" font-style="italic" letter-spacing="0.1" fill="#111" stroke="#111" stroke-width="0.08">MUC1</text><text transform="translate(66.83 494.5) rotate(-90)" text-anchor="end" font-size="8.9" font-style="italic" letter-spacing="0.1" fill="#111" stroke="#111" stroke-width="0.08">MUC2</text><text transform="translate(85.05 494.5) rotate(-90)" text-anchor="end" font-size="8.9" font-style="italic" letter-spacing="0.1" fill="#111" stroke="#111" stroke-width="0.08">MUC3A</text><text transform="translate(103.27 494.5) rotate(-90)" text-anchor="end" font-size="8.9" font-style="italic" letter-spacing="0.1" fill="#111" stroke="#111" stroke-width="0.08">MUC4</text><text transform="translate(121.49 494.5) rotate(-90)" text-anchor="end" font-size="8.9" font-style="italic" letter-spacing="0.1" fill="#111" stroke="#111" stroke-width="0.08">MUC5B</text><text transform="translate(139.71 494.5) rotate(-90)" text-anchor="end" font-size="8.9" font-style="italic" letter-spacing="0.1" fill="#111" stroke="#111" stroke-width="0.08">MUCC6</text><text transform="translate(157.93 494.5) rotate(-90)" text-anchor="end" font-size="8.9" font-style="italic" letter-spacing="0.1" fill="#111" stroke="#111" stroke-width="0.08">MUC12</text><text transform="translate(176.15 494.5) rotate(-90)" text-anchor="end" font-size="8.9" font-style="italic" letter-spacing="0.1" fill="#111" stroke="#111" stroke-width="0.08">MUC13</text><text transform="translate(194.37 494.5) rotate(-90)" text-anchor="end" font-size="8.9" font-style="italic" letter-spacing="0.1" fill="#111" stroke="#111" stroke-width="0.08">MUC17</text><text transform="translate(212.59 494.5) rotate(-90)" text-anchor="end" font-size="8.9" font-style="italic" letter-spacing="0.1" fill="#111" stroke="#111" stroke-width="0.08">MUC20</text><text transform="translate(230.81 494.5) rotate(-90)" text-anchor="end" font-size="8.9" font-style="italic" letter-spacing="0.1" fill="#111" stroke="#111" stroke-width="0.08">MUC21</text><text transform="translate(249.03 494.5) rotate(-90)" text-anchor="end" font-size="8.9" font-style="italic" letter-spacing="0.1" fill="#111" stroke="#111" stroke-width="0.08">GCNT1</text><text transform="translate(267.25 494.5) rotate(-90)" text-anchor="end" font-size="8.9" font-style="italic" letter-spacing="0.1" fill="#111" stroke="#111" stroke-width="0.08">GCNT3</text><text transform="translate(285.47 494.5) rotate(-90)" text-anchor="end" font-size="8.9" font-style="italic" letter-spacing="0.1" fill="#111" stroke="#111" stroke-width="0.08">B3GNT6</text><text transform="translate(303.69 494.5) rotate(-90)" text-anchor="end" font-size="8.9" font-style="italic" letter-spacing="0.1" fill="#111" stroke="#111" stroke-width="0.08">GALNT4</text><text transform="translate(321.91 494.5) rotate(-90)" text-anchor="end" font-size="8.9" font-style="italic" letter-spacing="0.1" fill="#111" stroke="#111" stroke-width="0.08">ST6GALNAC1</text><text transform="translate(340.13 494.5) rotate(-90)" text-anchor="end" font-size="8.9" font-style="italic" letter-spacing="0.1" fill="#111" stroke="#111" stroke-width="0.08">FUC2</text></g>
<g id="heat-g"><rect x="373.2" y="373" width="18.05" height="19.57" fill="#8ca5db"/><rect x="391.19" y="373" width="18.05" height="19.57" fill="#869ed8"/><rect x="409.19" y="373" width="18.05" height="19.57" fill="#6e85c9"/><rect x="427.19" y="373" width="18.05" height="19.57" fill="#748bcd"/><rect x="445.18" y="373" width="18.05" height="19.57" fill="#7990cf"/><rect x="463.18" y="373" width="18.05" height="19.57" fill="#d2dcee"/><rect x="481.17" y="373" width="18.05" height="19.57" fill="#859dd7"/><rect x="499.16" y="373" width="18.05" height="19.57" fill="#8ca5db"/><rect x="517.16" y="373" width="18.05" height="19.57" fill="#9fb8e3"/><rect x="535.15" y="373" width="18.05" height="19.57" fill="#829ad5"/><rect x="553.15" y="373" width="18.05" height="19.57" fill="#e2dad6"/><rect x="571.14" y="373" width="18.05" height="19.57" fill="#7990cf"/><rect x="589.14" y="373" width="18.05" height="19.57" fill="#7087ca"/><rect x="607.13" y="373" width="18.05" height="19.57" fill="#6b82c6"/><rect x="625.13" y="373" width="18.05" height="19.57" fill="#6980c4"/><rect x="643.12" y="373" width="18.05" height="19.57" fill="#6e85c9"/><rect x="661.12" y="373" width="18.05" height="19.57" fill="#647abe"/><rect x="373.2" y="392.52" width="18.05" height="19.57" fill="#dedcdb"/><rect x="391.19" y="392.52" width="18.05" height="19.57" fill="#dddddd"/><rect x="409.19" y="392.52" width="18.05" height="19.57" fill="#cfdaf0"/><rect x="427.19" y="392.52" width="18.05" height="19.57" fill="#dadde3"/><rect x="445.18" y="392.52" width="18.05" height="19.57" fill="#d9dde4"/><rect x="463.18" y="392.52" width="18.05" height="19.57" fill="#e3dad4"/><rect x="481.17" y="392.52" width="18.05" height="19.57" fill="#d8dde6"/><rect x="499.16" y="392.52" width="18.05" height="19.57" fill="#d9dde4"/><rect x="517.16" y="392.52" width="18.05" height="19.57" fill="#d7dde8"/><rect x="535.15" y="392.52" width="18.05" height="19.57" fill="#d7dde8"/><rect x="553.15" y="392.52" width="18.05" height="19.57" fill="#e8d7cd"/><rect x="571.14" y="392.52" width="18.05" height="19.57" fill="#c0d1ee"/><rect x="589.14" y="392.52" width="18.05" height="19.57" fill="#d0dbf0"/><rect x="607.13" y="392.52" width="18.05" height="19.57" fill="#d3dcee"/><rect x="625.13" y="392.52" width="18.05" height="19.57" fill="#d0dbf0"/><rect x="643.12" y="392.52" width="18.05" height="19.57" fill="#d3dcee"/><rect x="661.12" y="392.52" width="18.05" height="19.57" fill="#d5ddec"/><rect x="373.2" y="412.04" width="18.05" height="19.57" fill="#b4caeb"/><rect x="391.19" y="412.04" width="18.05" height="19.57" fill="#6d84c7"/><rect x="409.19" y="412.04" width="18.05" height="19.57" fill="#6d84c7"/><rect x="427.19" y="412.04" width="18.05" height="19.57" fill="#87a0d8"/><rect x="445.18" y="412.04" width="18.05" height="19.57" fill="#89a2d9"/><rect x="463.18" y="412.04" width="18.05" height="19.57" fill="#dbdde1"/><rect x="481.17" y="412.04" width="18.05" height="19.57" fill="#7e95d2"/><rect x="499.16" y="412.04" width="18.05" height="19.57" fill="#667dc1"/><rect x="517.16" y="412.04" width="18.05" height="19.57" fill="#a9c2e7"/><rect x="535.15" y="412.04" width="18.05" height="19.57" fill="#8aa3da"/><rect x="553.15" y="412.04" width="18.05" height="19.57" fill="#dfdcd9"/><rect x="571.14" y="412.04" width="18.05" height="19.57" fill="#8199d4"/><rect x="589.14" y="412.04" width="18.05" height="19.57" fill="#6980c4"/><rect x="607.13" y="412.04" width="18.05" height="19.57" fill="#7289cc"/><rect x="625.13" y="412.04" width="18.05" height="19.57" fill="#7c93d1"/><rect x="643.12" y="412.04" width="18.05" height="19.57" fill="#829ad5"/><rect x="661.12" y="412.04" width="18.05" height="19.57" fill="#7d94d2"/><rect x="373.2" y="431.56" width="18.05" height="19.57" fill="#a9c2e7"/><rect x="391.19" y="431.56" width="18.05" height="19.57" fill="#bbceed"/><rect x="409.19" y="431.56" width="18.05" height="19.57" fill="#b0c7ea"/><rect x="427.19" y="431.56" width="18.05" height="19.57" fill="#adc5e9"/><rect x="445.18" y="431.56" width="18.05" height="19.57" fill="#abc4e8"/><rect x="463.18" y="431.56" width="18.05" height="19.57" fill="#d3dcee"/><rect x="481.17" y="431.56" width="18.05" height="19.57" fill="#a4bde5"/><rect x="499.16" y="431.56" width="18.05" height="19.57" fill="#bbceed"/><rect x="517.16" y="431.56" width="18.05" height="19.57" fill="#b2c8ea"/><rect x="535.15" y="431.56" width="18.05" height="19.57" fill="#abc4e8"/><rect x="553.15" y="431.56" width="18.05" height="19.57" fill="#f0ccba"/><rect x="571.14" y="431.56" width="18.05" height="19.57" fill="#adc5e9"/><rect x="589.14" y="431.56" width="18.05" height="19.57" fill="#abc4e8"/><rect x="607.13" y="431.56" width="18.05" height="19.57" fill="#9db6e2"/><rect x="625.13" y="431.56" width="18.05" height="19.57" fill="#8ca5db"/><rect x="643.12" y="431.56" width="18.05" height="19.57" fill="#adc5e9"/><rect x="661.12" y="431.56" width="18.05" height="19.57" fill="#9db6e2"/><rect x="373.2" y="451.08" width="18.05" height="19.57" fill="#d9dde4"/><rect x="391.19" y="451.08" width="18.05" height="19.57" fill="#8fa8dc"/><rect x="409.19" y="451.08" width="18.05" height="19.57" fill="#bed0ee"/><rect x="427.19" y="451.08" width="18.05" height="19.57" fill="#d3dcee"/><rect x="445.18" y="451.08" width="18.05" height="19.57" fill="#d6ddea"/><rect x="463.18" y="451.08" width="18.05" height="19.57" fill="#dbdde1"/><rect x="481.17" y="451.08" width="18.05" height="19.57" fill="#c0d1ee"/><rect x="499.16" y="451.08" width="18.05" height="19.57" fill="#839cd6"/><rect x="517.16" y="451.08" width="18.05" height="19.57" fill="#dbdde1"/><rect x="535.15" y="451.08" width="18.05" height="19.57" fill="#d8dde6"/><rect x="553.15" y="451.08" width="18.05" height="19.57" fill="#dddddd"/><rect x="571.14" y="451.08" width="18.05" height="19.57" fill="#c0d1ee"/><rect x="589.14" y="451.08" width="18.05" height="19.57" fill="#c2d2ef"/><rect x="607.13" y="451.08" width="18.05" height="19.57" fill="#cbd8ef"/><rect x="625.13" y="451.08" width="18.05" height="19.57" fill="#cbd8ef"/><rect x="643.12" y="451.08" width="18.05" height="19.57" fill="#d6ddea"/><rect x="661.12" y="451.08" width="18.05" height="19.57" fill="#d8dde6"/><rect x="373.2" y="470.6" width="18.05" height="19.57" fill="#f4a387"/><rect x="391.19" y="470.6" width="18.05" height="19.57" fill="#f2977a"/><rect x="409.19" y="470.6" width="18.05" height="19.57" fill="#ea7c62"/><rect x="427.19" y="470.6" width="18.05" height="19.57" fill="#e7755c"/><rect x="445.18" y="470.6" width="18.05" height="19.57" fill="#eb8368"/><rect x="463.18" y="470.6" width="18.05" height="19.57" fill="#e4d9d2"/><rect x="481.17" y="470.6" width="18.05" height="19.57" fill="#f19578"/><rect x="499.16" y="470.6" width="18.05" height="19.57" fill="#f39c7e"/><rect x="517.16" y="470.6" width="18.05" height="19.57" fill="#f7b9a0"/><rect x="535.15" y="470.6" width="18.05" height="19.57" fill="#ef9174"/><rect x="553.15" y="470.6" width="18.05" height="19.57" fill="#eecebe"/><rect x="571.14" y="470.6" width="18.05" height="19.57" fill="#f7b89e"/><rect x="589.14" y="470.6" width="18.05" height="19.57" fill="#ed8a6e"/><rect x="607.13" y="470.6" width="18.05" height="19.57" fill="#e8785e"/><rect x="625.13" y="470.6" width="18.05" height="19.57" fill="#ec886c"/><rect x="643.12" y="470.6" width="18.05" height="19.57" fill="#e7755c"/><rect x="661.12" y="470.6" width="18.05" height="19.57" fill="#e8785e"/><path d="M391.19 373V490.12M409.19 373V490.12M427.19 373V490.12M445.18 373V490.12M463.18 373V490.12M481.17 373V490.12M499.16 373V490.12M517.16 373V490.12M535.15 373V490.12M553.15 373V490.12M571.14 373V490.12M589.14 373V490.12M607.13 373V490.12M625.13 373V490.12M643.12 373V490.12M661.12 373V490.12M373.2 392.52H679.12M373.2 412.04H679.12M373.2 431.56H679.12M373.2 451.08H679.12M373.2 470.6H679.12" stroke="#fff" stroke-opacity="0.35" stroke-width="0.6" fill="none"/><g font-family='"Liberation Sans","DejaVu Sans",sans-serif' font-size="16.8" text-anchor="middle"><g transform="translate(382.2 382.76) scale(0.25)" fill="#111" stroke="#111" stroke-width="0.2"><text y="-6.4">0.48</text><text y="14.4">&lt;0.001</text></g><g transform="translate(400.19 382.76) scale(0.25)" fill="#111" stroke="#111" stroke-width="0.2"><text y="-6.4">0.52</text><text y="14.4">&lt;0.001</text></g><g transform="translate(418.19 382.76) scale(0.25)" fill="#fff" stroke="#fff" stroke-width="0.2"><text y="-6.4">0.69</text><text y="14.4">&lt;0.001</text></g><g transform="translate(436.18 382.76) scale(0.25)" fill="#fff" stroke="#fff" stroke-width="0.2"><text y="-6.4">0.66</text><text y="14.4">&lt;0.001</text></g><g transform="translate(454.18 382.76) scale(0.25)" fill="#fff" stroke="#fff" stroke-width="0.2"><text y="-6.4">0.63</text><text y="14.4">&lt;0.001</text></g><g transform="translate(472.17 382.76) scale(0.25)" fill="#111" stroke="#111" stroke-width="0.2"><text y="-6.4">0.11</text><text y="14.4">1.0</text></g><g transform="translate(490.17 382.76) scale(0.25)" fill="#111" stroke="#111" stroke-width="0.2"><text y="-6.4">0.53</text><text y="14.4">&lt;0.001</text></g><g transform="translate(508.16 382.76) scale(0.25)" fill="#111" stroke="#111" stroke-width="0.2"><text y="-6.4">0.48</text><text y="14.4">&lt;0.001</text></g><g transform="translate(526.16 382.76) scale(0.25)" fill="#111" stroke="#111" stroke-width="0.2"><text y="-6.4">0.4</text><text y="14.4">0.004</text></g><g transform="translate(544.15 382.76) scale(0.25)" fill="#fff" stroke="#fff" stroke-width="0.2"><text y="-6.4">0.55</text><text y="14.4">&lt;0.001</text></g><g transform="translate(562.15 382.76) scale(0.25)" fill="#111" stroke="#111" stroke-width="0.2"><text y="-6.4">-0.04</text><text y="14.4">1.0</text></g><g transform="translate(580.14 382.76) scale(0.25)" fill="#fff" stroke="#fff" stroke-width="0.2"><text y="-6.4">0.63</text><text y="14.4">&lt;0.001</text></g><g transform="translate(598.14 382.76) scale(0.25)" fill="#fff" stroke="#fff" stroke-width="0.2"><text y="-6.4">0.68</text><text y="14.4">&lt;0.001</text></g><g transform="translate(616.13 382.76) scale(0.25)" fill="#fff" stroke="#fff" stroke-width="0.2"><text y="-6.4">0.71</text><text y="14.4">&lt;0.001</text></g><g transform="translate(634.13 382.76) scale(0.25)" fill="#fff" stroke="#fff" stroke-width="0.2"><text y="-6.4">0.72</text><text y="14.4">&lt;0.001</text></g><g transform="translate(652.12 382.76) scale(0.25)" fill="#fff" stroke="#fff" stroke-width="0.2"><text y="-6.4">0.69</text><text y="14.4">&lt;0.001</text></g><g transform="translate(670.12 382.76) scale(0.25)" fill="#fff" stroke="#fff" stroke-width="0.2"><text y="-6.4">0.76</text><text y="14.4">&lt;0.001</text></g><g transform="translate(382.2 402.28) scale(0.25)" fill="#111" stroke="#111" stroke-width="0.2"><text y="-6.4">-0.01</text><text y="14.4">1.0</text></g><g transform="translate(400.19 402.28) scale(0.25)" fill="#111" stroke="#111" stroke-width="0.2"><text y="-6.4">0.0</text><text y="14.4">1.0</text></g><g transform="translate(418.19 402.28) scale(0.25)" fill="#111" stroke="#111" stroke-width="0.2"><text y="-6.4">0.14</text><text y="14.4">1.0</text></g><g transform="translate(436.18 402.28) scale(0.25)" fill="#111" stroke="#111" stroke-width="0.2"><text y="-6.4">0.03</text><text y="14.4">1.0</text></g><g transform="translate(454.18 402.28) scale(0.25)" fill="#111" stroke="#111" stroke-width="0.2"><text y="-6.4">0.04</text><text y="14.4">1.0</text></g><g transform="translate(472.17 402.28) scale(0.25)" fill="#111" stroke="#111" stroke-width="0.2"><text y="-6.4">-0.05</text><text y="14.4">1.0</text></g><g transform="translate(490.17 402.28) scale(0.25)" fill="#111" stroke="#111" stroke-width="0.2"><text y="-6.4">0.05</text><text y="14.4">1.0</text></g><g transform="translate(508.16 402.28) scale(0.25)" fill="#111" stroke="#111" stroke-width="0.2"><text y="-6.4">0.04</text><text y="14.4">1.0</text></g><g transform="translate(526.16 402.28) scale(0.25)" fill="#111" stroke="#111" stroke-width="0.2"><text y="-6.4">0.06</text><text y="14.4">1.0</text></g><g transform="translate(544.15 402.28) scale(0.25)" fill="#111" stroke="#111" stroke-width="0.2"><text y="-6.4">0.06</text><text y="14.4">1.0</text></g><g transform="translate(562.15 402.28) scale(0.25)" fill="#111" stroke="#111" stroke-width="0.2"><text y="-6.4">-0.09</text><text y="14.4">1.0</text></g><g transform="translate(580.14 402.28) scale(0.25)" fill="#111" stroke="#111" stroke-width="0.2"><text y="-6.4">0.25</text><text y="14.4">1.0</text></g><g transform="translate(598.14 402.28) scale(0.25)" fill="#111" stroke="#111" stroke-width="0.2"><text y="-6.4">0.13</text><text y="14.4">1.0</text></g><g transform="translate(616.13 402.28) scale(0.25)" fill="#111" stroke="#111" stroke-width="0.2"><text y="-6.4">0.1</text><text y="14.4">1.0</text></g><g transform="translate(634.13 402.28) scale(0.25)" fill="#111" stroke="#111" stroke-width="0.2"><text y="-6.4">0.13</text><text y="14.4">1.0</text></g><g transform="translate(652.12 402.28) scale(0.25)" fill="#111" stroke="#111" stroke-width="0.2"><text y="-6.4">0.1</text><text y="14.4">1.0</text></g><g transform="translate(670.12 402.28) scale(0.25)" fill="#111" stroke="#111" stroke-width="0.2"><text y="-6.4">0.08</text><text y="14.4">1.0</text></g><g transform="translate(382.2 421.8) scale(0.25)" fill="#111" stroke="#111" stroke-width="0.2"><text y="-6.4">0.31</text><text y="14.4">0.234</text></g><g transform="translate(400.19 421.8) scale(0.25)" fill="#fff" stroke="#fff" stroke-width="0.2"><text y="-6.4">0.7</text><text y="14.4">&lt;0.001</text></g><g transform="translate(418.19 421.8) scale(0.25)" fill="#fff" stroke="#fff" stroke-width="0.2"><text y="-6.4">0.7</text><text y="14.4">&lt;0.001</text></g><g transform="translate(436.18 421.8) scale(0.25)" fill="#111" stroke="#111" stroke-width="0.2"><text y="-6.4">0.51</text><text y="14.4">&lt;0.001</text></g><g transform="translate(454.18 421.8) scale(0.25)" fill="#111" stroke="#111" stroke-width="0.2"><text y="-6.4">0.5</text><text y="14.4">&lt;0.001</text></g><g transform="translate(472.17 421.8) scale(0.25)" fill="#111" stroke="#111" stroke-width="0.2"><text y="-6.4">0.02</text><text y="14.4">1.0</text></g><g transform="translate(490.17 421.8) scale(0.25)" fill="#fff" stroke="#fff" stroke-width="0.2"><text y="-6.4">0.59</text><text y="14.4">&lt;0.001</text></g><g transform="translate(508.16 421.8) scale(0.25)" fill="#fff" stroke="#fff" stroke-width="0.2"><text y="-6.4">0.74</text><text y="14.4">&lt;0.001</text></g><g transform="translate(526.16 421.8) scale(0.25)" fill="#111" stroke="#111" stroke-width="0.2"><text y="-6.4">0.36</text><text y="14.4">0.032</text></g><g transform="translate(544.15 421.8) scale(0.25)" fill="#111" stroke="#111" stroke-width="0.2"><text y="-6.4">0.49</text><text y="14.4">&lt;0.001</text></g><g transform="translate(562.15 421.8) scale(0.25)" fill="#111" stroke="#111" stroke-width="0.2"><text y="-6.4">-0.02</text><text y="14.4">1.0</text></g><g transform="translate(580.14 421.8) scale(0.25)" fill="#fff" stroke="#fff" stroke-width="0.2"><text y="-6.4">0.56</text><text y="14.4">&lt;0.001</text></g><g transform="translate(598.14 421.8) scale(0.25)" fill="#fff" stroke="#fff" stroke-width="0.2"><text y="-6.4">0.72</text><text y="14.4">&lt;0.001</text></g><g transform="translate(616.13 421.8) scale(0.25)" fill="#fff" stroke="#fff" stroke-width="0.2"><text y="-6.4">0.67</text><text y="14.4">&lt;0.001</text></g><g transform="translate(634.13 421.8) scale(0.25)" fill="#fff" stroke="#fff" stroke-width="0.2"><text y="-6.4">0.61</text><text y="14.4">&lt;0.001</text></g><g transform="translate(652.12 421.8) scale(0.25)" fill="#fff" stroke="#fff" stroke-width="0.2"><text y="-6.4">0.55</text><text y="14.4">&lt;0.001</text></g><g transform="translate(670.12 421.8) scale(0.25)" fill="#fff" stroke="#fff" stroke-width="0.2"><text y="-6.4">0.6</text><text y="14.4">&lt;0.001</text></g><g transform="translate(382.2 441.32) scale(0.25)" fill="#111" stroke="#111" stroke-width="0.2"><text y="-6.4">0.36</text><text y="14.4">0.03</text></g><g transform="translate(400.19 441.32) scale(0.25)" fill="#111" stroke="#111" stroke-width="0.2"><text y="-6.4">0.28</text><text y="14.4">0.532</text></g><g transform="translate(418.19 441.32) scale(0.25)" fill="#111" stroke="#111" stroke-width="0.2"><text y="-6.4">0.33</text><text y="14.4">0.062</text></g><g transform="translate(436.18 441.32) scale(0.25)" fill="#111" stroke="#111" stroke-width="0.2"><text y="-6.4">0.34</text><text y="14.4">0.062</text></g><g transform="translate(454.18 441.32) scale(0.25)" fill="#111" stroke="#111" stroke-width="0.2"><text y="-6.4">0.35</text><text y="14.4">0.062</text></g><g transform="translate(472.17 441.32) scale(0.25)" fill="#111" stroke="#111" stroke-width="0.2"><text y="-6.4">0.1</text><text y="14.4">1.0</text></g><g transform="translate(490.17 441.32) scale(0.25)" fill="#111" stroke="#111" stroke-width="0.2"><text y="-6.4">0.38</text><text y="14.4">0.015</text></g><g transform="translate(508.16 441.32) scale(0.25)" fill="#111" stroke="#111" stroke-width="0.2"><text y="-6.4">0.28</text><text y="14.4">0.532</text></g><g transform="translate(526.16 441.32) scale(0.25)" fill="#111" stroke="#111" stroke-width="0.2"><text y="-6.4">0.32</text><text y="14.4">0.142</text></g><g transform="translate(544.15 441.32) scale(0.25)" fill="#111" stroke="#111" stroke-width="0.2"><text y="-6.4">0.35</text><text y="14.4">0.062</text></g><g transform="translate(562.15 441.32) scale(0.25)" fill="#111" stroke="#111" stroke-width="0.2"><text y="-6.4">-0.19</text><text y="14.4">1.0</text></g><g transform="translate(580.14 441.32) scale(0.25)" fill="#111" stroke="#111" stroke-width="0.2"><text y="-6.4">0.34</text><text y="14.4">0.062</text></g><g transform="translate(598.14 441.32) scale(0.25)" fill="#111" stroke="#111" stroke-width="0.2"><text y="-6.4">0.35</text><text y="14.4">0.062</text></g><g transform="translate(616.13 441.32) scale(0.25)" fill="#111" stroke="#111" stroke-width="0.2"><text y="-6.4">0.41</text><text y="14.4">0.005</text></g><g transform="translate(634.13 441.32) scale(0.25)" fill="#111" stroke="#111" stroke-width="0.2"><text y="-6.4">0.48</text><text y="14.4">&lt;0.001</text></g><g transform="translate(652.12 441.32) scale(0.25)" fill="#111" stroke="#111" stroke-width="0.2"><text y="-6.4">0.34</text><text y="14.4">0.062</text></g><g transform="translate(670.12 441.32) scale(0.25)" fill="#111" stroke="#111" stroke-width="0.2"><text y="-6.4">0.41</text><text y="14.4">0.005</text></g><g transform="translate(382.2 460.84) scale(0.25)" fill="#111" stroke="#111" stroke-width="0.2"><text y="-6.4">0.04</text><text y="14.4">1.0</text></g><g transform="translate(400.19 460.84) scale(0.25)" fill="#111" stroke="#111" stroke-width="0.2"><text y="-6.4">0.47</text><text y="14.4">&lt;0.001</text></g><g transform="translate(418.19 460.84) scale(0.25)" fill="#111" stroke="#111" stroke-width="0.2"><text y="-6.4">0.26</text><text y="14.4">0.99</text></g><g transform="translate(436.18 460.84) scale(0.25)" fill="#111" stroke="#111" stroke-width="0.2"><text y="-6.4">0.1</text><text y="14.4">1.0</text></g><g transform="translate(454.18 460.84) scale(0.25)" fill="#111" stroke="#111" stroke-width="0.2"><text y="-6.4">0.07</text><text y="14.4">1.0</text></g><g transform="translate(472.17 460.84) scale(0.25)" fill="#111" stroke="#111" stroke-width="0.2"><text y="-6.4">0.02</text><text y="14.4">1.0</text></g><g transform="translate(490.17 460.84) scale(0.25)" fill="#111" stroke="#111" stroke-width="0.2"><text y="-6.4">0.25</text><text y="14.4">1.0</text></g><g transform="translate(508.16 460.84) scale(0.25)" fill="#fff" stroke="#fff" stroke-width="0.2"><text y="-6.4">0.54</text><text y="14.4">&lt;0.001</text></g><g transform="translate(526.16 460.84) scale(0.25)" fill="#111" stroke="#111" stroke-width="0.2"><text y="-6.4">0.02</text><text y="14.4">1.0</text></g><g transform="translate(544.15 460.84) scale(0.25)" fill="#111" stroke="#111" stroke-width="0.2"><text y="-6.4">0.05</text><text y="14.4">1.0</text></g><g transform="translate(562.15 460.84) scale(0.25)" fill="#111" stroke="#111" stroke-width="0.2"><text y="-6.4">0.0</text><text y="14.4">1.0</text></g><g transform="translate(580.14 460.84) scale(0.25)" fill="#111" stroke="#111" stroke-width="0.2"><text y="-6.4">0.25</text><text y="14.4">1.0</text></g><g transform="translate(598.14 460.84) scale(0.25)" fill="#111" stroke="#111" stroke-width="0.2"><text y="-6.4">0.23</text><text y="14.4">1.0</text></g><g transform="translate(616.13 460.84) scale(0.25)" fill="#111" stroke="#111" stroke-width="0.2"><text y="-6.4">0.17</text><text y="14.4">1.0</text></g><g transform="translate(634.13 460.84) scale(0.25)" fill="#111" stroke="#111" stroke-width="0.2"><text y="-6.4">0.17</text><text y="14.4">1.0</text></g><g transform="translate(652.12 460.84) scale(0.25)" fill="#111" stroke="#111" stroke-width="0.2"><text y="-6.4">0.07</text><text y="14.4">1.0</text></g><g transform="translate(670.12 460.84) scale(0.25)" fill="#111" stroke="#111" stroke-width="0.2"><text y="-6.4">0.05</text><text y="14.4">1.0</text></g><g transform="translate(382.2 480.36) scale(0.25)" fill="#111" stroke="#111" stroke-width="0.2"><text y="-6.4">-0.45</text><text y="14.4">&lt;0.001</text></g><g transform="translate(400.19 480.36) scale(0.25)" fill="#111" stroke="#111" stroke-width="0.2"><text y="-6.4">-0.51</text><text y="14.4">&lt;0.001</text></g><g transform="translate(418.19 480.36) scale(0.25)" fill="#fff" stroke="#fff" stroke-width="0.2"><text y="-6.4">-0.63</text><text y="14.4">&lt;0.001</text></g><g transform="translate(436.18 480.36) scale(0.25)" fill="#fff" stroke="#fff" stroke-width="0.2"><text y="-6.4">-0.66</text><text y="14.4">&lt;0.001</text></g><g transform="translate(454.18 480.36) scale(0.25)" fill="#fff" stroke="#fff" stroke-width="0.2"><text y="-6.4">-0.6</text><text y="14.4">&lt;0.001</text></g><g transform="translate(472.17 480.36) scale(0.25)" fill="#111" stroke="#111" stroke-width="0.2"><text y="-6.4">-0.06</text><text y="14.4">1.0</text></g><g transform="translate(490.17 480.36) scale(0.25)" fill="#111" stroke="#111" stroke-width="0.2"><text y="-6.4">-0.52</text><text y="14.4">&lt;0.001</text></g><g transform="translate(508.16 480.36) scale(0.25)" fill="#111" stroke="#111" stroke-width="0.2"><text y="-6.4">-0.49</text><text y="14.4">&lt;0.001</text></g><g transform="translate(526.16 480.36) scale(0.25)" fill="#111" stroke="#111" stroke-width="0.2"><text y="-6.4">-0.33</text><text y="14.4">0.088</text></g><g transform="translate(544.15 480.36) scale(0.25)" fill="#fff" stroke="#fff" stroke-width="0.2"><text y="-6.4">-0.54</text><text y="14.4">&lt;0.001</text></g><g transform="translate(562.15 480.36) scale(0.25)" fill="#111" stroke="#111" stroke-width="0.2"><text y="-6.4">-0.17</text><text y="14.4">1.0</text></g><g transform="translate(580.14 480.36) scale(0.25)" fill="#111" stroke="#111" stroke-width="0.2"><text y="-6.4">-0.34</text><text y="14.4">0.06</text></g><g transform="translate(598.14 480.36) scale(0.25)" fill="#fff" stroke="#fff" stroke-width="0.2"><text y="-6.4">-0.57</text><text y="14.4">&lt;0.001</text></g><g transform="translate(616.13 480.36) scale(0.25)" fill="#fff" stroke="#fff" stroke-width="0.2"><text y="-6.4">-0.65</text><text y="14.4">&lt;0.001</text></g><g transform="translate(634.13 480.36) scale(0.25)" fill="#fff" stroke="#fff" stroke-width="0.2"><text y="-6.4">-0.58</text><text y="14.4">&lt;0.001</text></g><g transform="translate(652.12 480.36) scale(0.25)" fill="#fff" stroke="#fff" stroke-width="0.2"><text y="-6.4">-0.66</text><text y="14.4">&lt;0.001</text></g><g transform="translate(670.12 480.36) scale(0.25)" fill="#fff" stroke="#fff" stroke-width="0.2"><text y="-6.4">-0.65</text><text y="14.4">&lt;0.001</text></g></g><text x="372.9" y="384.36" text-anchor="end" font-size="9.1" font-style="italic" fill="#111" stroke="#111" stroke-width="0.12">CXCR3</text><text x="372.9" y="403.88" text-anchor="end" font-size="9.1" font-style="italic" fill="#111" stroke="#111" stroke-width="0.12">IL7R</text><text x="372.9" y="423.4" text-anchor="end" font-size="9.1" font-style="italic" fill="#111" stroke="#111" stroke-width="0.12">IL2RG</text><text x="372.9" y="442.92" text-anchor="end" font-size="9.1" font-style="italic" fill="#111" stroke="#111" stroke-width="0.12">IL7</text><text x="372.9" y="462.44" text-anchor="end" font-size="9.1" font-style="italic" fill="#111" stroke="#111" stroke-width="0.12">IL1B</text><text x="372.9" y="481.96" text-anchor="end" font-size="9.1" font-style="italic" fill="#111" stroke="#111" stroke-width="0.12">TGFB1</text><text transform="translate(385.6 494.52) rotate(-90)" text-anchor="end" font-size="8.9" font-style="italic" letter-spacing="0.1" fill="#111" stroke="#111" stroke-width="0.08">MUC1</text><text transform="translate(403.59 494.52) rotate(-90)" text-anchor="end" font-size="8.9" font-style="italic" letter-spacing="0.1" fill="#111" stroke="#111" stroke-width="0.08">MUC2</text><text transform="translate(421.59 494.52) rotate(-90)" text-anchor="end" font-size="8.9" font-style="italic" letter-spacing="0.1" fill="#111" stroke="#111" stroke-width="0.08">MUC3A</text><text transform="translate(439.58 494.52) rotate(-90)" text-anchor="end" font-size="8.9" font-style="italic" letter-spacing="0.1" fill="#111" stroke="#111" stroke-width="0.08">MUC4</text><text transform="translate(457.58 494.52) rotate(-90)" text-anchor="end" font-size="8.9" font-style="italic" letter-spacing="0.1" fill="#111" stroke="#111" stroke-width="0.08">MUC5B</text><text transform="translate(475.57 494.52) rotate(-90)" text-anchor="end" font-size="8.9" font-style="italic" letter-spacing="0.1" fill="#111" stroke="#111" stroke-width="0.08">MUCC6</text><text transform="translate(493.57 494.52) rotate(-90)" text-anchor="end" font-size="8.9" font-style="italic" letter-spacing="0.1" fill="#111" stroke="#111" stroke-width="0.08">MUC12</text><text transform="translate(511.56 494.52) rotate(-90)" text-anchor="end" font-size="8.9" font-style="italic" letter-spacing="0.1" fill="#111" stroke="#111" stroke-width="0.08">MUC13</text><text transform="translate(529.56 494.52) rotate(-90)" text-anchor="end" font-size="8.9" font-style="italic" letter-spacing="0.1" fill="#111" stroke="#111" stroke-width="0.08">MUC17</text><text transform="translate(547.55 494.52) rotate(-90)" text-anchor="end" font-size="8.9" font-style="italic" letter-spacing="0.1" fill="#111" stroke="#111" stroke-width="0.08">MUC20</text><text transform="translate(565.55 494.52) rotate(-90)" text-anchor="end" font-size="8.9" font-style="italic" letter-spacing="0.1" fill="#111" stroke="#111" stroke-width="0.08">MUC21</text><text transform="translate(583.54 494.52) rotate(-90)" text-anchor="end" font-size="8.9" font-style="italic" letter-spacing="0.1" fill="#111" stroke="#111" stroke-width="0.08">GCNT1</text><text transform="translate(601.54 494.52) rotate(-90)" text-anchor="end" font-size="8.9" font-style="italic" letter-spacing="0.1" fill="#111" stroke="#111" stroke-width="0.08">GCNT3</text><text transform="translate(619.53 494.52) rotate(-90)" text-anchor="end" font-size="8.9" font-style="italic" letter-spacing="0.1" fill="#111" stroke="#111" stroke-width="0.08">B3GNT6</text><text transform="translate(637.53 494.52) rotate(-90)" text-anchor="end" font-size="8.9" font-style="italic" letter-spacing="0.1" fill="#111" stroke="#111" stroke-width="0.08">GALNT4</text><text transform="translate(655.52 494.52) rotate(-90)" text-anchor="end" font-size="8.9" font-style="italic" letter-spacing="0.1" fill="#111" stroke="#111" stroke-width="0.08">ST6GALNAC1</text><text transform="translate(673.52 494.52) rotate(-90)" text-anchor="end" font-size="8.9" font-style="italic" letter-spacing="0.1" fill="#111" stroke="#111" stroke-width="0.08">FUC2</text></g>
</svg></body></html>
